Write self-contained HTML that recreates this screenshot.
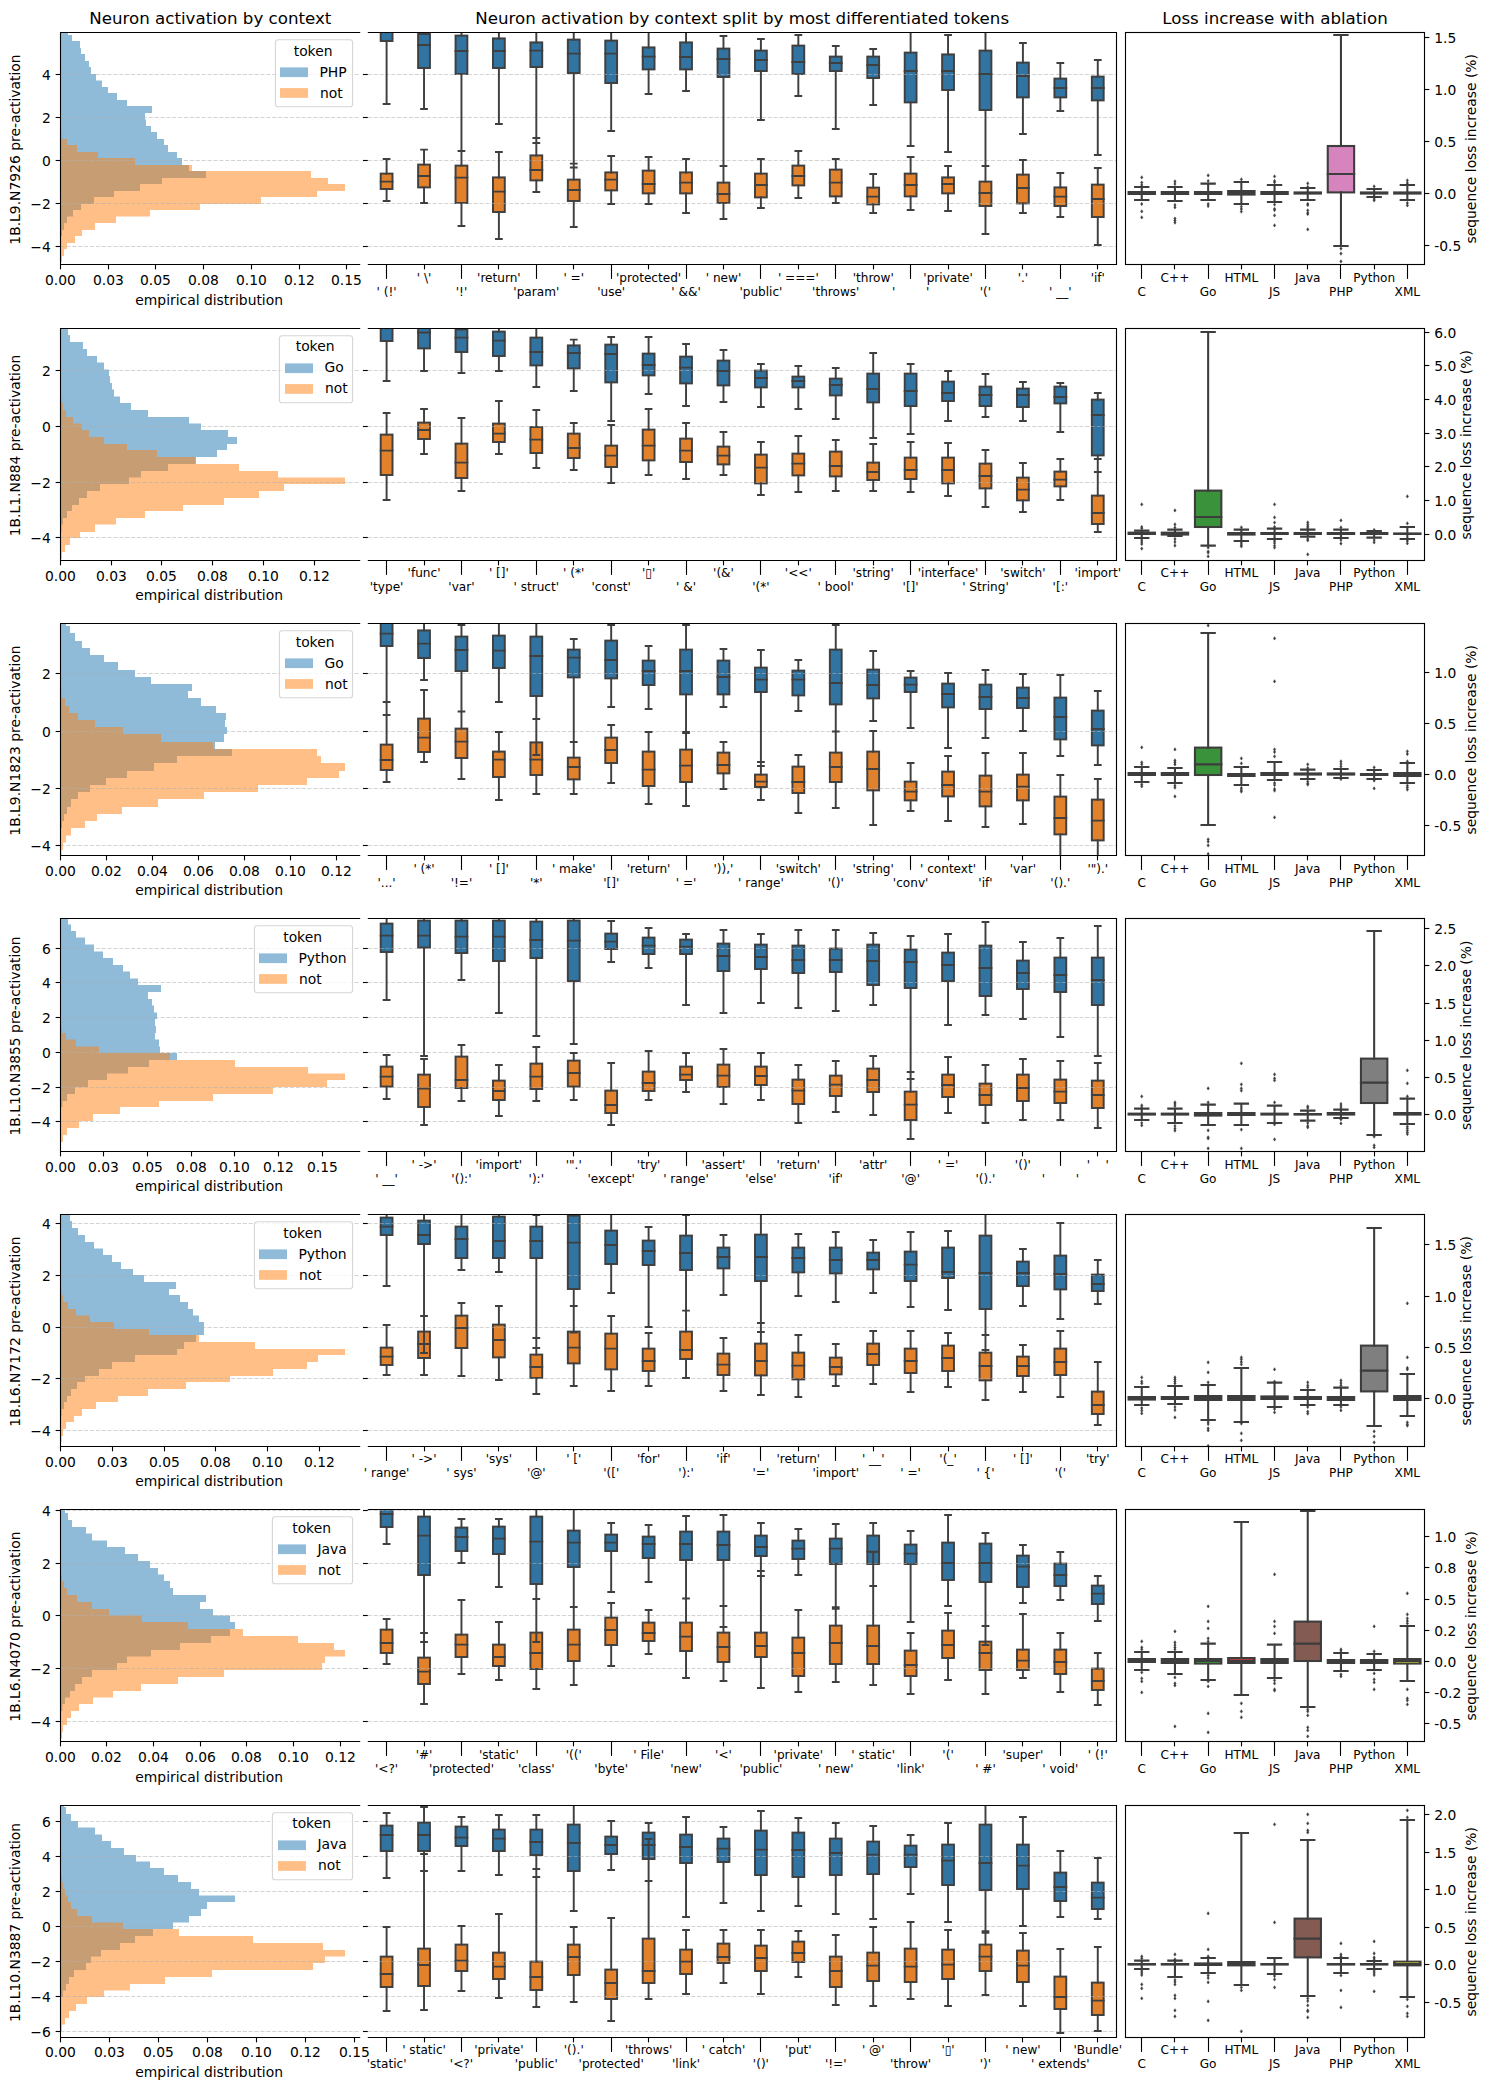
<!DOCTYPE html>
<html lang="en"><head><meta charset="utf-8"><title>Neuron activation by context</title>
<style>html,body{margin:0;padding:0;background:#fff}svg{display:block}text{white-space:pre}</style></head>
<body>
<svg width="1490" height="2090" viewBox="0 0 1490 2090" font-family="'DejaVu Sans','Liberation Sans',sans-serif" fill="#000">
<rect width="1490" height="2090" fill="#fff"/>
<text x="210.35" y="23.5" font-size="16.67" text-anchor="middle">Neuron activation by context</text>
<text x="742.15" y="23.5" font-size="16.67" text-anchor="middle">Neuron activation by context split by most differentiated tokens</text>
<text x="1275" y="23.5" font-size="16.67" text-anchor="middle">Loss increase with ablation</text>
<defs>
<clipPath id="ch0"><rect x="60.5" y="32.5" width="299.7" height="232"/></clipPath>
<clipPath id="cm0"><rect x="367.8" y="32.5" width="748.7" height="232"/></clipPath>
<clipPath id="cl0"><rect x="1125.5" y="32.5" width="299" height="232"/></clipPath>
<clipPath id="ch1"><rect x="60.5" y="328.5" width="299.7" height="232"/></clipPath>
<clipPath id="cm1"><rect x="367.8" y="328.5" width="748.7" height="232"/></clipPath>
<clipPath id="cl1"><rect x="1125.5" y="328.5" width="299" height="232"/></clipPath>
<clipPath id="ch2"><rect x="60.5" y="623.5" width="299.7" height="232"/></clipPath>
<clipPath id="cm2"><rect x="367.8" y="623.5" width="748.7" height="232"/></clipPath>
<clipPath id="cl2"><rect x="1125.5" y="623.5" width="299" height="232"/></clipPath>
<clipPath id="ch3"><rect x="60.5" y="918.5" width="299.7" height="233"/></clipPath>
<clipPath id="cm3"><rect x="367.8" y="918.5" width="748.7" height="233"/></clipPath>
<clipPath id="cl3"><rect x="1125.5" y="918.5" width="299" height="233"/></clipPath>
<clipPath id="ch4"><rect x="60.5" y="1214.5" width="299.7" height="232"/></clipPath>
<clipPath id="cm4"><rect x="367.8" y="1214.5" width="748.7" height="232"/></clipPath>
<clipPath id="cl4"><rect x="1125.5" y="1214.5" width="299" height="232"/></clipPath>
<clipPath id="ch5"><rect x="60.5" y="1509.5" width="299.7" height="232"/></clipPath>
<clipPath id="cm5"><rect x="367.8" y="1509.5" width="748.7" height="232"/></clipPath>
<clipPath id="cl5"><rect x="1125.5" y="1509.5" width="299" height="232"/></clipPath>
<clipPath id="ch6"><rect x="60.5" y="1805.5" width="299.7" height="232"/></clipPath>
<clipPath id="cm6"><rect x="367.8" y="1805.5" width="748.7" height="232"/></clipPath>
<clipPath id="cl6"><rect x="1125.5" y="1805.5" width="299" height="232"/></clipPath>
</defs>
<g id="row0">
<g clip-path="url(#ch0)">
<path d="M60.5 30.5 L68 30.5 L68 35 L72 35 L72 41 L80 41 L80 48 L81 48 L81 54 L85 54 L85 61 L89 61 L89 67 L91 67 L91 74 L96 74 L96 80.4 L102 80.4 L102 87 L108 87 L108 93 L117 93 L117 100 L127 100 L127 106 L152 106 L152 113 L145 113 L145 119.4 L146 119.4 L146 126 L151 126 L151 132 L157 132 L157 139 L164 139 L164 145 L168 145 L168 152 L177 152 L177 158 L182 158 L182 165 L189 165 L189 171 L206 171 L206 178 L162 178 L162 184 L140 184 L140 191 L114 191 L114 197 L94 197 L94 204 L81 204 L81 210 L73 210 L73 216.6 L67 216.6 L67 223 L64 223 L64 230 L62 230 L62 236 L61 236 L61 243 L60.5 243 L60.5 249 L60.5 249 L60.5 256 L60.5 256 L60.5 262 L60.5 262 L60.5 266.5 L60.5 266.5Z" fill="#1f77b4" fill-opacity="0.5"/>
<path d="M60.5 30.5 L60.5 30.5 L60.5 35 L60.5 35 L60.5 41 L60.5 41 L60.5 48 L60.5 48 L60.5 54 L60.5 54 L60.5 61 L60.5 61 L60.5 67 L60.5 67 L60.5 74 L60.5 74 L60.5 80.4 L60.5 80.4 L60.5 87 L60.5 87 L60.5 93 L60.5 93 L60.5 100 L60.5 100 L60.5 106 L60.5 106 L60.5 113 L60.5 113 L60.5 119.4 L60.5 119.4 L60.5 126 L60.5 126 L60.5 132 L61.6 132 L61.6 139 L67 139 L67 145 L77 145 L77 152 L98 152 L98 158 L135 158 L135 165 L192 165 L192 171 L311 171 L311 178 L328 178 L328 184 L345 184 L345 191 L317 191 L317 197 L261 197 L261 204 L200 204 L200 210 L150 210 L150 216.6 L116 216.6 L116 223 L95 223 L95 230 L82 230 L82 236 L75 236 L75 243 L67 243 L67 249 L64 249 L64 256 L62 256 L62 262 L61 262 L61 266.5 L60.5 266.5Z" fill="#ff7f0e" fill-opacity="0.5"/>
<line x1="60.5" y1="74.5" x2="360.2" y2="74.5" stroke="#b0b0b0" stroke-width="1.11" stroke-dasharray="4.1 1.78" opacity="0.55"/>
<line x1="60.5" y1="117.5" x2="360.2" y2="117.5" stroke="#b0b0b0" stroke-width="1.11" stroke-dasharray="4.1 1.78" opacity="0.55"/>
<line x1="60.5" y1="160.5" x2="360.2" y2="160.5" stroke="#b0b0b0" stroke-width="1.11" stroke-dasharray="4.1 1.78" opacity="0.55"/>
<line x1="60.5" y1="203.5" x2="360.2" y2="203.5" stroke="#b0b0b0" stroke-width="1.11" stroke-dasharray="4.1 1.78" opacity="0.55"/>
<line x1="60.5" y1="246.5" x2="360.2" y2="246.5" stroke="#b0b0b0" stroke-width="1.11" stroke-dasharray="4.1 1.78" opacity="0.55"/>
</g>
<line x1="60.5" y1="32.5" x2="60.5" y2="264.5" stroke="#000" stroke-width="1.11"/>
<line x1="59.95" y1="32.5" x2="360.2" y2="32.5" stroke="#000" stroke-width="1.11"/>
<line x1="59.95" y1="264.5" x2="360.2" y2="264.5" stroke="#000" stroke-width="1.11"/>
<line x1="55.64" y1="74.5" x2="60.5" y2="74.5" stroke="#000" stroke-width="1.11"/>
<text x="50.74" y="79.55" font-size="13.89" text-anchor="end">4</text>
<line x1="55.64" y1="117.5" x2="60.5" y2="117.5" stroke="#000" stroke-width="1.11"/>
<text x="50.74" y="122.55" font-size="13.89" text-anchor="end">2</text>
<line x1="55.64" y1="160.5" x2="60.5" y2="160.5" stroke="#000" stroke-width="1.11"/>
<text x="50.74" y="165.55" font-size="13.89" text-anchor="end">0</text>
<line x1="55.64" y1="203.5" x2="60.5" y2="203.5" stroke="#000" stroke-width="1.11"/>
<text x="50.74" y="208.55" font-size="13.89" text-anchor="end">−2</text>
<line x1="55.64" y1="246.5" x2="60.5" y2="246.5" stroke="#000" stroke-width="1.11"/>
<text x="50.74" y="251.55" font-size="13.89" text-anchor="end">−4</text>
<line x1="60.5" y1="264.5" x2="60.5" y2="269.36" stroke="#000" stroke-width="1.11"/>
<text x="60.5" y="284.8" font-size="13.89" text-anchor="middle">0.00</text>
<line x1="108.5" y1="264.5" x2="108.5" y2="269.36" stroke="#000" stroke-width="1.11"/>
<text x="108.5" y="284.8" font-size="13.89" text-anchor="middle">0.03</text>
<line x1="155.5" y1="264.5" x2="155.5" y2="269.36" stroke="#000" stroke-width="1.11"/>
<text x="155.5" y="284.8" font-size="13.89" text-anchor="middle">0.05</text>
<line x1="203.5" y1="264.5" x2="203.5" y2="269.36" stroke="#000" stroke-width="1.11"/>
<text x="203.5" y="284.8" font-size="13.89" text-anchor="middle">0.08</text>
<line x1="251.5" y1="264.5" x2="251.5" y2="269.36" stroke="#000" stroke-width="1.11"/>
<text x="251.5" y="284.8" font-size="13.89" text-anchor="middle">0.10</text>
<line x1="299.5" y1="264.5" x2="299.5" y2="269.36" stroke="#000" stroke-width="1.11"/>
<text x="299.5" y="284.8" font-size="13.89" text-anchor="middle">0.12</text>
<line x1="346.5" y1="264.5" x2="346.5" y2="269.36" stroke="#000" stroke-width="1.11"/>
<text x="346.5" y="284.8" font-size="13.89" text-anchor="middle">0.15</text>
<text x="209.15" y="304.7" font-size="13.89" text-anchor="middle">empirical distribution</text>
<text x="20.1" y="149.5" font-size="13.89" text-anchor="middle" transform="rotate(-90 20.1 149.5)">1B.L9.N7926 pre-activation</text>
<rect x="275.4" y="39.7" width="77.2" height="67" rx="2.8" fill="#fff" fill-opacity="0.8" stroke="#ccc" stroke-opacity="0.8" stroke-width="1.11"/>
<text x="313.1" y="55.7" font-size="13.89" text-anchor="middle">token</text>
<rect x="280" y="67.4" width="28" height="9.7" fill="#1f77b4" fill-opacity="0.5"/>
<rect x="280" y="88.1" width="28" height="9.7" fill="#ff7f0e" fill-opacity="0.5"/>
<text x="319.5" y="76.8" font-size="13.89" text-anchor="start">PHP</text>
<text x="319.9" y="98.1" font-size="13.89" text-anchor="start">not</text>
<g clip-path="url(#cm0)">
<g stroke="#3f3f3f" stroke-width="1.95" stroke-linejoin="miter"><rect x="380.7" y="12.5" width="11.8" height="28.5" fill="#3274a1"/><rect x="418.13" y="34" width="11.8" height="34" fill="#3274a1"/><rect x="455.56" y="35.6" width="11.8" height="38.4" fill="#3274a1"/><rect x="492.99" y="38.4" width="11.8" height="29.6" fill="#3274a1"/><rect x="530.42" y="42.4" width="11.8" height="24.6" fill="#3274a1"/><rect x="567.85" y="39.6" width="11.8" height="33.4" fill="#3274a1"/><rect x="605.28" y="40.6" width="11.8" height="42.4" fill="#3274a1"/><rect x="642.71" y="47.4" width="11.8" height="22" fill="#3274a1"/><rect x="680.14" y="42.4" width="11.8" height="27" fill="#3274a1"/><rect x="717.57" y="48.6" width="11.8" height="28.4" fill="#3274a1"/><rect x="755" y="50.6" width="11.8" height="20.4" fill="#3274a1"/><rect x="792.43" y="45.6" width="11.8" height="28.4" fill="#3274a1"/><rect x="829.86" y="56.6" width="11.8" height="14.4" fill="#3274a1"/><rect x="867.29" y="56.6" width="11.8" height="21.4" fill="#3274a1"/><rect x="904.72" y="52.6" width="11.8" height="49.8" fill="#3274a1"/><rect x="942.15" y="54.4" width="11.8" height="35.6" fill="#3274a1"/><rect x="979.58" y="50.6" width="11.8" height="59.4" fill="#3274a1"/><rect x="1017.01" y="62.6" width="11.8" height="34.8" fill="#3274a1"/><rect x="1054.44" y="78.6" width="11.8" height="18.8" fill="#3274a1"/><rect x="1091.87" y="76.6" width="11.8" height="23.8" fill="#3274a1"/><rect x="380.7" y="173.6" width="11.8" height="15.4" fill="#e1812c"/><rect x="418.13" y="164.6" width="11.8" height="22.8" fill="#e1812c"/><rect x="455.56" y="165.6" width="11.8" height="37.4" fill="#e1812c"/><rect x="492.99" y="177.4" width="11.8" height="34.6" fill="#e1812c"/><rect x="530.42" y="155.4" width="11.8" height="25" fill="#e1812c"/><rect x="567.85" y="179.6" width="11.8" height="21.4" fill="#e1812c"/><rect x="605.28" y="172.4" width="11.8" height="18" fill="#e1812c"/><rect x="642.71" y="170.6" width="11.8" height="22.8" fill="#e1812c"/><rect x="680.14" y="172.4" width="11.8" height="21" fill="#e1812c"/><rect x="717.57" y="182.6" width="11.8" height="20.4" fill="#e1812c"/><rect x="755" y="173.6" width="11.8" height="23.8" fill="#e1812c"/><rect x="792.43" y="165.6" width="11.8" height="19.8" fill="#e1812c"/><rect x="829.86" y="169.6" width="11.8" height="26.8" fill="#e1812c"/><rect x="867.29" y="187.6" width="11.8" height="16.8" fill="#e1812c"/><rect x="904.72" y="173.6" width="11.8" height="22.8" fill="#e1812c"/><rect x="942.15" y="177.4" width="11.8" height="16" fill="#e1812c"/><rect x="979.58" y="181.6" width="11.8" height="24.4" fill="#e1812c"/><rect x="1017.01" y="174.6" width="11.8" height="28.8" fill="#e1812c"/><rect x="1054.44" y="187.4" width="11.8" height="18.6" fill="#e1812c"/><rect x="1091.87" y="184.6" width="11.8" height="32.4" fill="#e1812c"/></g>
<line x1="367.8" y1="74.5" x2="1116.5" y2="74.5" stroke="#b0b0b0" stroke-width="1.11" stroke-dasharray="4.1 1.78" opacity="0.55"/>
<line x1="367.8" y1="117.5" x2="1116.5" y2="117.5" stroke="#b0b0b0" stroke-width="1.11" stroke-dasharray="4.1 1.78" opacity="0.55"/>
<line x1="367.8" y1="160.5" x2="1116.5" y2="160.5" stroke="#b0b0b0" stroke-width="1.11" stroke-dasharray="4.1 1.78" opacity="0.55"/>
<line x1="367.8" y1="203.5" x2="1116.5" y2="203.5" stroke="#b0b0b0" stroke-width="1.11" stroke-dasharray="4.1 1.78" opacity="0.55"/>
<line x1="367.8" y1="246.5" x2="1116.5" y2="246.5" stroke="#b0b0b0" stroke-width="1.11" stroke-dasharray="4.1 1.78" opacity="0.55"/>
<path d="M386.6 12.5V12.5M386.6 41V104M383.7 12.5H389.5M383.7 104H389.5M418.13 45H429.93M424.03 12.5V34M424.03 68V109M421.13 12.5H426.93M421.13 109H426.93M455.56 51H467.36M461.46 12.5V35.6M461.46 74V151M458.56 12.5H464.36M458.56 151H464.36M492.99 51H504.79M498.89 12.5V38.4M498.89 68V124M495.99 12.5H501.79M495.99 124H501.79M530.42 50.6H542.22M536.32 12.5V42.4M536.32 67V143M533.42 12.5H539.22M533.42 143H539.22M567.85 53.6H579.65M573.75 12.5V39.6M573.75 73V167.4M570.85 12.5H576.65M570.85 167.4H576.65M605.28 53.6H617.08M611.18 12.5V40.6M611.18 83V131M608.28 12.5H614.08M608.28 131H614.08M642.71 56.6H654.51M648.61 12.5V47.4M648.61 69.4V94M645.71 12.5H651.51M645.71 94H651.51M680.14 57H691.94M686.04 12.5V42.4M686.04 69.4V91M683.14 12.5H688.94M683.14 91H688.94M717.57 59H729.37M723.47 36V48.6M723.47 77V166M720.57 36H726.37M720.57 166H726.37M755 60H766.8M760.9 39V50.6M760.9 71V120M758 39H763.8M758 120H763.8M792.43 62H804.23M798.33 35V45.6M798.33 74V96M795.43 35H801.23M795.43 96H801.23M829.86 63H841.66M835.76 46V56.6M835.76 71V129M832.86 46H838.66M832.86 129H838.66M867.29 65H879.09M873.19 49V56.6M873.19 78V105M870.29 49H876.09M870.29 105H876.09M904.72 71H916.52M910.62 12.5V52.6M910.62 102.4V146M907.72 12.5H913.52M907.72 146H913.52M942.15 71H953.95M948.05 35V54.4M948.05 90V152M945.15 35H950.95M945.15 152H950.95M979.58 74H991.38M985.48 12.5V50.6M985.48 110V166M982.58 12.5H988.38M982.58 166H988.38M1017.01 76H1028.81M1022.91 43V62.6M1022.91 97.4V134M1020.01 43H1025.81M1020.01 134H1025.81M1054.44 88H1066.24M1060.34 63V78.6M1060.34 97.4V111M1057.44 63H1063.24M1057.44 111H1063.24M1091.87 88H1103.67M1097.77 60V76.6M1097.77 100.4V155M1094.87 60H1100.67M1094.87 155H1100.67M380.7 181.6H392.5M386.6 159V173.6M386.6 189V201M383.7 159H389.5M383.7 201H389.5M418.13 176H429.93M424.03 149.6V164.6M424.03 187.4V203M421.13 149.6H426.93M421.13 203H426.93M455.56 177.6H467.36M461.46 151V165.6M461.46 203V226M458.56 151H464.36M458.56 226H464.36M492.99 191.6H504.79M498.89 152V177.4M498.89 212V239M495.99 152H501.79M495.99 239H501.79M530.42 170H542.22M536.32 138V155.4M536.32 180.4V192M533.42 138H539.22M533.42 192H539.22M567.85 190H579.65M573.75 163.6V179.6M573.75 201V227M570.85 163.6H576.65M570.85 227H576.65M605.28 179.6H617.08M611.18 156V172.4M611.18 190.4V204M608.28 156H614.08M608.28 204H614.08M642.71 184H654.51M648.61 157V170.6M648.61 193.4V204M645.71 157H651.51M645.71 204H651.51M680.14 182.6H691.94M686.04 159V172.4M686.04 193.4V213M683.14 159H688.94M683.14 213H688.94M717.57 194H729.37M723.47 166V182.6M723.47 203V219M720.57 166H726.37M720.57 219H726.37M755 185H766.8M760.9 159V173.6M760.9 197.4V208M758 159H763.8M758 208H763.8M792.43 176H804.23M798.33 151V165.6M798.33 185.4V198M795.43 151H801.23M795.43 198H801.23M829.86 182.6H841.66M835.76 159V169.6M835.76 196.4V203M832.86 159H838.66M832.86 203H838.66M867.29 196.6H879.09M873.19 174V187.6M873.19 204.4V213M870.29 174H876.09M870.29 213H876.09M904.72 185H916.52M910.62 157V173.6M910.62 196.4V210M907.72 157H913.52M907.72 210H913.52M942.15 184H953.95M948.05 166V177.4M948.05 193.4V211M945.15 166H950.95M945.15 211H950.95M979.58 193H991.38M985.48 166V181.6M985.48 206V234M982.58 166H988.38M982.58 234H988.38M1017.01 188H1028.81M1022.91 160V174.6M1022.91 203.4V213M1020.01 160H1025.81M1020.01 213H1025.81M1054.44 196.6H1066.24M1060.34 173V187.4M1060.34 206V217M1057.44 173H1063.24M1057.44 217H1063.24M1091.87 199H1103.67M1097.77 168V184.6M1097.77 217V245M1094.87 168H1100.67M1094.87 245H1100.67" fill="none" stroke="#3f3f3f" stroke-width="1.95" stroke-linecap="square"/>
</g>
<line x1="367.8" y1="32.5" x2="1117.06" y2="32.5" stroke="#000" stroke-width="1.11"/>
<line x1="367.8" y1="264.5" x2="1117.06" y2="264.5" stroke="#000" stroke-width="1.11"/>
<line x1="1116.5" y1="32.5" x2="1116.5" y2="264.5" stroke="#000" stroke-width="1.11"/>
<line x1="362.94" y1="74.5" x2="367.8" y2="74.5" stroke="#000" stroke-width="1.11"/>
<line x1="362.94" y1="117.5" x2="367.8" y2="117.5" stroke="#000" stroke-width="1.11"/>
<line x1="362.94" y1="160.5" x2="367.8" y2="160.5" stroke="#000" stroke-width="1.11"/>
<line x1="362.94" y1="203.5" x2="367.8" y2="203.5" stroke="#000" stroke-width="1.11"/>
<line x1="362.94" y1="246.5" x2="367.8" y2="246.5" stroke="#000" stroke-width="1.11"/>
<line x1="386.5" y1="264.5" x2="386.5" y2="278.9" stroke="#000" stroke-width="1.11"/>
<text x="386.6" y="296.2" font-size="12.1" text-anchor="middle" xml:space="preserve">' (!'</text>
<line x1="424.5" y1="264.5" x2="424.5" y2="269.36" stroke="#000" stroke-width="1.11"/>
<text x="424.03" y="282" font-size="12.1" text-anchor="middle" xml:space="preserve">' \'</text>
<line x1="461.5" y1="264.5" x2="461.5" y2="278.9" stroke="#000" stroke-width="1.11"/>
<text x="461.46" y="296.2" font-size="12.1" text-anchor="middle" xml:space="preserve">'!'</text>
<line x1="498.5" y1="264.5" x2="498.5" y2="269.36" stroke="#000" stroke-width="1.11"/>
<text x="498.89" y="282" font-size="12.1" text-anchor="middle" xml:space="preserve">'return'</text>
<line x1="536.5" y1="264.5" x2="536.5" y2="278.9" stroke="#000" stroke-width="1.11"/>
<text x="536.32" y="296.2" font-size="12.1" text-anchor="middle" xml:space="preserve">'param'</text>
<line x1="573.5" y1="264.5" x2="573.5" y2="269.36" stroke="#000" stroke-width="1.11"/>
<text x="573.75" y="282" font-size="12.1" text-anchor="middle" xml:space="preserve">' ='</text>
<line x1="611.5" y1="264.5" x2="611.5" y2="278.9" stroke="#000" stroke-width="1.11"/>
<text x="611.18" y="296.2" font-size="12.1" text-anchor="middle" xml:space="preserve">'use'</text>
<line x1="648.5" y1="264.5" x2="648.5" y2="269.36" stroke="#000" stroke-width="1.11"/>
<text x="648.61" y="282" font-size="12.1" text-anchor="middle" xml:space="preserve">'protected'</text>
<line x1="686.5" y1="264.5" x2="686.5" y2="278.9" stroke="#000" stroke-width="1.11"/>
<text x="686.04" y="296.2" font-size="12.1" text-anchor="middle" xml:space="preserve">' &amp;&amp;'</text>
<line x1="723.5" y1="264.5" x2="723.5" y2="269.36" stroke="#000" stroke-width="1.11"/>
<text x="723.47" y="282" font-size="12.1" text-anchor="middle" xml:space="preserve">' new'</text>
<line x1="760.5" y1="264.5" x2="760.5" y2="278.9" stroke="#000" stroke-width="1.11"/>
<text x="760.9" y="296.2" font-size="12.1" text-anchor="middle" xml:space="preserve">'public'</text>
<line x1="798.5" y1="264.5" x2="798.5" y2="269.36" stroke="#000" stroke-width="1.11"/>
<text x="798.33" y="282" font-size="12.1" text-anchor="middle" xml:space="preserve">' ==='</text>
<line x1="835.5" y1="264.5" x2="835.5" y2="278.9" stroke="#000" stroke-width="1.11"/>
<text x="835.76" y="296.2" font-size="12.1" text-anchor="middle" xml:space="preserve">'throws'</text>
<line x1="873.5" y1="264.5" x2="873.5" y2="269.36" stroke="#000" stroke-width="1.11"/>
<text x="873.19" y="282" font-size="12.1" text-anchor="middle" xml:space="preserve">'throw'</text>
<line x1="910.5" y1="264.5" x2="910.5" y2="278.9" stroke="#000" stroke-width="1.11"/>
<text x="910.62" y="296.2" font-size="12.1" text-anchor="middle" xml:space="preserve">'        '</text>
<line x1="948.5" y1="264.5" x2="948.5" y2="269.36" stroke="#000" stroke-width="1.11"/>
<text x="948.05" y="282" font-size="12.1" text-anchor="middle" xml:space="preserve">'private'</text>
<line x1="985.5" y1="264.5" x2="985.5" y2="278.9" stroke="#000" stroke-width="1.11"/>
<text x="985.48" y="296.2" font-size="12.1" text-anchor="middle" xml:space="preserve">'('</text>
<line x1="1022.5" y1="264.5" x2="1022.5" y2="269.36" stroke="#000" stroke-width="1.11"/>
<text x="1022.91" y="282" font-size="12.1" text-anchor="middle" xml:space="preserve">'.'</text>
<line x1="1060.5" y1="264.5" x2="1060.5" y2="278.9" stroke="#000" stroke-width="1.11"/>
<text x="1060.34" y="296.2" font-size="12.1" text-anchor="middle" xml:space="preserve">' __'</text>
<line x1="1097.5" y1="264.5" x2="1097.5" y2="269.36" stroke="#000" stroke-width="1.11"/>
<text x="1097.77" y="282" font-size="12.1" text-anchor="middle" xml:space="preserve">'if'</text>
<g clip-path="url(#cl0)">
<g stroke="#3d3d3d" stroke-width="2.08"><rect x="1327.75" y="146" width="26.4" height="46.4" fill="#d684bd"/></g>
<path d="M1141.75 187V191M1141.75 195V200M1135.1 187H1148.4M1135.1 200H1148.4M1174.95 187V191M1174.95 195V201M1168.3 187H1181.6M1168.3 201H1181.6M1208.15 183.6V191M1208.15 195V200M1201.5 183.6H1214.8M1201.5 200H1214.8M1241.35 182V190M1241.35 195.6V204M1234.7 182H1248M1234.7 204H1248M1274.55 185V191M1274.55 195V202M1267.9 185H1281.2M1267.9 202H1281.2M1307.75 188V191.4M1307.75 194.6V200M1301.1 188H1314.4M1301.1 200H1314.4M1327.75 174H1354.15M1340.95 35V146M1340.95 192.4V246M1334.3 35H1347.6M1334.3 246H1347.6M1374.15 189V191.4M1374.15 194.6V197M1367.5 189H1380.8M1367.5 197H1380.8M1407.35 185V191.4M1407.35 194.6V200M1400.7 185H1414M1400.7 200H1414" fill="none" stroke="#3d3d3d" stroke-width="2.08" stroke-linecap="square"/>
<rect x="1127.51" y="191" width="28.48" height="4" fill="#3d3d3d"/><rect x="1160.71" y="191" width="28.48" height="4" fill="#3d3d3d"/><rect x="1193.91" y="191" width="28.48" height="4" fill="#3d3d3d"/><rect x="1227.11" y="190" width="28.48" height="5.6" fill="#3d3d3d"/><rect x="1260.31" y="191" width="28.48" height="4" fill="#3d3d3d"/><rect x="1293.51" y="191.4" width="28.48" height="3.2" fill="#3d3d3d"/><rect x="1359.91" y="191.4" width="28.48" height="3.2" fill="#3d3d3d"/><rect x="1393.11" y="191.4" width="28.48" height="3.2" fill="#3d3d3d"/>
<path d="M1141.75 175.7l1.15 1.7l-1.15 1.7l-1.15 -1.7zM1141.75 180.9l1.15 1.7l-1.15 1.7l-1.15 -1.7zM1141.75 183.3l1.15 1.7l-1.15 1.7l-1.15 -1.7zM1141.75 202.3l1.15 1.7l-1.15 1.7l-1.15 -1.7zM1141.75 209.7l1.15 1.7l-1.15 1.7l-1.15 -1.7zM1141.75 215.7l1.15 1.7l-1.15 1.7l-1.15 -1.7zM1174.95 179.7l1.15 1.7l-1.15 1.7l-1.15 -1.7zM1174.95 182.3l1.15 1.7l-1.15 1.7l-1.15 -1.7zM1174.95 203.3l1.15 1.7l-1.15 1.7l-1.15 -1.7zM1174.95 205.7l1.15 1.7l-1.15 1.7l-1.15 -1.7zM1174.95 216.9l1.15 1.7l-1.15 1.7l-1.15 -1.7zM1174.95 218.7l1.15 1.7l-1.15 1.7l-1.15 -1.7zM1174.95 220.9l1.15 1.7l-1.15 1.7l-1.15 -1.7zM1208.15 173.7l1.15 1.7l-1.15 1.7l-1.15 -1.7zM1208.15 179.3l1.15 1.7l-1.15 1.7l-1.15 -1.7zM1208.15 202.3l1.15 1.7l-1.15 1.7l-1.15 -1.7zM1208.15 204.3l1.15 1.7l-1.15 1.7l-1.15 -1.7zM1241.35 177.7l1.15 1.7l-1.15 1.7l-1.15 -1.7zM1241.35 204.9l1.15 1.7l-1.15 1.7l-1.15 -1.7zM1241.35 207.3l1.15 1.7l-1.15 1.7l-1.15 -1.7zM1241.35 209.9l1.15 1.7l-1.15 1.7l-1.15 -1.7zM1274.55 174.7l1.15 1.7l-1.15 1.7l-1.15 -1.7zM1274.55 179.3l1.15 1.7l-1.15 1.7l-1.15 -1.7zM1274.55 180.7l1.15 1.7l-1.15 1.7l-1.15 -1.7zM1274.55 202.9l1.15 1.7l-1.15 1.7l-1.15 -1.7zM1274.55 207.3l1.15 1.7l-1.15 1.7l-1.15 -1.7zM1274.55 208.3l1.15 1.7l-1.15 1.7l-1.15 -1.7zM1274.55 213.7l1.15 1.7l-1.15 1.7l-1.15 -1.7zM1274.55 223.7l1.15 1.7l-1.15 1.7l-1.15 -1.7zM1307.75 181.7l1.15 1.7l-1.15 1.7l-1.15 -1.7zM1307.75 185.3l1.15 1.7l-1.15 1.7l-1.15 -1.7zM1307.75 202.3l1.15 1.7l-1.15 1.7l-1.15 -1.7zM1307.75 203.3l1.15 1.7l-1.15 1.7l-1.15 -1.7zM1307.75 208.7l1.15 1.7l-1.15 1.7l-1.15 -1.7zM1307.75 211.3l1.15 1.7l-1.15 1.7l-1.15 -1.7zM1307.75 212.3l1.15 1.7l-1.15 1.7l-1.15 -1.7zM1307.75 227.7l1.15 1.7l-1.15 1.7l-1.15 -1.7zM1340.95 246.9l1.15 1.7l-1.15 1.7l-1.15 -1.7zM1340.95 251.9l1.15 1.7l-1.15 1.7l-1.15 -1.7zM1340.95 259.7l1.15 1.7l-1.15 1.7l-1.15 -1.7zM1374.15 184.7l1.15 1.7l-1.15 1.7l-1.15 -1.7zM1374.15 197.3l1.15 1.7l-1.15 1.7l-1.15 -1.7zM1374.15 198.7l1.15 1.7l-1.15 1.7l-1.15 -1.7zM1407.35 178.7l1.15 1.7l-1.15 1.7l-1.15 -1.7zM1407.35 181.3l1.15 1.7l-1.15 1.7l-1.15 -1.7zM1407.35 201.3l1.15 1.7l-1.15 1.7l-1.15 -1.7zM1407.35 203.7l1.15 1.7l-1.15 1.7l-1.15 -1.7z" fill="#3d3d3d" stroke="#3d3d3d" stroke-width="0.5"/>
</g>
<rect x="1125.5" y="32.5" width="299" height="232" fill="none" stroke="#000" stroke-width="1.11"/>
<line x1="1424.5" y1="37.5" x2="1429.36" y2="37.5" stroke="#000" stroke-width="1.11"/>
<text x="1434.26" y="43" font-size="13.89" text-anchor="start">1.5</text>
<line x1="1424.5" y1="89.5" x2="1429.36" y2="89.5" stroke="#000" stroke-width="1.11"/>
<text x="1434.26" y="95" font-size="13.89" text-anchor="start">1.0</text>
<line x1="1424.5" y1="141.5" x2="1429.36" y2="141.5" stroke="#000" stroke-width="1.11"/>
<text x="1434.26" y="147" font-size="13.89" text-anchor="start">0.5</text>
<line x1="1424.5" y1="193.5" x2="1429.36" y2="193.5" stroke="#000" stroke-width="1.11"/>
<text x="1434.26" y="199" font-size="13.89" text-anchor="start">0.0</text>
<line x1="1424.5" y1="245.5" x2="1429.36" y2="245.5" stroke="#000" stroke-width="1.11"/>
<text x="1434.26" y="251" font-size="13.89" text-anchor="start">-0.5</text>
<line x1="1141.5" y1="264.5" x2="1141.5" y2="278.9" stroke="#000" stroke-width="1.11"/>
<text x="1141.75" y="296.2" font-size="12.1" text-anchor="middle">C</text>
<line x1="1174.5" y1="264.5" x2="1174.5" y2="269.36" stroke="#000" stroke-width="1.11"/>
<text x="1174.95" y="282" font-size="12.1" text-anchor="middle">C++</text>
<line x1="1208.5" y1="264.5" x2="1208.5" y2="278.9" stroke="#000" stroke-width="1.11"/>
<text x="1208.15" y="296.2" font-size="12.1" text-anchor="middle">Go</text>
<line x1="1241.5" y1="264.5" x2="1241.5" y2="269.36" stroke="#000" stroke-width="1.11"/>
<text x="1241.35" y="282" font-size="12.1" text-anchor="middle">HTML</text>
<line x1="1274.5" y1="264.5" x2="1274.5" y2="278.9" stroke="#000" stroke-width="1.11"/>
<text x="1274.55" y="296.2" font-size="12.1" text-anchor="middle">JS</text>
<line x1="1307.5" y1="264.5" x2="1307.5" y2="269.36" stroke="#000" stroke-width="1.11"/>
<text x="1307.75" y="282" font-size="12.1" text-anchor="middle">Java</text>
<line x1="1340.5" y1="264.5" x2="1340.5" y2="278.9" stroke="#000" stroke-width="1.11"/>
<text x="1340.95" y="296.2" font-size="12.1" text-anchor="middle">PHP</text>
<line x1="1374.5" y1="264.5" x2="1374.5" y2="269.36" stroke="#000" stroke-width="1.11"/>
<text x="1374.15" y="282" font-size="12.1" text-anchor="middle">Python</text>
<line x1="1407.5" y1="264.5" x2="1407.5" y2="278.9" stroke="#000" stroke-width="1.11"/>
<text x="1407.35" y="296.2" font-size="12.1" text-anchor="middle">XML</text>
<text x="1475.7" y="148.8" font-size="13.89" text-anchor="middle" transform="rotate(-90 1475.7 148.8)">sequence loss increase (%)</text>
</g>
<g id="row1">
<g clip-path="url(#ch1)">
<path d="M60.5 326.5 L68 326.5 L68 335 L70 335 L70 342 L83 342 L83 349 L87 349 L87 356 L97 356 L97 362.4 L104 362.4 L104 369.4 L109 369.4 L109 376 L110 376 L110 383 L112 383 L112 389.6 L114 389.6 L114 396.4 L120 396.4 L120 403 L131 403 L131 410 L148 410 L148 417 L189 417 L189 423.4 L201 423.4 L201 430 L228 430 L228 437 L237 437 L237 444 L227 444 L227 450 L217 450 L217 457 L196 457 L196 464 L168 464 L168 471 L141 471 L141 477.4 L129 477.4 L129 484 L100 484 L100 491 L87 491 L87 498 L79 498 L79 505 L72 505 L72 511 L67 511 L67 518 L63 518 L63 524.6 L61.6 524.6 L61.6 532 L60.5 532 L60.5 538 L60.5 538 L60.5 545 L60.5 545 L60.5 552 L60.5 552 L60.5 559 L60.5 559 L60.5 562.5 L60.5 562.5Z" fill="#1f77b4" fill-opacity="0.5"/>
<path d="M60.5 326.5 L60.5 326.5 L60.5 335 L60.5 335 L60.5 342 L60.5 342 L60.5 349 L60.5 349 L60.5 356 L60.5 356 L60.5 362.4 L60.5 362.4 L60.5 369.4 L60.5 369.4 L60.5 376 L60.5 376 L60.5 383 L60.5 383 L60.5 389.6 L60.5 389.6 L60.5 396.4 L61.6 396.4 L61.6 403 L63 403 L63 410 L66 410 L66 417 L73 417 L73 423.4 L82 423.4 L82 430 L89 430 L89 437 L104 437 L104 444 L127 444 L127 450 L157 450 L157 457 L195 457 L195 464 L239 464 L239 471 L278 471 L278 477.4 L345 477.4 L345 484 L284 484 L284 491 L259 491 L259 498 L224 498 L224 505 L183 505 L183 511 L145 511 L145 518 L116 518 L116 524.6 L95 524.6 L95 532 L80 532 L80 538 L70 538 L70 545 L65 545 L65 552 L62 552 L62 559 L60.8 559 L60.8 562.5 L60.5 562.5Z" fill="#ff7f0e" fill-opacity="0.5"/>
<line x1="60.5" y1="370.5" x2="360.2" y2="370.5" stroke="#b0b0b0" stroke-width="1.11" stroke-dasharray="4.1 1.78" opacity="0.55"/>
<line x1="60.5" y1="426.5" x2="360.2" y2="426.5" stroke="#b0b0b0" stroke-width="1.11" stroke-dasharray="4.1 1.78" opacity="0.55"/>
<line x1="60.5" y1="482.5" x2="360.2" y2="482.5" stroke="#b0b0b0" stroke-width="1.11" stroke-dasharray="4.1 1.78" opacity="0.55"/>
<line x1="60.5" y1="537.5" x2="360.2" y2="537.5" stroke="#b0b0b0" stroke-width="1.11" stroke-dasharray="4.1 1.78" opacity="0.55"/>
</g>
<line x1="60.5" y1="328.5" x2="60.5" y2="560.5" stroke="#000" stroke-width="1.11"/>
<line x1="59.95" y1="328.5" x2="360.2" y2="328.5" stroke="#000" stroke-width="1.11"/>
<line x1="59.95" y1="560.5" x2="360.2" y2="560.5" stroke="#000" stroke-width="1.11"/>
<line x1="55.64" y1="370.5" x2="60.5" y2="370.5" stroke="#000" stroke-width="1.11"/>
<text x="50.74" y="375.55" font-size="13.89" text-anchor="end">2</text>
<line x1="55.64" y1="426.5" x2="60.5" y2="426.5" stroke="#000" stroke-width="1.11"/>
<text x="50.74" y="431.55" font-size="13.89" text-anchor="end">0</text>
<line x1="55.64" y1="482.5" x2="60.5" y2="482.5" stroke="#000" stroke-width="1.11"/>
<text x="50.74" y="487.55" font-size="13.89" text-anchor="end">−2</text>
<line x1="55.64" y1="537.5" x2="60.5" y2="537.5" stroke="#000" stroke-width="1.11"/>
<text x="50.74" y="542.55" font-size="13.89" text-anchor="end">−4</text>
<line x1="60.5" y1="560.5" x2="60.5" y2="565.36" stroke="#000" stroke-width="1.11"/>
<text x="60.5" y="580.8" font-size="13.89" text-anchor="middle">0.00</text>
<line x1="111.5" y1="560.5" x2="111.5" y2="565.36" stroke="#000" stroke-width="1.11"/>
<text x="111.5" y="580.8" font-size="13.89" text-anchor="middle">0.03</text>
<line x1="161.5" y1="560.5" x2="161.5" y2="565.36" stroke="#000" stroke-width="1.11"/>
<text x="161.5" y="580.8" font-size="13.89" text-anchor="middle">0.05</text>
<line x1="212.5" y1="560.5" x2="212.5" y2="565.36" stroke="#000" stroke-width="1.11"/>
<text x="212.5" y="580.8" font-size="13.89" text-anchor="middle">0.08</text>
<line x1="263.5" y1="560.5" x2="263.5" y2="565.36" stroke="#000" stroke-width="1.11"/>
<text x="263.5" y="580.8" font-size="13.89" text-anchor="middle">0.10</text>
<line x1="314.5" y1="560.5" x2="314.5" y2="565.36" stroke="#000" stroke-width="1.11"/>
<text x="314.5" y="580.8" font-size="13.89" text-anchor="middle">0.12</text>
<text x="209.15" y="599.7" font-size="13.89" text-anchor="middle">empirical distribution</text>
<text x="20.1" y="445.5" font-size="13.89" text-anchor="middle" transform="rotate(-90 20.1 445.5)">1B.L1.N884 pre-activation</text>
<rect x="279.4" y="335.7" width="73.2" height="67" rx="2.8" fill="#fff" fill-opacity="0.8" stroke="#ccc" stroke-opacity="0.8" stroke-width="1.11"/>
<text x="315.1" y="350.7" font-size="13.89" text-anchor="middle">token</text>
<rect x="285" y="363.4" width="28" height="9.7" fill="#1f77b4" fill-opacity="0.5"/>
<rect x="285" y="384.1" width="28" height="9.7" fill="#ff7f0e" fill-opacity="0.5"/>
<text x="324.5" y="371.8" font-size="13.89" text-anchor="start">Go</text>
<text x="324.9" y="393.1" font-size="13.89" text-anchor="start">not</text>
<g clip-path="url(#cm1)">
<g stroke="#3f3f3f" stroke-width="1.95" stroke-linejoin="miter"><rect x="380.7" y="308.5" width="11.8" height="32.5" fill="#3274a1"/><rect x="418.13" y="308.5" width="11.8" height="39.9" fill="#3274a1"/><rect x="455.56" y="329.4" width="11.8" height="22.6" fill="#3274a1"/><rect x="492.99" y="331.6" width="11.8" height="24.4" fill="#3274a1"/><rect x="530.42" y="337.6" width="11.8" height="27.8" fill="#3274a1"/><rect x="567.85" y="345.4" width="11.8" height="23" fill="#3274a1"/><rect x="605.28" y="344.6" width="11.8" height="37.8" fill="#3274a1"/><rect x="642.71" y="353.6" width="11.8" height="21.8" fill="#3274a1"/><rect x="680.14" y="356.6" width="11.8" height="26.8" fill="#3274a1"/><rect x="717.57" y="360.6" width="11.8" height="24.8" fill="#3274a1"/><rect x="755" y="370.6" width="11.8" height="16.8" fill="#3274a1"/><rect x="792.43" y="376.6" width="11.8" height="10.8" fill="#3274a1"/><rect x="829.86" y="378.6" width="11.8" height="16.8" fill="#3274a1"/><rect x="867.29" y="373.6" width="11.8" height="28.8" fill="#3274a1"/><rect x="904.72" y="373.6" width="11.8" height="32.4" fill="#3274a1"/><rect x="942.15" y="381.6" width="11.8" height="19.4" fill="#3274a1"/><rect x="979.58" y="386.6" width="11.8" height="19.4" fill="#3274a1"/><rect x="1017.01" y="388.6" width="11.8" height="18.4" fill="#3274a1"/><rect x="1054.44" y="386.6" width="11.8" height="16.8" fill="#3274a1"/><rect x="1091.87" y="399.6" width="11.8" height="55.8" fill="#3274a1"/><rect x="380.7" y="434.6" width="11.8" height="40.4" fill="#e1812c"/><rect x="418.13" y="422.6" width="11.8" height="16.4" fill="#e1812c"/><rect x="455.56" y="443.6" width="11.8" height="34.4" fill="#e1812c"/><rect x="492.99" y="423.6" width="11.8" height="18.4" fill="#e1812c"/><rect x="530.42" y="427" width="11.8" height="26" fill="#e1812c"/><rect x="567.85" y="433.6" width="11.8" height="24.4" fill="#e1812c"/><rect x="605.28" y="445.6" width="11.8" height="21.4" fill="#e1812c"/><rect x="642.71" y="429.6" width="11.8" height="30.8" fill="#e1812c"/><rect x="680.14" y="438.6" width="11.8" height="23.4" fill="#e1812c"/><rect x="717.57" y="446.6" width="11.8" height="17.8" fill="#e1812c"/><rect x="755" y="454.6" width="11.8" height="28.8" fill="#e1812c"/><rect x="792.43" y="453.6" width="11.8" height="21.8" fill="#e1812c"/><rect x="829.86" y="451.6" width="11.8" height="24.8" fill="#e1812c"/><rect x="867.29" y="462.6" width="11.8" height="17.4" fill="#e1812c"/><rect x="904.72" y="457.6" width="11.8" height="21.4" fill="#e1812c"/><rect x="942.15" y="457.6" width="11.8" height="25.8" fill="#e1812c"/><rect x="979.58" y="463.6" width="11.8" height="24.8" fill="#e1812c"/><rect x="1017.01" y="477.6" width="11.8" height="22.8" fill="#e1812c"/><rect x="1054.44" y="471.6" width="11.8" height="14.8" fill="#e1812c"/><rect x="1091.87" y="495.6" width="11.8" height="28.4" fill="#e1812c"/></g>
<line x1="367.8" y1="370.5" x2="1116.5" y2="370.5" stroke="#b0b0b0" stroke-width="1.11" stroke-dasharray="4.1 1.78" opacity="0.55"/>
<line x1="367.8" y1="426.5" x2="1116.5" y2="426.5" stroke="#b0b0b0" stroke-width="1.11" stroke-dasharray="4.1 1.78" opacity="0.55"/>
<line x1="367.8" y1="482.5" x2="1116.5" y2="482.5" stroke="#b0b0b0" stroke-width="1.11" stroke-dasharray="4.1 1.78" opacity="0.55"/>
<line x1="367.8" y1="537.5" x2="1116.5" y2="537.5" stroke="#b0b0b0" stroke-width="1.11" stroke-dasharray="4.1 1.78" opacity="0.55"/>
<path d="M386.6 308.5V308.5M386.6 341V381M383.7 308.5H389.5M383.7 381H389.5M418.13 332.4H429.93M424.03 308.5V308.5M424.03 348.4V371M421.13 308.5H426.93M421.13 371H426.93M455.56 337.6H467.36M461.46 308.5V329.4M461.46 352V373M458.56 308.5H464.36M458.56 373H464.36M492.99 340.6H504.79M498.89 308.5V331.6M498.89 356V371M495.99 308.5H501.79M495.99 371H501.79M530.42 352H542.22M536.32 308.5V337.6M536.32 365.4V387M533.42 308.5H539.22M533.42 387H539.22M567.85 353H579.65M573.75 339.6V345.4M573.75 368.4V391M570.85 339.6H576.65M570.85 391H576.65M605.28 354H617.08M611.18 337V344.6M611.18 382.4V421M608.28 337H614.08M608.28 421H614.08M642.71 365H654.51M648.61 337V353.6M648.61 375.4V394M645.71 337H651.51M645.71 394H651.51M680.14 367.6H691.94M686.04 344V356.6M686.04 383.4V406M683.14 344H688.94M683.14 406H688.94M717.57 371H729.37M723.47 350V360.6M723.47 385.4V402M720.57 350H726.37M720.57 402H726.37M755 378H766.8M760.9 364V370.6M760.9 387.4V407M758 364H763.8M758 407H763.8M792.43 381H804.23M798.33 366V376.6M798.33 387.4V409M795.43 366H801.23M795.43 409H801.23M829.86 385H841.66M835.76 368V378.6M835.76 395.4V419M832.86 368H838.66M832.86 419H838.66M867.29 389H879.09M873.19 353V373.6M873.19 402.4V438M870.29 353H876.09M870.29 438H876.09M904.72 391H916.52M910.62 364V373.6M910.62 406V434M907.72 364H913.52M907.72 434H913.52M942.15 393H953.95M948.05 371V381.6M948.05 401V421M945.15 371H950.95M945.15 421H950.95M979.58 395H991.38M985.48 374V386.6M985.48 406V417M982.58 374H988.38M982.58 417H988.38M1017.01 395H1028.81M1022.91 382V388.6M1022.91 407V421M1020.01 382H1025.81M1020.01 421H1025.81M1054.44 397H1066.24M1060.34 383V386.6M1060.34 403.4V432M1057.44 383H1063.24M1057.44 432H1063.24M1091.87 415H1103.67M1097.77 393V399.6M1097.77 455.4V472M1094.87 393H1100.67M1094.87 472H1100.67M380.7 450.6H392.5M386.6 413V434.6M386.6 475V500M383.7 413H389.5M383.7 500H389.5M418.13 430H429.93M424.03 409V422.6M424.03 439V454M421.13 409H426.93M421.13 454H426.93M455.56 462.6H467.36M461.46 418V443.6M461.46 478V491M458.56 418H464.36M458.56 491H464.36M492.99 433.6H504.79M498.89 401V423.6M498.89 442V454M495.99 401H501.79M495.99 454H501.79M530.42 439.6H542.22M536.32 410V427M536.32 453V468M533.42 410H539.22M533.42 468H539.22M567.85 448H579.65M573.75 423V433.6M573.75 458V470M570.85 423H576.65M570.85 470H576.65M605.28 455.6H617.08M611.18 425V445.6M611.18 467V483M608.28 425H614.08M608.28 483H614.08M642.71 445.6H654.51M648.61 409V429.6M648.61 460.4V475M645.71 409H651.51M645.71 475H651.51M680.14 450.6H691.94M686.04 423V438.6M686.04 462V479M683.14 423H688.94M683.14 479H688.94M717.57 455.6H729.37M723.47 432V446.6M723.47 464.4V475M720.57 432H726.37M720.57 475H726.37M755 467.6H766.8M760.9 442V454.6M760.9 483.4V495M758 442H763.8M758 495H763.8M792.43 463.6H804.23M798.33 436V453.6M798.33 475.4V492M795.43 436H801.23M795.43 492H801.23M829.86 466H841.66M835.76 440V451.6M835.76 476.4V491M832.86 440H838.66M832.86 491H838.66M867.29 472H879.09M873.19 444V462.6M873.19 480V491M870.29 444H876.09M870.29 491H876.09M904.72 470H916.52M910.62 442V457.6M910.62 479V492M907.72 442H913.52M907.72 492H913.52M942.15 470H953.95M948.05 443V457.6M948.05 483.4V496M945.15 443H950.95M945.15 496H950.95M979.58 476H991.38M985.48 450V463.6M985.48 488.4V507M982.58 450H988.38M982.58 507H988.38M1017.01 489.6H1028.81M1022.91 463V477.6M1022.91 500.4V512M1020.01 463H1025.81M1020.01 512H1025.81M1054.44 479.6H1066.24M1060.34 459V471.6M1060.34 486.4V500M1057.44 459H1063.24M1057.44 500H1063.24M1091.87 513H1103.67M1097.77 459V495.6M1097.77 524V532M1094.87 459H1100.67M1094.87 532H1100.67" fill="none" stroke="#3f3f3f" stroke-width="1.95" stroke-linecap="square"/>
</g>
<line x1="367.8" y1="328.5" x2="1117.06" y2="328.5" stroke="#000" stroke-width="1.11"/>
<line x1="367.8" y1="560.5" x2="1117.06" y2="560.5" stroke="#000" stroke-width="1.11"/>
<line x1="1116.5" y1="328.5" x2="1116.5" y2="560.5" stroke="#000" stroke-width="1.11"/>
<line x1="362.94" y1="370.5" x2="367.8" y2="370.5" stroke="#000" stroke-width="1.11"/>
<line x1="362.94" y1="426.5" x2="367.8" y2="426.5" stroke="#000" stroke-width="1.11"/>
<line x1="362.94" y1="482.5" x2="367.8" y2="482.5" stroke="#000" stroke-width="1.11"/>
<line x1="362.94" y1="537.5" x2="367.8" y2="537.5" stroke="#000" stroke-width="1.11"/>
<line x1="386.5" y1="560.5" x2="386.5" y2="574.9" stroke="#000" stroke-width="1.11"/>
<text x="386.6" y="591.2" font-size="12.1" text-anchor="middle" xml:space="preserve">'type'</text>
<line x1="424.5" y1="560.5" x2="424.5" y2="565.36" stroke="#000" stroke-width="1.11"/>
<text x="424.03" y="577" font-size="12.1" text-anchor="middle" xml:space="preserve">'func'</text>
<line x1="461.5" y1="560.5" x2="461.5" y2="574.9" stroke="#000" stroke-width="1.11"/>
<text x="461.46" y="591.2" font-size="12.1" text-anchor="middle" xml:space="preserve">'var'</text>
<line x1="498.5" y1="560.5" x2="498.5" y2="565.36" stroke="#000" stroke-width="1.11"/>
<text x="498.89" y="577" font-size="12.1" text-anchor="middle" xml:space="preserve">' []'</text>
<line x1="536.5" y1="560.5" x2="536.5" y2="574.9" stroke="#000" stroke-width="1.11"/>
<text x="536.32" y="591.2" font-size="12.1" text-anchor="middle" xml:space="preserve">' struct'</text>
<line x1="573.5" y1="560.5" x2="573.5" y2="565.36" stroke="#000" stroke-width="1.11"/>
<text x="573.75" y="577" font-size="12.1" text-anchor="middle" xml:space="preserve">' (*'</text>
<line x1="611.5" y1="560.5" x2="611.5" y2="574.9" stroke="#000" stroke-width="1.11"/>
<text x="611.18" y="591.2" font-size="12.1" text-anchor="middle" xml:space="preserve">'const'</text>
<line x1="648.5" y1="560.5" x2="648.5" y2="565.36" stroke="#000" stroke-width="1.11"/>
<text x="648.61" y="577" font-size="12.1" text-anchor="middle" xml:space="preserve">'▯'</text>
<line x1="686.5" y1="560.5" x2="686.5" y2="574.9" stroke="#000" stroke-width="1.11"/>
<text x="686.04" y="591.2" font-size="12.1" text-anchor="middle" xml:space="preserve">' &amp;'</text>
<line x1="723.5" y1="560.5" x2="723.5" y2="565.36" stroke="#000" stroke-width="1.11"/>
<text x="723.47" y="577" font-size="12.1" text-anchor="middle" xml:space="preserve">'(&amp;'</text>
<line x1="760.5" y1="560.5" x2="760.5" y2="574.9" stroke="#000" stroke-width="1.11"/>
<text x="760.9" y="591.2" font-size="12.1" text-anchor="middle" xml:space="preserve">'(*'</text>
<line x1="798.5" y1="560.5" x2="798.5" y2="565.36" stroke="#000" stroke-width="1.11"/>
<text x="798.33" y="577" font-size="12.1" text-anchor="middle" xml:space="preserve">'&lt;&lt;'</text>
<line x1="835.5" y1="560.5" x2="835.5" y2="574.9" stroke="#000" stroke-width="1.11"/>
<text x="835.76" y="591.2" font-size="12.1" text-anchor="middle" xml:space="preserve">' bool'</text>
<line x1="873.5" y1="560.5" x2="873.5" y2="565.36" stroke="#000" stroke-width="1.11"/>
<text x="873.19" y="577" font-size="12.1" text-anchor="middle" xml:space="preserve">'string'</text>
<line x1="910.5" y1="560.5" x2="910.5" y2="574.9" stroke="#000" stroke-width="1.11"/>
<text x="910.62" y="591.2" font-size="12.1" text-anchor="middle" xml:space="preserve">'[]'</text>
<line x1="948.5" y1="560.5" x2="948.5" y2="565.36" stroke="#000" stroke-width="1.11"/>
<text x="948.05" y="577" font-size="12.1" text-anchor="middle" xml:space="preserve">'interface'</text>
<line x1="985.5" y1="560.5" x2="985.5" y2="574.9" stroke="#000" stroke-width="1.11"/>
<text x="985.48" y="591.2" font-size="12.1" text-anchor="middle" xml:space="preserve">' String'</text>
<line x1="1022.5" y1="560.5" x2="1022.5" y2="565.36" stroke="#000" stroke-width="1.11"/>
<text x="1022.91" y="577" font-size="12.1" text-anchor="middle" xml:space="preserve">'switch'</text>
<line x1="1060.5" y1="560.5" x2="1060.5" y2="574.9" stroke="#000" stroke-width="1.11"/>
<text x="1060.34" y="591.2" font-size="12.1" text-anchor="middle" xml:space="preserve">'[:'</text>
<line x1="1097.5" y1="560.5" x2="1097.5" y2="565.36" stroke="#000" stroke-width="1.11"/>
<text x="1097.77" y="577" font-size="12.1" text-anchor="middle" xml:space="preserve">'import'</text>
<g clip-path="url(#cl1)">
<g stroke="#3d3d3d" stroke-width="2.08"><rect x="1194.95" y="490.6" width="26.4" height="36.4" fill="#3a923a"/></g>
<path d="M1141.75 530.6V531.6M1141.75 535V538M1135.1 530.6H1148.4M1135.1 538H1148.4M1174.95 529.6V531.6M1174.95 535.6V536M1168.3 529.6H1181.6M1168.3 536H1181.6M1194.95 517H1221.35M1208.15 332V490.6M1208.15 527V545.6M1201.5 332H1214.8M1201.5 545.6H1214.8M1241.35 529.6V532M1241.35 535.6V541M1234.7 529.6H1248M1234.7 541H1248M1274.55 528.6V532M1274.55 535V539M1267.9 528.6H1281.2M1267.9 539H1281.2M1307.75 529.6V532M1307.75 535V536.6M1301.1 529.6H1314.4M1301.1 536.6H1314.4M1340.95 529.6V532M1340.95 535V538M1334.3 529.6H1347.6M1334.3 538H1347.6M1374.15 531V532M1374.15 535V537.6M1367.5 531H1380.8M1367.5 537.6H1380.8M1407.35 527V532.4M1407.35 535V539M1400.7 527H1414M1400.7 539H1414" fill="none" stroke="#3d3d3d" stroke-width="2.08" stroke-linecap="square"/>
<rect x="1127.51" y="531.6" width="28.48" height="3.4" fill="#3d3d3d"/><rect x="1160.71" y="531.6" width="28.48" height="4" fill="#3d3d3d"/><rect x="1227.11" y="532" width="28.48" height="3.6" fill="#3d3d3d"/><rect x="1260.31" y="532" width="28.48" height="3" fill="#3d3d3d"/><rect x="1293.51" y="532" width="28.48" height="3" fill="#3d3d3d"/><rect x="1326.71" y="532" width="28.48" height="3" fill="#3d3d3d"/><rect x="1359.91" y="532" width="28.48" height="3" fill="#3d3d3d"/><rect x="1393.11" y="532.4" width="28.48" height="2.6" fill="#3d3d3d"/>
<path d="M1141.75 502.7l1.15 1.7l-1.15 1.7l-1.15 -1.7zM1141.75 525.3l1.15 1.7l-1.15 1.7l-1.15 -1.7zM1141.75 526.7l1.15 1.7l-1.15 1.7l-1.15 -1.7zM1141.75 538.3l1.15 1.7l-1.15 1.7l-1.15 -1.7zM1141.75 540.3l1.15 1.7l-1.15 1.7l-1.15 -1.7zM1141.75 542.3l1.15 1.7l-1.15 1.7l-1.15 -1.7zM1141.75 546.9l1.15 1.7l-1.15 1.7l-1.15 -1.7zM1174.95 508.7l1.15 1.7l-1.15 1.7l-1.15 -1.7zM1174.95 522.7l1.15 1.7l-1.15 1.7l-1.15 -1.7zM1174.95 525.9l1.15 1.7l-1.15 1.7l-1.15 -1.7zM1174.95 537.3l1.15 1.7l-1.15 1.7l-1.15 -1.7zM1174.95 540.3l1.15 1.7l-1.15 1.7l-1.15 -1.7zM1174.95 543.9l1.15 1.7l-1.15 1.7l-1.15 -1.7zM1208.15 545.9l1.15 1.7l-1.15 1.7l-1.15 -1.7zM1208.15 549.9l1.15 1.7l-1.15 1.7l-1.15 -1.7zM1208.15 550.9l1.15 1.7l-1.15 1.7l-1.15 -1.7zM1208.15 554.7l1.15 1.7l-1.15 1.7l-1.15 -1.7zM1241.35 525.7l1.15 1.7l-1.15 1.7l-1.15 -1.7zM1241.35 541.3l1.15 1.7l-1.15 1.7l-1.15 -1.7zM1241.35 543.3l1.15 1.7l-1.15 1.7l-1.15 -1.7zM1241.35 544.7l1.15 1.7l-1.15 1.7l-1.15 -1.7zM1274.55 502.7l1.15 1.7l-1.15 1.7l-1.15 -1.7zM1274.55 515.7l1.15 1.7l-1.15 1.7l-1.15 -1.7zM1274.55 520.9l1.15 1.7l-1.15 1.7l-1.15 -1.7zM1274.55 525.3l1.15 1.7l-1.15 1.7l-1.15 -1.7zM1274.55 539.3l1.15 1.7l-1.15 1.7l-1.15 -1.7zM1274.55 541.3l1.15 1.7l-1.15 1.7l-1.15 -1.7zM1274.55 543.9l1.15 1.7l-1.15 1.7l-1.15 -1.7zM1274.55 545.9l1.15 1.7l-1.15 1.7l-1.15 -1.7zM1307.75 520.7l1.15 1.7l-1.15 1.7l-1.15 -1.7zM1307.75 522.9l1.15 1.7l-1.15 1.7l-1.15 -1.7zM1307.75 524.7l1.15 1.7l-1.15 1.7l-1.15 -1.7zM1307.75 526.3l1.15 1.7l-1.15 1.7l-1.15 -1.7zM1307.75 537.3l1.15 1.7l-1.15 1.7l-1.15 -1.7zM1307.75 538.7l1.15 1.7l-1.15 1.7l-1.15 -1.7zM1307.75 552.7l1.15 1.7l-1.15 1.7l-1.15 -1.7zM1340.95 518.7l1.15 1.7l-1.15 1.7l-1.15 -1.7zM1340.95 525.7l1.15 1.7l-1.15 1.7l-1.15 -1.7zM1340.95 538.3l1.15 1.7l-1.15 1.7l-1.15 -1.7zM1340.95 541.9l1.15 1.7l-1.15 1.7l-1.15 -1.7zM1374.15 528.3l1.15 1.7l-1.15 1.7l-1.15 -1.7zM1374.15 538.3l1.15 1.7l-1.15 1.7l-1.15 -1.7zM1374.15 540.7l1.15 1.7l-1.15 1.7l-1.15 -1.7zM1407.35 494.7l1.15 1.7l-1.15 1.7l-1.15 -1.7zM1407.35 521.7l1.15 1.7l-1.15 1.7l-1.15 -1.7zM1407.35 539.3l1.15 1.7l-1.15 1.7l-1.15 -1.7zM1407.35 541.7l1.15 1.7l-1.15 1.7l-1.15 -1.7z" fill="#3d3d3d" stroke="#3d3d3d" stroke-width="0.5"/>
</g>
<rect x="1125.5" y="328.5" width="299" height="232" fill="none" stroke="#000" stroke-width="1.11"/>
<line x1="1424.5" y1="332.5" x2="1429.36" y2="332.5" stroke="#000" stroke-width="1.11"/>
<text x="1434.26" y="338" font-size="13.89" text-anchor="start">6.0</text>
<line x1="1424.5" y1="365.5" x2="1429.36" y2="365.5" stroke="#000" stroke-width="1.11"/>
<text x="1434.26" y="371" font-size="13.89" text-anchor="start">5.0</text>
<line x1="1424.5" y1="399.5" x2="1429.36" y2="399.5" stroke="#000" stroke-width="1.11"/>
<text x="1434.26" y="405" font-size="13.89" text-anchor="start">4.0</text>
<line x1="1424.5" y1="433.5" x2="1429.36" y2="433.5" stroke="#000" stroke-width="1.11"/>
<text x="1434.26" y="439" font-size="13.89" text-anchor="start">3.0</text>
<line x1="1424.5" y1="466.5" x2="1429.36" y2="466.5" stroke="#000" stroke-width="1.11"/>
<text x="1434.26" y="472" font-size="13.89" text-anchor="start">2.0</text>
<line x1="1424.5" y1="500.5" x2="1429.36" y2="500.5" stroke="#000" stroke-width="1.11"/>
<text x="1434.26" y="506" font-size="13.89" text-anchor="start">1.0</text>
<line x1="1424.5" y1="534.5" x2="1429.36" y2="534.5" stroke="#000" stroke-width="1.11"/>
<text x="1434.26" y="540" font-size="13.89" text-anchor="start">0.0</text>
<line x1="1141.5" y1="560.5" x2="1141.5" y2="574.9" stroke="#000" stroke-width="1.11"/>
<text x="1141.75" y="591.2" font-size="12.1" text-anchor="middle">C</text>
<line x1="1174.5" y1="560.5" x2="1174.5" y2="565.36" stroke="#000" stroke-width="1.11"/>
<text x="1174.95" y="577" font-size="12.1" text-anchor="middle">C++</text>
<line x1="1208.5" y1="560.5" x2="1208.5" y2="574.9" stroke="#000" stroke-width="1.11"/>
<text x="1208.15" y="591.2" font-size="12.1" text-anchor="middle">Go</text>
<line x1="1241.5" y1="560.5" x2="1241.5" y2="565.36" stroke="#000" stroke-width="1.11"/>
<text x="1241.35" y="577" font-size="12.1" text-anchor="middle">HTML</text>
<line x1="1274.5" y1="560.5" x2="1274.5" y2="574.9" stroke="#000" stroke-width="1.11"/>
<text x="1274.55" y="591.2" font-size="12.1" text-anchor="middle">JS</text>
<line x1="1307.5" y1="560.5" x2="1307.5" y2="565.36" stroke="#000" stroke-width="1.11"/>
<text x="1307.75" y="577" font-size="12.1" text-anchor="middle">Java</text>
<line x1="1340.5" y1="560.5" x2="1340.5" y2="574.9" stroke="#000" stroke-width="1.11"/>
<text x="1340.95" y="591.2" font-size="12.1" text-anchor="middle">PHP</text>
<line x1="1374.5" y1="560.5" x2="1374.5" y2="565.36" stroke="#000" stroke-width="1.11"/>
<text x="1374.15" y="577" font-size="12.1" text-anchor="middle">Python</text>
<line x1="1407.5" y1="560.5" x2="1407.5" y2="574.9" stroke="#000" stroke-width="1.11"/>
<text x="1407.35" y="591.2" font-size="12.1" text-anchor="middle">XML</text>
<text x="1470.6" y="444.8" font-size="13.89" text-anchor="middle" transform="rotate(-90 1470.6 444.8)">sequence loss increase (%)</text>
</g>
<g id="row2">
<g clip-path="url(#ch2)">
<path d="M60.5 621.5 L66 621.5 L66 626 L70 626 L70 633 L75 633 L75 641 L82 641 L82 648 L90 648 L90 655 L104 655 L104 662 L118 662 L118 670 L135 670 L135 677 L151 677 L151 684 L192 684 L192 691 L188 691 L188 698 L201 698 L201 706 L216 706 L216 713 L226 713 L226 720 L225 720 L225 727 L227 727 L227 734 L224 734 L224 742 L215 742 L215 749 L232 749 L232 756 L177 756 L177 763 L154 763 L154 771 L127 771 L127 778 L106 778 L106 785 L90 785 L90 792 L78 792 L78 799 L71 799 L71 807 L67 807 L67 814 L64 814 L64 821 L62 821 L62 828 L60.8 828 L60.8 835.6 L60.5 835.6 L60.5 842.6 L60.5 842.6 L60.5 850 L60.5 850 L60.5 857.5 L60.5 857.5Z" fill="#1f77b4" fill-opacity="0.5"/>
<path d="M60.5 621.5 L60.5 621.5 L60.5 626 L60.5 626 L60.5 633 L60.5 633 L60.5 641 L60.5 641 L60.5 648 L60.5 648 L60.5 655 L60.5 655 L60.5 662 L60.5 662 L60.5 670 L60.5 670 L60.5 677 L60.5 677 L60.5 684 L60.5 684 L60.5 691 L61.6 691 L61.6 698 L65 698 L65 706 L69 706 L69 713 L78 713 L78 720 L95 720 L95 727 L123 727 L123 734 L161 734 L161 742 L213 742 L213 749 L317 749 L317 756 L321 756 L321 763 L345 763 L345 771 L339 771 L339 778 L307 778 L307 785 L258 785 L258 792 L204 792 L204 799 L158 799 L158 807 L122 807 L122 814 L97 814 L97 821 L85 821 L85 828 L71 828 L71 835.6 L66 835.6 L66 842.6 L63 842.6 L63 850 L61.6 850 L61.6 857.5 L60.5 857.5Z" fill="#ff7f0e" fill-opacity="0.5"/>
<line x1="60.5" y1="673.5" x2="360.2" y2="673.5" stroke="#b0b0b0" stroke-width="1.11" stroke-dasharray="4.1 1.78" opacity="0.55"/>
<line x1="60.5" y1="731.5" x2="360.2" y2="731.5" stroke="#b0b0b0" stroke-width="1.11" stroke-dasharray="4.1 1.78" opacity="0.55"/>
<line x1="60.5" y1="788.5" x2="360.2" y2="788.5" stroke="#b0b0b0" stroke-width="1.11" stroke-dasharray="4.1 1.78" opacity="0.55"/>
<line x1="60.5" y1="845.5" x2="360.2" y2="845.5" stroke="#b0b0b0" stroke-width="1.11" stroke-dasharray="4.1 1.78" opacity="0.55"/>
</g>
<line x1="60.5" y1="623.5" x2="60.5" y2="855.5" stroke="#000" stroke-width="1.11"/>
<line x1="59.95" y1="623.5" x2="360.2" y2="623.5" stroke="#000" stroke-width="1.11"/>
<line x1="59.95" y1="855.5" x2="360.2" y2="855.5" stroke="#000" stroke-width="1.11"/>
<line x1="55.64" y1="673.5" x2="60.5" y2="673.5" stroke="#000" stroke-width="1.11"/>
<text x="50.74" y="678.55" font-size="13.89" text-anchor="end">2</text>
<line x1="55.64" y1="731.5" x2="60.5" y2="731.5" stroke="#000" stroke-width="1.11"/>
<text x="50.74" y="736.55" font-size="13.89" text-anchor="end">0</text>
<line x1="55.64" y1="788.5" x2="60.5" y2="788.5" stroke="#000" stroke-width="1.11"/>
<text x="50.74" y="793.55" font-size="13.89" text-anchor="end">−2</text>
<line x1="55.64" y1="845.5" x2="60.5" y2="845.5" stroke="#000" stroke-width="1.11"/>
<text x="50.74" y="850.55" font-size="13.89" text-anchor="end">−4</text>
<line x1="60.5" y1="855.5" x2="60.5" y2="860.36" stroke="#000" stroke-width="1.11"/>
<text x="60.5" y="875.8" font-size="13.89" text-anchor="middle">0.00</text>
<line x1="106.5" y1="855.5" x2="106.5" y2="860.36" stroke="#000" stroke-width="1.11"/>
<text x="106.5" y="875.8" font-size="13.89" text-anchor="middle">0.02</text>
<line x1="152.5" y1="855.5" x2="152.5" y2="860.36" stroke="#000" stroke-width="1.11"/>
<text x="152.5" y="875.8" font-size="13.89" text-anchor="middle">0.04</text>
<line x1="198.5" y1="855.5" x2="198.5" y2="860.36" stroke="#000" stroke-width="1.11"/>
<text x="198.5" y="875.8" font-size="13.89" text-anchor="middle">0.06</text>
<line x1="244.5" y1="855.5" x2="244.5" y2="860.36" stroke="#000" stroke-width="1.11"/>
<text x="244.5" y="875.8" font-size="13.89" text-anchor="middle">0.08</text>
<line x1="290.5" y1="855.5" x2="290.5" y2="860.36" stroke="#000" stroke-width="1.11"/>
<text x="290.5" y="875.8" font-size="13.89" text-anchor="middle">0.10</text>
<line x1="336.5" y1="855.5" x2="336.5" y2="860.36" stroke="#000" stroke-width="1.11"/>
<text x="336.5" y="875.8" font-size="13.89" text-anchor="middle">0.12</text>
<text x="209.15" y="894.7" font-size="13.89" text-anchor="middle">empirical distribution</text>
<text x="20.1" y="740.5" font-size="13.89" text-anchor="middle" transform="rotate(-90 20.1 740.5)">1B.L9.N1823 pre-activation</text>
<rect x="279.4" y="630.7" width="73.2" height="67" rx="2.8" fill="#fff" fill-opacity="0.8" stroke="#ccc" stroke-opacity="0.8" stroke-width="1.11"/>
<text x="315.1" y="646.7" font-size="13.89" text-anchor="middle">token</text>
<rect x="285" y="658.4" width="28" height="9.7" fill="#1f77b4" fill-opacity="0.5"/>
<rect x="285" y="679.1" width="28" height="9.7" fill="#ff7f0e" fill-opacity="0.5"/>
<text x="324.5" y="667.8" font-size="13.89" text-anchor="start">Go</text>
<text x="324.9" y="689.1" font-size="13.89" text-anchor="start">not</text>
<g clip-path="url(#cm2)">
<g stroke="#3f3f3f" stroke-width="1.95" stroke-linejoin="miter"><rect x="380.7" y="603.5" width="11.8" height="42.5" fill="#3274a1"/><rect x="418.13" y="630.4" width="11.8" height="27.6" fill="#3274a1"/><rect x="455.56" y="636.6" width="11.8" height="34.4" fill="#3274a1"/><rect x="492.99" y="635.6" width="11.8" height="32.4" fill="#3274a1"/><rect x="530.42" y="636.6" width="11.8" height="59.4" fill="#3274a1"/><rect x="567.85" y="649.6" width="11.8" height="27.8" fill="#3274a1"/><rect x="605.28" y="640.6" width="11.8" height="37.8" fill="#3274a1"/><rect x="642.71" y="660.6" width="11.8" height="24.4" fill="#3274a1"/><rect x="680.14" y="649.6" width="11.8" height="44.8" fill="#3274a1"/><rect x="717.57" y="660.6" width="11.8" height="33.8" fill="#3274a1"/><rect x="755" y="667.6" width="11.8" height="24.4" fill="#3274a1"/><rect x="792.43" y="670.6" width="11.8" height="24.8" fill="#3274a1"/><rect x="829.86" y="649.6" width="11.8" height="54.8" fill="#3274a1"/><rect x="867.29" y="669.6" width="11.8" height="28.8" fill="#3274a1"/><rect x="904.72" y="677.6" width="11.8" height="14.4" fill="#3274a1"/><rect x="942.15" y="683.6" width="11.8" height="23.8" fill="#3274a1"/><rect x="979.58" y="684.6" width="11.8" height="24.4" fill="#3274a1"/><rect x="1017.01" y="687.6" width="11.8" height="20.4" fill="#3274a1"/><rect x="1054.44" y="697.6" width="11.8" height="41.8" fill="#3274a1"/><rect x="1091.87" y="710.6" width="11.8" height="34.8" fill="#3274a1"/><rect x="380.7" y="744.6" width="11.8" height="25.4" fill="#e1812c"/><rect x="418.13" y="718.6" width="11.8" height="33.4" fill="#e1812c"/><rect x="455.56" y="728.6" width="11.8" height="29.4" fill="#e1812c"/><rect x="492.99" y="751.6" width="11.8" height="25.4" fill="#e1812c"/><rect x="530.42" y="742.4" width="11.8" height="32.6" fill="#e1812c"/><rect x="567.85" y="757.6" width="11.8" height="21.8" fill="#e1812c"/><rect x="605.28" y="737.6" width="11.8" height="25.4" fill="#e1812c"/><rect x="642.71" y="751.6" width="11.8" height="34.4" fill="#e1812c"/><rect x="680.14" y="749.6" width="11.8" height="32.4" fill="#e1812c"/><rect x="717.57" y="752.6" width="11.8" height="20.8" fill="#e1812c"/><rect x="755" y="774.6" width="11.8" height="12.4" fill="#e1812c"/><rect x="792.43" y="766.6" width="11.8" height="26.4" fill="#e1812c"/><rect x="829.86" y="752.6" width="11.8" height="29.4" fill="#e1812c"/><rect x="867.29" y="751.6" width="11.8" height="38.8" fill="#e1812c"/><rect x="904.72" y="781.6" width="11.8" height="18.8" fill="#e1812c"/><rect x="942.15" y="771.6" width="11.8" height="24.8" fill="#e1812c"/><rect x="979.58" y="775.6" width="11.8" height="30.8" fill="#e1812c"/><rect x="1017.01" y="774.6" width="11.8" height="25.8" fill="#e1812c"/><rect x="1054.44" y="796.6" width="11.8" height="37.8" fill="#e1812c"/><rect x="1091.87" y="799.6" width="11.8" height="40.8" fill="#e1812c"/></g>
<line x1="367.8" y1="673.5" x2="1116.5" y2="673.5" stroke="#b0b0b0" stroke-width="1.11" stroke-dasharray="4.1 1.78" opacity="0.55"/>
<line x1="367.8" y1="731.5" x2="1116.5" y2="731.5" stroke="#b0b0b0" stroke-width="1.11" stroke-dasharray="4.1 1.78" opacity="0.55"/>
<line x1="367.8" y1="788.5" x2="1116.5" y2="788.5" stroke="#b0b0b0" stroke-width="1.11" stroke-dasharray="4.1 1.78" opacity="0.55"/>
<line x1="367.8" y1="845.5" x2="1116.5" y2="845.5" stroke="#b0b0b0" stroke-width="1.11" stroke-dasharray="4.1 1.78" opacity="0.55"/>
<path d="M380.7 633.6H392.5M386.6 603.5V603.5M386.6 646V715M383.7 603.5H389.5M383.7 715H389.5M418.13 643.6H429.93M424.03 603.5V630.4M424.03 658V680M421.13 603.5H426.93M421.13 680H426.93M455.56 650H467.36M461.46 625V636.6M461.46 671V711.4M458.56 625H464.36M458.56 711.4H464.36M492.99 650.6H504.79M498.89 603.5V635.6M498.89 668V702M495.99 603.5H501.79M495.99 702H501.79M530.42 656H542.22M536.32 603.5V636.6M536.32 696V755M533.42 603.5H539.22M533.42 755H539.22M567.85 657.6H579.65M573.75 639V649.6M573.75 677.4V742M570.85 639H576.65M570.85 742H576.65M605.28 660H617.08M611.18 625V640.6M611.18 678.4V707M608.28 625H614.08M608.28 707H614.08M642.71 671H654.51M648.61 646V660.6M648.61 685V709M645.71 646H651.51M645.71 709H651.51M680.14 671H691.94M686.04 625V649.6M686.04 694.4V732M683.14 625H688.94M683.14 732H688.94M717.57 677H729.37M723.47 649V660.6M723.47 694.4V707M720.57 649H726.37M720.57 707H726.37M755 679.6H766.8M760.9 650V667.6M760.9 692V766M758 650H763.8M758 766H763.8M792.43 679.6H804.23M798.33 660V670.6M798.33 695.4V711M795.43 660H801.23M795.43 711H801.23M829.86 683H841.66M835.76 625V649.6M835.76 704.4V731.4M832.86 625H838.66M832.86 731.4H838.66M867.29 685H879.09M873.19 651V669.6M873.19 698.4V721M870.29 651H876.09M870.29 721H876.09M904.72 684.6H916.52M910.62 671V677.6M910.62 692V728M907.72 671H913.52M907.72 728H913.52M942.15 694H953.95M948.05 673V683.6M948.05 707.4V748M945.15 673H950.95M945.15 748H950.95M979.58 697H991.38M985.48 670V684.6M985.48 709V738M982.58 670H988.38M982.58 738H988.38M1017.01 698H1028.81M1022.91 674V687.6M1022.91 708V731M1020.01 674H1025.81M1020.01 731H1025.81M1054.44 717H1066.24M1060.34 675V697.6M1060.34 739.4V756M1057.44 675H1063.24M1057.44 756H1063.24M1091.87 729H1103.67M1097.77 691V710.6M1097.77 745.4V765M1094.87 691H1100.67M1094.87 765H1100.67M380.7 760H392.5M386.6 702V744.6M386.6 770V782M383.7 702H389.5M383.7 782H389.5M418.13 737.6H429.93M424.03 690V718.6M424.03 752V762M421.13 690H426.93M421.13 762H426.93M455.56 741.6H467.36M461.46 711.4V728.6M461.46 758V779M458.56 711.4H464.36M458.56 779H464.36M492.99 759.6H504.79M498.89 732V751.6M498.89 777V800M495.99 732H501.79M495.99 800H501.79M530.42 759.6H542.22M536.32 719V742.4M536.32 775V794M533.42 719H539.22M533.42 794H539.22M567.85 767H579.65M573.75 742V757.6M573.75 779.4V794M570.85 742H576.65M570.85 794H576.65M605.28 750H617.08M611.18 725V737.6M611.18 763V783M608.28 725H614.08M608.28 783H614.08M642.71 769.6H654.51M648.61 732V751.6M648.61 786V804M645.71 732H651.51M645.71 804H651.51M680.14 765.6H691.94M686.04 733V749.6M686.04 782V806M683.14 733H688.94M683.14 806H688.94M717.57 765H729.37M723.47 742V752.6M723.47 773.4V789M720.57 742H726.37M720.57 789H726.37M755 781.6H766.8M760.9 762V774.6M760.9 787V800M758 762H763.8M758 800H763.8M792.43 782H804.23M798.33 755V766.6M798.33 793V813M795.43 755H801.23M795.43 813H801.23M829.86 767H841.66M835.76 731.4V752.6M835.76 782V808M832.86 731.4H838.66M832.86 808H838.66M867.29 769H879.09M873.19 731V751.6M873.19 790.4V825M870.29 731H876.09M870.29 825H876.09M904.72 791.6H916.52M910.62 763V781.6M910.62 800.4V811M907.72 763H913.52M907.72 811H913.52M942.15 785H953.95M948.05 756V771.6M948.05 796.4V821M945.15 756H950.95M945.15 821H950.95M979.58 791.6H991.38M985.48 753V775.6M985.48 806.4V827M982.58 753H988.38M982.58 827H988.38M1017.01 786.6H1028.81M1022.91 753V774.6M1022.91 800.4V824M1020.01 753H1025.81M1020.01 824H1025.81M1054.44 818H1066.24M1060.34 775V796.6M1060.34 834.4V880M1057.44 775H1063.24M1057.44 880H1063.24M1091.87 820.6H1103.67M1097.77 779V799.6M1097.77 840.4V880M1094.87 779H1100.67M1094.87 880H1100.67" fill="none" stroke="#3f3f3f" stroke-width="1.95" stroke-linecap="square"/>
</g>
<line x1="367.8" y1="623.5" x2="1117.06" y2="623.5" stroke="#000" stroke-width="1.11"/>
<line x1="367.8" y1="855.5" x2="1117.06" y2="855.5" stroke="#000" stroke-width="1.11"/>
<line x1="1116.5" y1="623.5" x2="1116.5" y2="855.5" stroke="#000" stroke-width="1.11"/>
<line x1="362.94" y1="673.5" x2="367.8" y2="673.5" stroke="#000" stroke-width="1.11"/>
<line x1="362.94" y1="731.5" x2="367.8" y2="731.5" stroke="#000" stroke-width="1.11"/>
<line x1="362.94" y1="788.5" x2="367.8" y2="788.5" stroke="#000" stroke-width="1.11"/>
<line x1="362.94" y1="845.5" x2="367.8" y2="845.5" stroke="#000" stroke-width="1.11"/>
<line x1="386.5" y1="855.5" x2="386.5" y2="869.9" stroke="#000" stroke-width="1.11"/>
<text x="386.6" y="887.2" font-size="12.1" text-anchor="middle" xml:space="preserve">'...'</text>
<line x1="424.5" y1="855.5" x2="424.5" y2="860.36" stroke="#000" stroke-width="1.11"/>
<text x="424.03" y="873" font-size="12.1" text-anchor="middle" xml:space="preserve">' (*'</text>
<line x1="461.5" y1="855.5" x2="461.5" y2="869.9" stroke="#000" stroke-width="1.11"/>
<text x="461.46" y="887.2" font-size="12.1" text-anchor="middle" xml:space="preserve">'!='</text>
<line x1="498.5" y1="855.5" x2="498.5" y2="860.36" stroke="#000" stroke-width="1.11"/>
<text x="498.89" y="873" font-size="12.1" text-anchor="middle" xml:space="preserve">' []'</text>
<line x1="536.5" y1="855.5" x2="536.5" y2="869.9" stroke="#000" stroke-width="1.11"/>
<text x="536.32" y="887.2" font-size="12.1" text-anchor="middle" xml:space="preserve">'*'</text>
<line x1="573.5" y1="855.5" x2="573.5" y2="860.36" stroke="#000" stroke-width="1.11"/>
<text x="573.75" y="873" font-size="12.1" text-anchor="middle" xml:space="preserve">' make'</text>
<line x1="611.5" y1="855.5" x2="611.5" y2="869.9" stroke="#000" stroke-width="1.11"/>
<text x="611.18" y="887.2" font-size="12.1" text-anchor="middle" xml:space="preserve">'[]'</text>
<line x1="648.5" y1="855.5" x2="648.5" y2="860.36" stroke="#000" stroke-width="1.11"/>
<text x="648.61" y="873" font-size="12.1" text-anchor="middle" xml:space="preserve">'return'</text>
<line x1="686.5" y1="855.5" x2="686.5" y2="869.9" stroke="#000" stroke-width="1.11"/>
<text x="686.04" y="887.2" font-size="12.1" text-anchor="middle" xml:space="preserve">' ='</text>
<line x1="723.5" y1="855.5" x2="723.5" y2="860.36" stroke="#000" stroke-width="1.11"/>
<text x="723.47" y="873" font-size="12.1" text-anchor="middle" xml:space="preserve">')),'</text>
<line x1="760.5" y1="855.5" x2="760.5" y2="869.9" stroke="#000" stroke-width="1.11"/>
<text x="760.9" y="887.2" font-size="12.1" text-anchor="middle" xml:space="preserve">' range'</text>
<line x1="798.5" y1="855.5" x2="798.5" y2="860.36" stroke="#000" stroke-width="1.11"/>
<text x="798.33" y="873" font-size="12.1" text-anchor="middle" xml:space="preserve">'switch'</text>
<line x1="835.5" y1="855.5" x2="835.5" y2="869.9" stroke="#000" stroke-width="1.11"/>
<text x="835.76" y="887.2" font-size="12.1" text-anchor="middle" xml:space="preserve">'()'</text>
<line x1="873.5" y1="855.5" x2="873.5" y2="860.36" stroke="#000" stroke-width="1.11"/>
<text x="873.19" y="873" font-size="12.1" text-anchor="middle" xml:space="preserve">'string'</text>
<line x1="910.5" y1="855.5" x2="910.5" y2="869.9" stroke="#000" stroke-width="1.11"/>
<text x="910.62" y="887.2" font-size="12.1" text-anchor="middle" xml:space="preserve">'conv'</text>
<line x1="948.5" y1="855.5" x2="948.5" y2="860.36" stroke="#000" stroke-width="1.11"/>
<text x="948.05" y="873" font-size="12.1" text-anchor="middle" xml:space="preserve">' context'</text>
<line x1="985.5" y1="855.5" x2="985.5" y2="869.9" stroke="#000" stroke-width="1.11"/>
<text x="985.48" y="887.2" font-size="12.1" text-anchor="middle" xml:space="preserve">'if'</text>
<line x1="1022.5" y1="855.5" x2="1022.5" y2="860.36" stroke="#000" stroke-width="1.11"/>
<text x="1022.91" y="873" font-size="12.1" text-anchor="middle" xml:space="preserve">'var'</text>
<line x1="1060.5" y1="855.5" x2="1060.5" y2="869.9" stroke="#000" stroke-width="1.11"/>
<text x="1060.34" y="887.2" font-size="12.1" text-anchor="middle" xml:space="preserve">'().'</text>
<line x1="1097.5" y1="855.5" x2="1097.5" y2="860.36" stroke="#000" stroke-width="1.11"/>
<text x="1097.77" y="873" font-size="12.1" text-anchor="middle" xml:space="preserve">'").'</text>
<g clip-path="url(#cl2)">
<g stroke="#3d3d3d" stroke-width="2.08"><rect x="1194.95" y="747.6" width="26.4" height="27.4" fill="#3a923a"/></g>
<path d="M1141.75 767V772M1141.75 776V782M1135.1 767H1148.4M1135.1 782H1148.4M1174.95 768V772M1174.95 776V783M1168.3 768H1181.6M1168.3 783H1181.6M1194.95 764.4H1221.35M1208.15 633V747.6M1208.15 775V825M1201.5 633H1214.8M1201.5 825H1214.8M1241.35 767V773M1241.35 777V785M1234.7 767H1248M1234.7 785H1248M1274.55 762V772M1274.55 776V780M1267.9 762H1281.2M1267.9 780H1281.2M1307.75 769.6V772.4M1307.75 775.6V779M1301.1 769.6H1314.4M1301.1 779H1314.4M1340.95 769V772.4M1340.95 775.6V778M1334.3 769H1347.6M1334.3 778H1347.6M1374.15 770V773M1374.15 776V779M1367.5 770H1380.8M1367.5 779H1380.8M1407.35 763V772M1407.35 777V783M1400.7 763H1414M1400.7 783H1414" fill="none" stroke="#3d3d3d" stroke-width="2.08" stroke-linecap="square"/>
<rect x="1127.51" y="772" width="28.48" height="4" fill="#3d3d3d"/><rect x="1160.71" y="772" width="28.48" height="4" fill="#3d3d3d"/><rect x="1227.11" y="773" width="28.48" height="4" fill="#3d3d3d"/><rect x="1260.31" y="772" width="28.48" height="4" fill="#3d3d3d"/><rect x="1293.51" y="772.4" width="28.48" height="3.2" fill="#3d3d3d"/><rect x="1326.71" y="772.4" width="28.48" height="3.2" fill="#3d3d3d"/><rect x="1359.91" y="773" width="28.48" height="3" fill="#3d3d3d"/><rect x="1393.11" y="772" width="28.48" height="5" fill="#3d3d3d"/>
<path d="M1141.75 745.7l1.15 1.7l-1.15 1.7l-1.15 -1.7zM1141.75 760.7l1.15 1.7l-1.15 1.7l-1.15 -1.7zM1141.75 762.7l1.15 1.7l-1.15 1.7l-1.15 -1.7zM1141.75 782.7l1.15 1.7l-1.15 1.7l-1.15 -1.7zM1141.75 784.7l1.15 1.7l-1.15 1.7l-1.15 -1.7zM1174.95 747.7l1.15 1.7l-1.15 1.7l-1.15 -1.7zM1174.95 758.7l1.15 1.7l-1.15 1.7l-1.15 -1.7zM1174.95 760.7l1.15 1.7l-1.15 1.7l-1.15 -1.7zM1174.95 762.7l1.15 1.7l-1.15 1.7l-1.15 -1.7zM1174.95 783.9l1.15 1.7l-1.15 1.7l-1.15 -1.7zM1174.95 785.9l1.15 1.7l-1.15 1.7l-1.15 -1.7zM1174.95 794.7l1.15 1.7l-1.15 1.7l-1.15 -1.7zM1208.15 623.7l1.15 1.7l-1.15 1.7l-1.15 -1.7zM1208.15 837.7l1.15 1.7l-1.15 1.7l-1.15 -1.7zM1208.15 839.9l1.15 1.7l-1.15 1.7l-1.15 -1.7zM1208.15 843.7l1.15 1.7l-1.15 1.7l-1.15 -1.7zM1208.15 852.3l1.15 1.7l-1.15 1.7l-1.15 -1.7zM1241.35 756.7l1.15 1.7l-1.15 1.7l-1.15 -1.7zM1241.35 761.7l1.15 1.7l-1.15 1.7l-1.15 -1.7zM1241.35 786.3l1.15 1.7l-1.15 1.7l-1.15 -1.7zM1241.35 788.3l1.15 1.7l-1.15 1.7l-1.15 -1.7zM1241.35 789.9l1.15 1.7l-1.15 1.7l-1.15 -1.7zM1274.55 636.7l1.15 1.7l-1.15 1.7l-1.15 -1.7zM1274.55 679.7l1.15 1.7l-1.15 1.7l-1.15 -1.7zM1274.55 747.7l1.15 1.7l-1.15 1.7l-1.15 -1.7zM1274.55 750.3l1.15 1.7l-1.15 1.7l-1.15 -1.7zM1274.55 754.7l1.15 1.7l-1.15 1.7l-1.15 -1.7zM1274.55 781.3l1.15 1.7l-1.15 1.7l-1.15 -1.7zM1274.55 783.3l1.15 1.7l-1.15 1.7l-1.15 -1.7zM1274.55 787.3l1.15 1.7l-1.15 1.7l-1.15 -1.7zM1274.55 788.9l1.15 1.7l-1.15 1.7l-1.15 -1.7zM1274.55 815.7l1.15 1.7l-1.15 1.7l-1.15 -1.7zM1307.75 762.7l1.15 1.7l-1.15 1.7l-1.15 -1.7zM1307.75 766.3l1.15 1.7l-1.15 1.7l-1.15 -1.7zM1307.75 779.9l1.15 1.7l-1.15 1.7l-1.15 -1.7zM1307.75 781.9l1.15 1.7l-1.15 1.7l-1.15 -1.7zM1307.75 782.9l1.15 1.7l-1.15 1.7l-1.15 -1.7zM1340.95 759.7l1.15 1.7l-1.15 1.7l-1.15 -1.7zM1340.95 762.3l1.15 1.7l-1.15 1.7l-1.15 -1.7zM1340.95 764.9l1.15 1.7l-1.15 1.7l-1.15 -1.7zM1340.95 777.3l1.15 1.7l-1.15 1.7l-1.15 -1.7zM1374.15 765.7l1.15 1.7l-1.15 1.7l-1.15 -1.7zM1374.15 778.9l1.15 1.7l-1.15 1.7l-1.15 -1.7zM1374.15 786.7l1.15 1.7l-1.15 1.7l-1.15 -1.7zM1407.35 749.7l1.15 1.7l-1.15 1.7l-1.15 -1.7zM1407.35 752.3l1.15 1.7l-1.15 1.7l-1.15 -1.7zM1407.35 759.7l1.15 1.7l-1.15 1.7l-1.15 -1.7zM1407.35 783.9l1.15 1.7l-1.15 1.7l-1.15 -1.7zM1407.35 785.9l1.15 1.7l-1.15 1.7l-1.15 -1.7zM1407.35 787.9l1.15 1.7l-1.15 1.7l-1.15 -1.7z" fill="#3d3d3d" stroke="#3d3d3d" stroke-width="0.5"/>
</g>
<rect x="1125.5" y="623.5" width="299" height="232" fill="none" stroke="#000" stroke-width="1.11"/>
<line x1="1424.5" y1="672.5" x2="1429.36" y2="672.5" stroke="#000" stroke-width="1.11"/>
<text x="1434.26" y="678" font-size="13.89" text-anchor="start">1.0</text>
<line x1="1424.5" y1="723.5" x2="1429.36" y2="723.5" stroke="#000" stroke-width="1.11"/>
<text x="1434.26" y="729" font-size="13.89" text-anchor="start">0.5</text>
<line x1="1424.5" y1="774.5" x2="1429.36" y2="774.5" stroke="#000" stroke-width="1.11"/>
<text x="1434.26" y="780" font-size="13.89" text-anchor="start">0.0</text>
<line x1="1424.5" y1="825.5" x2="1429.36" y2="825.5" stroke="#000" stroke-width="1.11"/>
<text x="1434.26" y="831" font-size="13.89" text-anchor="start">-0.5</text>
<line x1="1141.5" y1="855.5" x2="1141.5" y2="869.9" stroke="#000" stroke-width="1.11"/>
<text x="1141.75" y="887.2" font-size="12.1" text-anchor="middle">C</text>
<line x1="1174.5" y1="855.5" x2="1174.5" y2="860.36" stroke="#000" stroke-width="1.11"/>
<text x="1174.95" y="873" font-size="12.1" text-anchor="middle">C++</text>
<line x1="1208.5" y1="855.5" x2="1208.5" y2="869.9" stroke="#000" stroke-width="1.11"/>
<text x="1208.15" y="887.2" font-size="12.1" text-anchor="middle">Go</text>
<line x1="1241.5" y1="855.5" x2="1241.5" y2="860.36" stroke="#000" stroke-width="1.11"/>
<text x="1241.35" y="873" font-size="12.1" text-anchor="middle">HTML</text>
<line x1="1274.5" y1="855.5" x2="1274.5" y2="869.9" stroke="#000" stroke-width="1.11"/>
<text x="1274.55" y="887.2" font-size="12.1" text-anchor="middle">JS</text>
<line x1="1307.5" y1="855.5" x2="1307.5" y2="860.36" stroke="#000" stroke-width="1.11"/>
<text x="1307.75" y="873" font-size="12.1" text-anchor="middle">Java</text>
<line x1="1340.5" y1="855.5" x2="1340.5" y2="869.9" stroke="#000" stroke-width="1.11"/>
<text x="1340.95" y="887.2" font-size="12.1" text-anchor="middle">PHP</text>
<line x1="1374.5" y1="855.5" x2="1374.5" y2="860.36" stroke="#000" stroke-width="1.11"/>
<text x="1374.15" y="873" font-size="12.1" text-anchor="middle">Python</text>
<line x1="1407.5" y1="855.5" x2="1407.5" y2="869.9" stroke="#000" stroke-width="1.11"/>
<text x="1407.35" y="887.2" font-size="12.1" text-anchor="middle">XML</text>
<text x="1475.7" y="739.8" font-size="13.89" text-anchor="middle" transform="rotate(-90 1475.7 739.8)">sequence loss increase (%)</text>
</g>
<g id="row3">
<g clip-path="url(#ch3)">
<path d="M60.5 916.5 L68 916.5 L68 924.4 L71 924.4 L71 931 L76 931 L76 937.4 L85 937.4 L85 944.4 L94 944.4 L94 951.4 L103 951.4 L103 958 L113 958 L113 965 L123 965 L123 971.6 L130 971.6 L130 978.4 L138 978.4 L138 985 L161 985 L161 992 L148 992 L148 999 L152 999 L152 1005.4 L154 1005.4 L154 1012.4 L157 1012.4 L157 1019 L155 1019 L155 1026 L156 1026 L156 1033 L155 1033 L155 1039.4 L159 1039.4 L159 1046.4 L160 1046.4 L160 1053 L177 1053 L177 1060 L149 1060 L149 1067 L128 1067 L128 1073.4 L107 1073.4 L107 1080 L88 1080 L88 1087 L75 1087 L75 1094 L67 1094 L67 1101 L62.4 1101 L62.4 1107 L61 1107 L61 1114 L60.5 1114 L60.5 1121 L60.5 1121 L60.5 1128 L60.5 1128 L60.5 1135 L60.5 1135 L60.5 1142 L60.5 1142 L60.5 1148 L60.5 1148 L60.5 1153.5 L60.5 1153.5Z" fill="#1f77b4" fill-opacity="0.5"/>
<path d="M60.5 916.5 L60.5 916.5 L60.5 924.4 L60.5 924.4 L60.5 931 L60.5 931 L60.5 937.4 L60.5 937.4 L60.5 944.4 L60.5 944.4 L60.5 951.4 L60.5 951.4 L60.5 958 L60.5 958 L60.5 965 L60.5 965 L60.5 971.6 L60.5 971.6 L60.5 978.4 L60.5 978.4 L60.5 985 L60.5 985 L60.5 992 L60.5 992 L60.5 999 L60.5 999 L60.5 1005.4 L60.5 1005.4 L60.5 1012.4 L60.5 1012.4 L60.5 1019 L60.5 1019 L60.5 1026 L62 1026 L62 1033 L66 1033 L66 1039.4 L76 1039.4 L76 1046.4 L99 1046.4 L99 1053 L170 1053 L170 1060 L235 1060 L235 1067 L308 1067 L308 1073.4 L345 1073.4 L345 1080 L327 1080 L327 1087 L273 1087 L273 1094 L213 1094 L213 1101 L159 1101 L159 1107 L120 1107 L120 1114 L93 1114 L93 1121 L79 1121 L79 1128 L67 1128 L67 1135 L63 1135 L63 1142 L61 1142 L61 1148 L60.5 1148 L60.5 1153.5 L60.5 1153.5Z" fill="#ff7f0e" fill-opacity="0.5"/>
<line x1="60.5" y1="948.5" x2="360.2" y2="948.5" stroke="#b0b0b0" stroke-width="1.11" stroke-dasharray="4.1 1.78" opacity="0.55"/>
<line x1="60.5" y1="982.5" x2="360.2" y2="982.5" stroke="#b0b0b0" stroke-width="1.11" stroke-dasharray="4.1 1.78" opacity="0.55"/>
<line x1="60.5" y1="1017.5" x2="360.2" y2="1017.5" stroke="#b0b0b0" stroke-width="1.11" stroke-dasharray="4.1 1.78" opacity="0.55"/>
<line x1="60.5" y1="1052.5" x2="360.2" y2="1052.5" stroke="#b0b0b0" stroke-width="1.11" stroke-dasharray="4.1 1.78" opacity="0.55"/>
<line x1="60.5" y1="1087.5" x2="360.2" y2="1087.5" stroke="#b0b0b0" stroke-width="1.11" stroke-dasharray="4.1 1.78" opacity="0.55"/>
<line x1="60.5" y1="1121.5" x2="360.2" y2="1121.5" stroke="#b0b0b0" stroke-width="1.11" stroke-dasharray="4.1 1.78" opacity="0.55"/>
</g>
<line x1="60.5" y1="918.5" x2="60.5" y2="1151.5" stroke="#000" stroke-width="1.11"/>
<line x1="59.95" y1="918.5" x2="360.2" y2="918.5" stroke="#000" stroke-width="1.11"/>
<line x1="59.95" y1="1151.5" x2="360.2" y2="1151.5" stroke="#000" stroke-width="1.11"/>
<line x1="55.64" y1="948.5" x2="60.5" y2="948.5" stroke="#000" stroke-width="1.11"/>
<text x="50.74" y="953.55" font-size="13.89" text-anchor="end">6</text>
<line x1="55.64" y1="982.5" x2="60.5" y2="982.5" stroke="#000" stroke-width="1.11"/>
<text x="50.74" y="987.55" font-size="13.89" text-anchor="end">4</text>
<line x1="55.64" y1="1017.5" x2="60.5" y2="1017.5" stroke="#000" stroke-width="1.11"/>
<text x="50.74" y="1022.55" font-size="13.89" text-anchor="end">2</text>
<line x1="55.64" y1="1052.5" x2="60.5" y2="1052.5" stroke="#000" stroke-width="1.11"/>
<text x="50.74" y="1057.55" font-size="13.89" text-anchor="end">0</text>
<line x1="55.64" y1="1087.5" x2="60.5" y2="1087.5" stroke="#000" stroke-width="1.11"/>
<text x="50.74" y="1092.55" font-size="13.89" text-anchor="end">−2</text>
<line x1="55.64" y1="1121.5" x2="60.5" y2="1121.5" stroke="#000" stroke-width="1.11"/>
<text x="50.74" y="1126.55" font-size="13.89" text-anchor="end">−4</text>
<line x1="60.5" y1="1151.5" x2="60.5" y2="1156.36" stroke="#000" stroke-width="1.11"/>
<text x="60.5" y="1171.8" font-size="13.89" text-anchor="middle">0.00</text>
<line x1="103.5" y1="1151.5" x2="103.5" y2="1156.36" stroke="#000" stroke-width="1.11"/>
<text x="103.5" y="1171.8" font-size="13.89" text-anchor="middle">0.03</text>
<line x1="147.5" y1="1151.5" x2="147.5" y2="1156.36" stroke="#000" stroke-width="1.11"/>
<text x="147.5" y="1171.8" font-size="13.89" text-anchor="middle">0.05</text>
<line x1="191.5" y1="1151.5" x2="191.5" y2="1156.36" stroke="#000" stroke-width="1.11"/>
<text x="191.5" y="1171.8" font-size="13.89" text-anchor="middle">0.08</text>
<line x1="234.5" y1="1151.5" x2="234.5" y2="1156.36" stroke="#000" stroke-width="1.11"/>
<text x="234.5" y="1171.8" font-size="13.89" text-anchor="middle">0.10</text>
<line x1="278.5" y1="1151.5" x2="278.5" y2="1156.36" stroke="#000" stroke-width="1.11"/>
<text x="278.5" y="1171.8" font-size="13.89" text-anchor="middle">0.12</text>
<line x1="322.5" y1="1151.5" x2="322.5" y2="1156.36" stroke="#000" stroke-width="1.11"/>
<text x="322.5" y="1171.8" font-size="13.89" text-anchor="middle">0.15</text>
<text x="209.15" y="1190.7" font-size="13.89" text-anchor="middle">empirical distribution</text>
<text x="20.1" y="1036" font-size="13.89" text-anchor="middle" transform="rotate(-90 20.1 1036)">1B.L10.N3855 pre-activation</text>
<rect x="254.4" y="925.7" width="98.2" height="67" rx="2.8" fill="#fff" fill-opacity="0.8" stroke="#ccc" stroke-opacity="0.8" stroke-width="1.11"/>
<text x="302.6" y="941.7" font-size="13.89" text-anchor="middle">token</text>
<rect x="259" y="953.4" width="28" height="9.7" fill="#1f77b4" fill-opacity="0.5"/>
<rect x="259" y="974.1" width="28" height="9.7" fill="#ff7f0e" fill-opacity="0.5"/>
<text x="298.5" y="962.8" font-size="13.89" text-anchor="start">Python</text>
<text x="298.9" y="984.1" font-size="13.89" text-anchor="start">not</text>
<g clip-path="url(#cm3)">
<g stroke="#3f3f3f" stroke-width="1.95" stroke-linejoin="miter"><rect x="380.7" y="923.6" width="11.8" height="28.4" fill="#3274a1"/><rect x="418.13" y="920.6" width="11.8" height="27" fill="#3274a1"/><rect x="455.56" y="920.6" width="11.8" height="32.4" fill="#3274a1"/><rect x="492.99" y="920.6" width="11.8" height="40.4" fill="#3274a1"/><rect x="530.42" y="921.6" width="11.8" height="36.4" fill="#3274a1"/><rect x="567.85" y="920.6" width="11.8" height="60.4" fill="#3274a1"/><rect x="605.28" y="933.6" width="11.8" height="15.4" fill="#3274a1"/><rect x="642.71" y="937.6" width="11.8" height="16.4" fill="#3274a1"/><rect x="680.14" y="939.6" width="11.8" height="14.4" fill="#3274a1"/><rect x="717.57" y="943.6" width="11.8" height="27.4" fill="#3274a1"/><rect x="755" y="944.6" width="11.8" height="24.4" fill="#3274a1"/><rect x="792.43" y="945.6" width="11.8" height="27.4" fill="#3274a1"/><rect x="829.86" y="948.6" width="11.8" height="23.4" fill="#3274a1"/><rect x="867.29" y="944.6" width="11.8" height="40.4" fill="#3274a1"/><rect x="904.72" y="949.6" width="11.8" height="38.4" fill="#3274a1"/><rect x="942.15" y="952.6" width="11.8" height="28.4" fill="#3274a1"/><rect x="979.58" y="945.6" width="11.8" height="50.4" fill="#3274a1"/><rect x="1017.01" y="960.6" width="11.8" height="28.4" fill="#3274a1"/><rect x="1054.44" y="957.6" width="11.8" height="34.4" fill="#3274a1"/><rect x="1091.87" y="957.6" width="11.8" height="47.4" fill="#3274a1"/><rect x="380.7" y="1066.6" width="11.8" height="20" fill="#e1812c"/><rect x="418.13" y="1074.6" width="11.8" height="32.4" fill="#e1812c"/><rect x="455.56" y="1056.6" width="11.8" height="31.4" fill="#e1812c"/><rect x="492.99" y="1080.6" width="11.8" height="19.4" fill="#e1812c"/><rect x="530.42" y="1063.6" width="11.8" height="25.4" fill="#e1812c"/><rect x="567.85" y="1060.6" width="11.8" height="26" fill="#e1812c"/><rect x="605.28" y="1090.6" width="11.8" height="22.4" fill="#e1812c"/><rect x="642.71" y="1071.6" width="11.8" height="19.4" fill="#e1812c"/><rect x="680.14" y="1066.6" width="11.8" height="13.4" fill="#e1812c"/><rect x="717.57" y="1064.6" width="11.8" height="22.4" fill="#e1812c"/><rect x="755" y="1066.6" width="11.8" height="18.4" fill="#e1812c"/><rect x="792.43" y="1079.6" width="11.8" height="24.4" fill="#e1812c"/><rect x="829.86" y="1075.6" width="11.8" height="20.4" fill="#e1812c"/><rect x="867.29" y="1068.6" width="11.8" height="23.4" fill="#e1812c"/><rect x="904.72" y="1091.6" width="11.8" height="28.4" fill="#e1812c"/><rect x="942.15" y="1074.6" width="11.8" height="22.4" fill="#e1812c"/><rect x="979.58" y="1083.6" width="11.8" height="21.4" fill="#e1812c"/><rect x="1017.01" y="1074.6" width="11.8" height="26.4" fill="#e1812c"/><rect x="1054.44" y="1079.6" width="11.8" height="23.4" fill="#e1812c"/><rect x="1091.87" y="1080.6" width="11.8" height="27.4" fill="#e1812c"/></g>
<line x1="367.8" y1="948.5" x2="1116.5" y2="948.5" stroke="#b0b0b0" stroke-width="1.11" stroke-dasharray="4.1 1.78" opacity="0.55"/>
<line x1="367.8" y1="982.5" x2="1116.5" y2="982.5" stroke="#b0b0b0" stroke-width="1.11" stroke-dasharray="4.1 1.78" opacity="0.55"/>
<line x1="367.8" y1="1017.5" x2="1116.5" y2="1017.5" stroke="#b0b0b0" stroke-width="1.11" stroke-dasharray="4.1 1.78" opacity="0.55"/>
<line x1="367.8" y1="1052.5" x2="1116.5" y2="1052.5" stroke="#b0b0b0" stroke-width="1.11" stroke-dasharray="4.1 1.78" opacity="0.55"/>
<line x1="367.8" y1="1087.5" x2="1116.5" y2="1087.5" stroke="#b0b0b0" stroke-width="1.11" stroke-dasharray="4.1 1.78" opacity="0.55"/>
<line x1="367.8" y1="1121.5" x2="1116.5" y2="1121.5" stroke="#b0b0b0" stroke-width="1.11" stroke-dasharray="4.1 1.78" opacity="0.55"/>
<path d="M380.7 935.6H392.5M386.6 898.5V923.6M386.6 952V1000M383.7 898.5H389.5M383.7 1000H389.5M418.13 935.6H429.93M424.03 898.5V920.6M424.03 947.6V1056M421.13 898.5H426.93M421.13 1056H426.93M455.56 936.6H467.36M461.46 898.5V920.6M461.46 953V980M458.56 898.5H464.36M458.56 980H464.36M492.99 936.6H504.79M498.89 898.5V920.6M498.89 961V1013M495.99 898.5H501.79M495.99 1013H501.79M530.42 940H542.22M536.32 898.5V921.6M536.32 958V1036M533.42 898.5H539.22M533.42 1036H539.22M567.85 940.6H579.65M573.75 898.5V920.6M573.75 981V1044M570.85 898.5H576.65M570.85 1044H576.65M605.28 941.6H617.08M611.18 921V933.6M611.18 949V962M608.28 921H614.08M608.28 962H614.08M642.71 945.6H654.51M648.61 928V937.6M648.61 954V968M645.71 928H651.51M645.71 968H651.51M680.14 946.6H691.94M686.04 934V939.6M686.04 954V1005M683.14 934H688.94M683.14 1005H688.94M717.57 956H729.37M723.47 930V943.6M723.47 971V1013M720.57 930H726.37M720.57 1013H726.37M755 957H766.8M760.9 934V944.6M760.9 969V1003M758 934H763.8M758 1003H763.8M792.43 960H804.23M798.33 930V945.6M798.33 973V1008M795.43 930H801.23M795.43 1008H801.23M829.86 960H841.66M835.76 930V948.6M835.76 972V1011M832.86 930H838.66M832.86 1011H838.66M867.29 961H879.09M873.19 933V944.6M873.19 985V1005M870.29 933H876.09M870.29 1005H876.09M904.72 962H916.52M910.62 936V949.6M910.62 988V1079M907.72 936H913.52M907.72 1079H913.52M942.15 965H953.95M948.05 934V952.6M948.05 981V1025M945.15 934H950.95M945.15 1025H950.95M979.58 968H991.38M985.48 922V945.6M985.48 996V1015M982.58 922H988.38M982.58 1015H988.38M1017.01 973H1028.81M1022.91 942V960.6M1022.91 989V1019M1020.01 942H1025.81M1020.01 1019H1025.81M1054.44 975H1066.24M1060.34 938V957.6M1060.34 992V1037M1057.44 938H1063.24M1057.44 1037H1063.24M1091.87 980H1103.67M1097.77 926V957.6M1097.77 1005V1056M1094.87 926H1100.67M1094.87 1056H1100.67M380.7 1076.6H392.5M386.6 1055V1066.6M386.6 1086.6V1099M383.7 1055H389.5M383.7 1099H389.5M418.13 1088.6H429.93M424.03 1059V1074.6M424.03 1107V1125M421.13 1059H426.93M421.13 1125H426.93M455.56 1080H467.36M461.46 1045V1056.6M461.46 1088V1101M458.56 1045H464.36M458.56 1101H464.36M492.99 1091H504.79M498.89 1065V1080.6M498.89 1100V1116M495.99 1065H501.79M495.99 1116H501.79M530.42 1076.6H542.22M536.32 1047V1063.6M536.32 1089V1101M533.42 1047H539.22M533.42 1101H539.22M567.85 1073H579.65M573.75 1053V1060.6M573.75 1086.6V1100M570.85 1053H576.65M570.85 1100H576.65M605.28 1105H617.08M611.18 1063V1090.6M611.18 1113V1125M608.28 1063H614.08M608.28 1125H614.08M642.71 1083H654.51M648.61 1051V1071.6M648.61 1091V1100M645.71 1051H651.51M645.71 1100H651.51M680.14 1074.6H691.94M686.04 1053V1066.6M686.04 1080V1092M683.14 1053H688.94M683.14 1092H688.94M717.57 1075.6H729.37M723.47 1049V1064.6M723.47 1087V1104M720.57 1049H726.37M720.57 1104H726.37M755 1076H766.8M760.9 1053V1066.6M760.9 1085V1100M758 1053H763.8M758 1100H763.8M792.43 1090.6H804.23M798.33 1065V1079.6M798.33 1104V1123M795.43 1065H801.23M795.43 1123H801.23M829.86 1084.6H841.66M835.76 1061V1075.6M835.76 1096V1112M832.86 1061H838.66M832.86 1112H838.66M867.29 1080H879.09M873.19 1056V1068.6M873.19 1092V1115M870.29 1056H876.09M870.29 1115H876.09M904.72 1104.6H916.52M910.62 1072V1091.6M910.62 1120V1139M907.72 1072H913.52M907.72 1139H913.52M942.15 1085H953.95M948.05 1057V1074.6M948.05 1097V1113M945.15 1057H950.95M945.15 1113H950.95M979.58 1095H991.38M985.48 1065V1083.6M985.48 1105V1123M982.58 1065H988.38M982.58 1123H988.38M1017.01 1088H1028.81M1022.91 1059V1074.6M1022.91 1101V1120M1020.01 1059H1025.81M1020.01 1120H1025.81M1054.44 1091.6H1066.24M1060.34 1061V1079.6M1060.34 1103V1120M1057.44 1061H1063.24M1057.44 1120H1063.24M1091.87 1095H1103.67M1097.77 1063V1080.6M1097.77 1108V1128M1094.87 1063H1100.67M1094.87 1128H1100.67" fill="none" stroke="#3f3f3f" stroke-width="1.95" stroke-linecap="square"/>
</g>
<line x1="367.8" y1="918.5" x2="1117.06" y2="918.5" stroke="#000" stroke-width="1.11"/>
<line x1="367.8" y1="1151.5" x2="1117.06" y2="1151.5" stroke="#000" stroke-width="1.11"/>
<line x1="1116.5" y1="918.5" x2="1116.5" y2="1151.5" stroke="#000" stroke-width="1.11"/>
<line x1="362.94" y1="948.5" x2="367.8" y2="948.5" stroke="#000" stroke-width="1.11"/>
<line x1="362.94" y1="982.5" x2="367.8" y2="982.5" stroke="#000" stroke-width="1.11"/>
<line x1="362.94" y1="1017.5" x2="367.8" y2="1017.5" stroke="#000" stroke-width="1.11"/>
<line x1="362.94" y1="1052.5" x2="367.8" y2="1052.5" stroke="#000" stroke-width="1.11"/>
<line x1="362.94" y1="1087.5" x2="367.8" y2="1087.5" stroke="#000" stroke-width="1.11"/>
<line x1="362.94" y1="1121.5" x2="367.8" y2="1121.5" stroke="#000" stroke-width="1.11"/>
<line x1="386.5" y1="1151.5" x2="386.5" y2="1165.9" stroke="#000" stroke-width="1.11"/>
<text x="386.6" y="1183.2" font-size="12.1" text-anchor="middle" xml:space="preserve">' __'</text>
<line x1="424.5" y1="1151.5" x2="424.5" y2="1156.36" stroke="#000" stroke-width="1.11"/>
<text x="424.03" y="1169" font-size="12.1" text-anchor="middle" xml:space="preserve">' -&gt;'</text>
<line x1="461.5" y1="1151.5" x2="461.5" y2="1165.9" stroke="#000" stroke-width="1.11"/>
<text x="461.46" y="1183.2" font-size="12.1" text-anchor="middle" xml:space="preserve">'():'</text>
<line x1="498.5" y1="1151.5" x2="498.5" y2="1156.36" stroke="#000" stroke-width="1.11"/>
<text x="498.89" y="1169" font-size="12.1" text-anchor="middle" xml:space="preserve">'import'</text>
<line x1="536.5" y1="1151.5" x2="536.5" y2="1165.9" stroke="#000" stroke-width="1.11"/>
<text x="536.32" y="1183.2" font-size="12.1" text-anchor="middle" xml:space="preserve">'):'</text>
<line x1="573.5" y1="1151.5" x2="573.5" y2="1156.36" stroke="#000" stroke-width="1.11"/>
<text x="573.75" y="1169" font-size="12.1" text-anchor="middle" xml:space="preserve">'".'</text>
<line x1="611.5" y1="1151.5" x2="611.5" y2="1165.9" stroke="#000" stroke-width="1.11"/>
<text x="611.18" y="1183.2" font-size="12.1" text-anchor="middle" xml:space="preserve">'except'</text>
<line x1="648.5" y1="1151.5" x2="648.5" y2="1156.36" stroke="#000" stroke-width="1.11"/>
<text x="648.61" y="1169" font-size="12.1" text-anchor="middle" xml:space="preserve">'try'</text>
<line x1="686.5" y1="1151.5" x2="686.5" y2="1165.9" stroke="#000" stroke-width="1.11"/>
<text x="686.04" y="1183.2" font-size="12.1" text-anchor="middle" xml:space="preserve">' range'</text>
<line x1="723.5" y1="1151.5" x2="723.5" y2="1156.36" stroke="#000" stroke-width="1.11"/>
<text x="723.47" y="1169" font-size="12.1" text-anchor="middle" xml:space="preserve">'assert'</text>
<line x1="760.5" y1="1151.5" x2="760.5" y2="1165.9" stroke="#000" stroke-width="1.11"/>
<text x="760.9" y="1183.2" font-size="12.1" text-anchor="middle" xml:space="preserve">'else'</text>
<line x1="798.5" y1="1151.5" x2="798.5" y2="1156.36" stroke="#000" stroke-width="1.11"/>
<text x="798.33" y="1169" font-size="12.1" text-anchor="middle" xml:space="preserve">'return'</text>
<line x1="835.5" y1="1151.5" x2="835.5" y2="1165.9" stroke="#000" stroke-width="1.11"/>
<text x="835.76" y="1183.2" font-size="12.1" text-anchor="middle" xml:space="preserve">'if'</text>
<line x1="873.5" y1="1151.5" x2="873.5" y2="1156.36" stroke="#000" stroke-width="1.11"/>
<text x="873.19" y="1169" font-size="12.1" text-anchor="middle" xml:space="preserve">'attr'</text>
<line x1="910.5" y1="1151.5" x2="910.5" y2="1165.9" stroke="#000" stroke-width="1.11"/>
<text x="910.62" y="1183.2" font-size="12.1" text-anchor="middle" xml:space="preserve">'@'</text>
<line x1="948.5" y1="1151.5" x2="948.5" y2="1156.36" stroke="#000" stroke-width="1.11"/>
<text x="948.05" y="1169" font-size="12.1" text-anchor="middle" xml:space="preserve">' ='</text>
<line x1="985.5" y1="1151.5" x2="985.5" y2="1165.9" stroke="#000" stroke-width="1.11"/>
<text x="985.48" y="1183.2" font-size="12.1" text-anchor="middle" xml:space="preserve">'().'</text>
<line x1="1022.5" y1="1151.5" x2="1022.5" y2="1156.36" stroke="#000" stroke-width="1.11"/>
<text x="1022.91" y="1169" font-size="12.1" text-anchor="middle" xml:space="preserve">'()'</text>
<line x1="1060.5" y1="1151.5" x2="1060.5" y2="1165.9" stroke="#000" stroke-width="1.11"/>
<text x="1060.34" y="1183.2" font-size="12.1" text-anchor="middle" xml:space="preserve">'        '</text>
<line x1="1097.5" y1="1151.5" x2="1097.5" y2="1156.36" stroke="#000" stroke-width="1.11"/>
<text x="1097.77" y="1169" font-size="12.1" text-anchor="middle" xml:space="preserve">'    '</text>
<g clip-path="url(#cl3)">
<g stroke="#3d3d3d" stroke-width="2.08"><rect x="1360.95" y="1058.6" width="26.4" height="44.4" fill="#7f7f7f"/></g>
<path d="M1141.75 1108.6V1112.6M1141.75 1115.6V1120M1135.1 1108.6H1148.4M1135.1 1120H1148.4M1174.95 1108.6V1112.6M1174.95 1115.6V1123M1168.3 1108.6H1181.6M1168.3 1123H1181.6M1208.15 1104.6V1112M1208.15 1116.6V1125M1201.5 1104.6H1214.8M1201.5 1125H1214.8M1241.35 1103.6V1112M1241.35 1116V1125M1234.7 1103.6H1248M1234.7 1125H1248M1274.55 1105.6V1112.6M1274.55 1115.6V1123M1267.9 1105.6H1281.2M1267.9 1123H1281.2M1307.75 1110.6V1113M1307.75 1115.6V1120.6M1301.1 1110.6H1314.4M1301.1 1120.6H1314.4M1340.95 1109.6V1112M1340.95 1115.6V1118M1334.3 1109.6H1347.6M1334.3 1118H1347.6M1360.95 1082.6H1387.35M1374.15 931V1058.6M1374.15 1103V1135M1367.5 931H1380.8M1367.5 1135H1380.8M1407.35 1098.6V1112M1407.35 1115.6V1124M1400.7 1098.6H1414M1400.7 1124H1414" fill="none" stroke="#3d3d3d" stroke-width="2.08" stroke-linecap="square"/>
<rect x="1127.51" y="1112.6" width="28.48" height="3" fill="#3d3d3d"/><rect x="1160.71" y="1112.6" width="28.48" height="3" fill="#3d3d3d"/><rect x="1193.91" y="1112" width="28.48" height="4.6" fill="#3d3d3d"/><rect x="1227.11" y="1112" width="28.48" height="4" fill="#3d3d3d"/><rect x="1260.31" y="1112.6" width="28.48" height="3" fill="#3d3d3d"/><rect x="1293.51" y="1113" width="28.48" height="2.6" fill="#3d3d3d"/><rect x="1326.71" y="1112" width="28.48" height="3.6" fill="#3d3d3d"/><rect x="1393.11" y="1112" width="28.48" height="3.6" fill="#3d3d3d"/>
<path d="M1141.75 1094.7l1.15 1.7l-1.15 1.7l-1.15 -1.7zM1141.75 1103.7l1.15 1.7l-1.15 1.7l-1.15 -1.7zM1141.75 1105.3l1.15 1.7l-1.15 1.7l-1.15 -1.7zM1141.75 1121.3l1.15 1.7l-1.15 1.7l-1.15 -1.7zM1141.75 1123.7l1.15 1.7l-1.15 1.7l-1.15 -1.7zM1174.95 1100.7l1.15 1.7l-1.15 1.7l-1.15 -1.7zM1174.95 1102.3l1.15 1.7l-1.15 1.7l-1.15 -1.7zM1174.95 1104.3l1.15 1.7l-1.15 1.7l-1.15 -1.7zM1174.95 1124.3l1.15 1.7l-1.15 1.7l-1.15 -1.7zM1174.95 1126.9l1.15 1.7l-1.15 1.7l-1.15 -1.7zM1174.95 1128.9l1.15 1.7l-1.15 1.7l-1.15 -1.7zM1208.15 1086.7l1.15 1.7l-1.15 1.7l-1.15 -1.7zM1208.15 1100.7l1.15 1.7l-1.15 1.7l-1.15 -1.7zM1208.15 1128.7l1.15 1.7l-1.15 1.7l-1.15 -1.7zM1208.15 1135.7l1.15 1.7l-1.15 1.7l-1.15 -1.7zM1208.15 1136.7l1.15 1.7l-1.15 1.7l-1.15 -1.7zM1208.15 1146.7l1.15 1.7l-1.15 1.7l-1.15 -1.7zM1241.35 1061.7l1.15 1.7l-1.15 1.7l-1.15 -1.7zM1241.35 1082.7l1.15 1.7l-1.15 1.7l-1.15 -1.7zM1241.35 1086.7l1.15 1.7l-1.15 1.7l-1.15 -1.7zM1241.35 1088.9l1.15 1.7l-1.15 1.7l-1.15 -1.7zM1241.35 1127.9l1.15 1.7l-1.15 1.7l-1.15 -1.7zM1241.35 1146.7l1.15 1.7l-1.15 1.7l-1.15 -1.7zM1274.55 1072.7l1.15 1.7l-1.15 1.7l-1.15 -1.7zM1274.55 1076.7l1.15 1.7l-1.15 1.7l-1.15 -1.7zM1274.55 1078.7l1.15 1.7l-1.15 1.7l-1.15 -1.7zM1274.55 1100.7l1.15 1.7l-1.15 1.7l-1.15 -1.7zM1274.55 1122.7l1.15 1.7l-1.15 1.7l-1.15 -1.7zM1274.55 1137.7l1.15 1.7l-1.15 1.7l-1.15 -1.7zM1307.75 1104.7l1.15 1.7l-1.15 1.7l-1.15 -1.7zM1307.75 1106.3l1.15 1.7l-1.15 1.7l-1.15 -1.7zM1307.75 1121.3l1.15 1.7l-1.15 1.7l-1.15 -1.7zM1307.75 1124.3l1.15 1.7l-1.15 1.7l-1.15 -1.7zM1307.75 1125.7l1.15 1.7l-1.15 1.7l-1.15 -1.7zM1340.95 1102.3l1.15 1.7l-1.15 1.7l-1.15 -1.7zM1340.95 1104.3l1.15 1.7l-1.15 1.7l-1.15 -1.7zM1340.95 1106.3l1.15 1.7l-1.15 1.7l-1.15 -1.7zM1340.95 1117.7l1.15 1.7l-1.15 1.7l-1.15 -1.7zM1340.95 1121.7l1.15 1.7l-1.15 1.7l-1.15 -1.7zM1374.15 1134.9l1.15 1.7l-1.15 1.7l-1.15 -1.7zM1374.15 1143.7l1.15 1.7l-1.15 1.7l-1.15 -1.7zM1374.15 1145.7l1.15 1.7l-1.15 1.7l-1.15 -1.7zM1407.35 1068.7l1.15 1.7l-1.15 1.7l-1.15 -1.7zM1407.35 1081.7l1.15 1.7l-1.15 1.7l-1.15 -1.7zM1407.35 1094.7l1.15 1.7l-1.15 1.7l-1.15 -1.7zM1407.35 1124.9l1.15 1.7l-1.15 1.7l-1.15 -1.7zM1407.35 1126.9l1.15 1.7l-1.15 1.7l-1.15 -1.7zM1407.35 1128.9l1.15 1.7l-1.15 1.7l-1.15 -1.7zM1407.35 1130.9l1.15 1.7l-1.15 1.7l-1.15 -1.7zM1407.35 1132.3l1.15 1.7l-1.15 1.7l-1.15 -1.7z" fill="#3d3d3d" stroke="#3d3d3d" stroke-width="0.5"/>
</g>
<rect x="1125.5" y="918.5" width="299" height="233" fill="none" stroke="#000" stroke-width="1.11"/>
<line x1="1424.5" y1="928.5" x2="1429.36" y2="928.5" stroke="#000" stroke-width="1.11"/>
<text x="1434.26" y="934" font-size="13.89" text-anchor="start">2.5</text>
<line x1="1424.5" y1="965.5" x2="1429.36" y2="965.5" stroke="#000" stroke-width="1.11"/>
<text x="1434.26" y="971" font-size="13.89" text-anchor="start">2.0</text>
<line x1="1424.5" y1="1003.5" x2="1429.36" y2="1003.5" stroke="#000" stroke-width="1.11"/>
<text x="1434.26" y="1009" font-size="13.89" text-anchor="start">1.5</text>
<line x1="1424.5" y1="1040.5" x2="1429.36" y2="1040.5" stroke="#000" stroke-width="1.11"/>
<text x="1434.26" y="1046" font-size="13.89" text-anchor="start">1.0</text>
<line x1="1424.5" y1="1077.5" x2="1429.36" y2="1077.5" stroke="#000" stroke-width="1.11"/>
<text x="1434.26" y="1083" font-size="13.89" text-anchor="start">0.5</text>
<line x1="1424.5" y1="1114.5" x2="1429.36" y2="1114.5" stroke="#000" stroke-width="1.11"/>
<text x="1434.26" y="1120" font-size="13.89" text-anchor="start">0.0</text>
<line x1="1141.5" y1="1151.5" x2="1141.5" y2="1165.9" stroke="#000" stroke-width="1.11"/>
<text x="1141.75" y="1183.2" font-size="12.1" text-anchor="middle">C</text>
<line x1="1174.5" y1="1151.5" x2="1174.5" y2="1156.36" stroke="#000" stroke-width="1.11"/>
<text x="1174.95" y="1169" font-size="12.1" text-anchor="middle">C++</text>
<line x1="1208.5" y1="1151.5" x2="1208.5" y2="1165.9" stroke="#000" stroke-width="1.11"/>
<text x="1208.15" y="1183.2" font-size="12.1" text-anchor="middle">Go</text>
<line x1="1241.5" y1="1151.5" x2="1241.5" y2="1156.36" stroke="#000" stroke-width="1.11"/>
<text x="1241.35" y="1169" font-size="12.1" text-anchor="middle">HTML</text>
<line x1="1274.5" y1="1151.5" x2="1274.5" y2="1165.9" stroke="#000" stroke-width="1.11"/>
<text x="1274.55" y="1183.2" font-size="12.1" text-anchor="middle">JS</text>
<line x1="1307.5" y1="1151.5" x2="1307.5" y2="1156.36" stroke="#000" stroke-width="1.11"/>
<text x="1307.75" y="1169" font-size="12.1" text-anchor="middle">Java</text>
<line x1="1340.5" y1="1151.5" x2="1340.5" y2="1165.9" stroke="#000" stroke-width="1.11"/>
<text x="1340.95" y="1183.2" font-size="12.1" text-anchor="middle">PHP</text>
<line x1="1374.5" y1="1151.5" x2="1374.5" y2="1156.36" stroke="#000" stroke-width="1.11"/>
<text x="1374.15" y="1169" font-size="12.1" text-anchor="middle">Python</text>
<line x1="1407.5" y1="1151.5" x2="1407.5" y2="1165.9" stroke="#000" stroke-width="1.11"/>
<text x="1407.35" y="1183.2" font-size="12.1" text-anchor="middle">XML</text>
<text x="1470.6" y="1035.3" font-size="13.89" text-anchor="middle" transform="rotate(-90 1470.6 1035.3)">sequence loss increase (%)</text>
</g>
<g id="row4">
<g clip-path="url(#ch4)">
<path d="M60.5 1212.5 L70 1212.5 L70 1221 L72 1221 L72 1228 L78 1228 L78 1235 L85 1235 L85 1242 L94 1242 L94 1248.4 L103 1248.4 L103 1255 L112 1255 L112 1262 L121 1262 L121 1269 L133 1269 L133 1275 L144 1275 L144 1282 L176 1282 L176 1289 L169 1289 L169 1295 L180 1295 L180 1302 L188 1302 L188 1309 L193 1309 L193 1315.4 L199 1315.4 L199 1322 L204 1322 L204 1329 L204 1329 L204 1335 L196 1335 L196 1342 L184 1342 L184 1349 L177 1349 L177 1355 L135 1355 L135 1362 L112 1362 L112 1369 L99 1369 L99 1376 L85 1376 L85 1382 L77 1382 L77 1389 L71 1389 L71 1396 L67 1396 L67 1402 L64 1402 L64 1409 L61.6 1409 L61.6 1416 L60.5 1416 L60.5 1422 L60.5 1422 L60.5 1429 L60.5 1429 L60.5 1436 L60.5 1436 L60.5 1442 L60.5 1442 L60.5 1448.5 L60.5 1448.5Z" fill="#1f77b4" fill-opacity="0.5"/>
<path d="M60.5 1212.5 L60.5 1212.5 L60.5 1221 L60.5 1221 L60.5 1228 L60.5 1228 L60.5 1235 L60.5 1235 L60.5 1242 L60.5 1242 L60.5 1248.4 L60.5 1248.4 L60.5 1255 L60.5 1255 L60.5 1262 L60.5 1262 L60.5 1269 L60.5 1269 L60.5 1275 L60.5 1275 L60.5 1282 L60.5 1282 L60.5 1289 L61.6 1289 L61.6 1295 L63 1295 L63 1302 L68 1302 L68 1309 L76 1309 L76 1315.4 L90 1315.4 L90 1322 L114 1322 L114 1329 L149 1329 L149 1335 L199 1335 L199 1342 L255 1342 L255 1349 L345 1349 L345 1355 L318 1355 L318 1362 L307 1362 L307 1369 L273 1369 L273 1376 L230 1376 L230 1382 L186 1382 L186 1389 L148 1389 L148 1396 L118 1396 L118 1402 L96 1402 L96 1409 L82 1409 L82 1416 L74 1416 L74 1422 L66 1422 L66 1429 L63 1429 L63 1436 L61.6 1436 L61.6 1442 L60.6 1442 L60.6 1448.5 L60.5 1448.5Z" fill="#ff7f0e" fill-opacity="0.5"/>
<line x1="60.5" y1="1223.5" x2="360.2" y2="1223.5" stroke="#b0b0b0" stroke-width="1.11" stroke-dasharray="4.1 1.78" opacity="0.55"/>
<line x1="60.5" y1="1275.5" x2="360.2" y2="1275.5" stroke="#b0b0b0" stroke-width="1.11" stroke-dasharray="4.1 1.78" opacity="0.55"/>
<line x1="60.5" y1="1327.5" x2="360.2" y2="1327.5" stroke="#b0b0b0" stroke-width="1.11" stroke-dasharray="4.1 1.78" opacity="0.55"/>
<line x1="60.5" y1="1378.5" x2="360.2" y2="1378.5" stroke="#b0b0b0" stroke-width="1.11" stroke-dasharray="4.1 1.78" opacity="0.55"/>
<line x1="60.5" y1="1430.5" x2="360.2" y2="1430.5" stroke="#b0b0b0" stroke-width="1.11" stroke-dasharray="4.1 1.78" opacity="0.55"/>
</g>
<line x1="60.5" y1="1214.5" x2="60.5" y2="1446.5" stroke="#000" stroke-width="1.11"/>
<line x1="59.95" y1="1214.5" x2="360.2" y2="1214.5" stroke="#000" stroke-width="1.11"/>
<line x1="59.95" y1="1446.5" x2="360.2" y2="1446.5" stroke="#000" stroke-width="1.11"/>
<line x1="55.64" y1="1223.5" x2="60.5" y2="1223.5" stroke="#000" stroke-width="1.11"/>
<text x="50.74" y="1228.55" font-size="13.89" text-anchor="end">4</text>
<line x1="55.64" y1="1275.5" x2="60.5" y2="1275.5" stroke="#000" stroke-width="1.11"/>
<text x="50.74" y="1280.55" font-size="13.89" text-anchor="end">2</text>
<line x1="55.64" y1="1327.5" x2="60.5" y2="1327.5" stroke="#000" stroke-width="1.11"/>
<text x="50.74" y="1332.55" font-size="13.89" text-anchor="end">0</text>
<line x1="55.64" y1="1378.5" x2="60.5" y2="1378.5" stroke="#000" stroke-width="1.11"/>
<text x="50.74" y="1383.55" font-size="13.89" text-anchor="end">−2</text>
<line x1="55.64" y1="1430.5" x2="60.5" y2="1430.5" stroke="#000" stroke-width="1.11"/>
<text x="50.74" y="1435.55" font-size="13.89" text-anchor="end">−4</text>
<line x1="60.5" y1="1446.5" x2="60.5" y2="1451.36" stroke="#000" stroke-width="1.11"/>
<text x="60.5" y="1466.8" font-size="13.89" text-anchor="middle">0.00</text>
<line x1="112.5" y1="1446.5" x2="112.5" y2="1451.36" stroke="#000" stroke-width="1.11"/>
<text x="112.5" y="1466.8" font-size="13.89" text-anchor="middle">0.03</text>
<line x1="164.5" y1="1446.5" x2="164.5" y2="1451.36" stroke="#000" stroke-width="1.11"/>
<text x="164.5" y="1466.8" font-size="13.89" text-anchor="middle">0.05</text>
<line x1="215.5" y1="1446.5" x2="215.5" y2="1451.36" stroke="#000" stroke-width="1.11"/>
<text x="215.5" y="1466.8" font-size="13.89" text-anchor="middle">0.08</text>
<line x1="267.5" y1="1446.5" x2="267.5" y2="1451.36" stroke="#000" stroke-width="1.11"/>
<text x="267.5" y="1466.8" font-size="13.89" text-anchor="middle">0.10</text>
<line x1="319.5" y1="1446.5" x2="319.5" y2="1451.36" stroke="#000" stroke-width="1.11"/>
<text x="319.5" y="1466.8" font-size="13.89" text-anchor="middle">0.12</text>
<text x="209.15" y="1485.7" font-size="13.89" text-anchor="middle">empirical distribution</text>
<text x="20.1" y="1331.5" font-size="13.89" text-anchor="middle" transform="rotate(-90 20.1 1331.5)">1B.L6.N7172 pre-activation</text>
<rect x="254.4" y="1221.7" width="98.2" height="67" rx="2.8" fill="#fff" fill-opacity="0.8" stroke="#ccc" stroke-opacity="0.8" stroke-width="1.11"/>
<text x="302.6" y="1237.7" font-size="13.89" text-anchor="middle">token</text>
<rect x="259" y="1249.4" width="28" height="9.7" fill="#1f77b4" fill-opacity="0.5"/>
<rect x="259" y="1270.1" width="28" height="9.7" fill="#ff7f0e" fill-opacity="0.5"/>
<text x="298.5" y="1258.8" font-size="13.89" text-anchor="start">Python</text>
<text x="298.9" y="1280.1" font-size="13.89" text-anchor="start">not</text>
<g clip-path="url(#cm4)">
<g stroke="#3f3f3f" stroke-width="1.95" stroke-linejoin="miter"><rect x="380.7" y="1217.6" width="11.8" height="17.4" fill="#3274a1"/><rect x="418.13" y="1220.6" width="11.8" height="23.4" fill="#3274a1"/><rect x="455.56" y="1226.6" width="11.8" height="31.4" fill="#3274a1"/><rect x="492.99" y="1216.6" width="11.8" height="41.4" fill="#3274a1"/><rect x="530.42" y="1226.6" width="11.8" height="31.4" fill="#3274a1"/><rect x="567.85" y="1215.6" width="11.8" height="73.4" fill="#3274a1"/><rect x="605.28" y="1230.6" width="11.8" height="33.4" fill="#3274a1"/><rect x="642.71" y="1240.6" width="11.8" height="24.4" fill="#3274a1"/><rect x="680.14" y="1235.6" width="11.8" height="34.4" fill="#3274a1"/><rect x="717.57" y="1247.6" width="11.8" height="20.8" fill="#3274a1"/><rect x="755" y="1234.6" width="11.8" height="46.4" fill="#3274a1"/><rect x="792.43" y="1247.6" width="11.8" height="24.8" fill="#3274a1"/><rect x="829.86" y="1247.6" width="11.8" height="25.8" fill="#3274a1"/><rect x="867.29" y="1252.6" width="11.8" height="16.8" fill="#3274a1"/><rect x="904.72" y="1251.6" width="11.8" height="29.4" fill="#3274a1"/><rect x="942.15" y="1247.6" width="11.8" height="30.4" fill="#3274a1"/><rect x="979.58" y="1235.6" width="11.8" height="73.4" fill="#3274a1"/><rect x="1017.01" y="1261.6" width="11.8" height="24.4" fill="#3274a1"/><rect x="1054.44" y="1255.6" width="11.8" height="33.8" fill="#3274a1"/><rect x="1091.87" y="1274.6" width="11.8" height="16.4" fill="#3274a1"/><rect x="380.7" y="1347.6" width="11.8" height="17.4" fill="#e1812c"/><rect x="418.13" y="1331.6" width="11.8" height="26.4" fill="#e1812c"/><rect x="455.56" y="1315.6" width="11.8" height="32.4" fill="#e1812c"/><rect x="492.99" y="1324.6" width="11.8" height="32.8" fill="#e1812c"/><rect x="530.42" y="1354.6" width="11.8" height="23.4" fill="#e1812c"/><rect x="567.85" y="1331.6" width="11.8" height="31.8" fill="#e1812c"/><rect x="605.28" y="1333.6" width="11.8" height="35.8" fill="#e1812c"/><rect x="642.71" y="1348.6" width="11.8" height="22.4" fill="#e1812c"/><rect x="680.14" y="1331.6" width="11.8" height="27.4" fill="#e1812c"/><rect x="717.57" y="1353.6" width="11.8" height="21.4" fill="#e1812c"/><rect x="755" y="1343.6" width="11.8" height="31.8" fill="#e1812c"/><rect x="792.43" y="1352.6" width="11.8" height="26.8" fill="#e1812c"/><rect x="829.86" y="1357.6" width="11.8" height="16.8" fill="#e1812c"/><rect x="867.29" y="1343.6" width="11.8" height="21.4" fill="#e1812c"/><rect x="904.72" y="1348.6" width="11.8" height="24.4" fill="#e1812c"/><rect x="942.15" y="1345.6" width="11.8" height="25.4" fill="#e1812c"/><rect x="979.58" y="1352.6" width="11.8" height="27.8" fill="#e1812c"/><rect x="1017.01" y="1356.6" width="11.8" height="19.4" fill="#e1812c"/><rect x="1054.44" y="1348.6" width="11.8" height="26.4" fill="#e1812c"/><rect x="1091.87" y="1391.6" width="11.8" height="22.4" fill="#e1812c"/></g>
<line x1="367.8" y1="1223.5" x2="1116.5" y2="1223.5" stroke="#b0b0b0" stroke-width="1.11" stroke-dasharray="4.1 1.78" opacity="0.55"/>
<line x1="367.8" y1="1275.5" x2="1116.5" y2="1275.5" stroke="#b0b0b0" stroke-width="1.11" stroke-dasharray="4.1 1.78" opacity="0.55"/>
<line x1="367.8" y1="1327.5" x2="1116.5" y2="1327.5" stroke="#b0b0b0" stroke-width="1.11" stroke-dasharray="4.1 1.78" opacity="0.55"/>
<line x1="367.8" y1="1378.5" x2="1116.5" y2="1378.5" stroke="#b0b0b0" stroke-width="1.11" stroke-dasharray="4.1 1.78" opacity="0.55"/>
<line x1="367.8" y1="1430.5" x2="1116.5" y2="1430.5" stroke="#b0b0b0" stroke-width="1.11" stroke-dasharray="4.1 1.78" opacity="0.55"/>
<path d="M380.7 1226.6H392.5M386.6 1194.5V1217.6M386.6 1235V1286M383.7 1194.5H389.5M383.7 1286H389.5M418.13 1235H429.93M424.03 1194.5V1220.6M424.03 1244V1353M421.13 1194.5H426.93M421.13 1353H426.93M455.56 1239H467.36M461.46 1194.5V1226.6M461.46 1258V1270M458.56 1194.5H464.36M458.56 1270H464.36M492.99 1241H504.79M498.89 1194.5V1216.6M498.89 1258V1272M495.99 1194.5H501.79M495.99 1272H501.79M530.42 1241H542.22M536.32 1215V1226.6M536.32 1258V1348M533.42 1215H539.22M533.42 1348H539.22M567.85 1242.6H579.65M573.75 1194.5V1215.6M573.75 1289V1332.4M570.85 1194.5H576.65M570.85 1332.4H576.65M605.28 1245H617.08M611.18 1194.5V1230.6M611.18 1264V1293M608.28 1194.5H614.08M608.28 1293H614.08M642.71 1251H654.51M648.61 1227V1240.6M648.61 1265V1327M645.71 1227H651.51M645.71 1327H651.51M680.14 1253H691.94M686.04 1215V1235.6M686.04 1270V1310.6M683.14 1215H688.94M683.14 1310.6H688.94M717.57 1257H729.37M723.47 1235V1247.6M723.47 1268.4V1295M720.57 1235H726.37M720.57 1295H726.37M755 1257H766.8M760.9 1194.5V1234.6M760.9 1281V1332M758 1194.5H763.8M758 1332H763.8M792.43 1258H804.23M798.33 1234V1247.6M798.33 1272.4V1296M795.43 1234H801.23M795.43 1296H801.23M829.86 1260H841.66M835.76 1232V1247.6M835.76 1273.4V1302M832.86 1232H838.66M832.86 1302H838.66M867.29 1260H879.09M873.19 1240V1252.6M873.19 1269.4V1293M870.29 1240H876.09M870.29 1293H876.09M904.72 1264.6H916.52M910.62 1232V1251.6M910.62 1281V1307M907.72 1232H913.52M907.72 1307H913.52M942.15 1272H953.95M948.05 1231V1247.6M948.05 1278V1310M945.15 1231H950.95M945.15 1310H950.95M979.58 1273H991.38M985.48 1194.5V1235.6M985.48 1309V1350M982.58 1194.5H988.38M982.58 1350H988.38M1017.01 1273H1028.81M1022.91 1249V1261.6M1022.91 1286V1306M1020.01 1249H1025.81M1020.01 1306H1025.81M1054.44 1274H1066.24M1060.34 1223V1255.6M1060.34 1289.4V1319M1057.44 1223H1063.24M1057.44 1319H1063.24M1091.87 1284H1103.67M1097.77 1260V1274.6M1097.77 1291V1304M1094.87 1260H1100.67M1094.87 1304H1100.67M380.7 1356.6H392.5M386.6 1325V1347.6M386.6 1365V1375M383.7 1325H389.5M383.7 1375H389.5M418.13 1344H429.93M424.03 1316V1331.6M424.03 1358V1375M421.13 1316H426.93M421.13 1375H426.93M455.56 1328H467.36M461.46 1303V1315.6M461.46 1348V1376M458.56 1303H464.36M458.56 1376H464.36M492.99 1340H504.79M498.89 1306V1324.6M498.89 1357.4V1380M495.99 1306H501.79M495.99 1380H501.79M530.42 1367H542.22M536.32 1338V1354.6M536.32 1378V1394M533.42 1338H539.22M533.42 1394H539.22M567.85 1347.6H579.65M573.75 1306V1331.6M573.75 1363.4V1386M570.85 1306H576.65M570.85 1386H576.65M605.28 1348.6H617.08M611.18 1316V1333.6M611.18 1369.4V1391M608.28 1316H614.08M608.28 1391H614.08M642.71 1361H654.51M648.61 1333V1348.6M648.61 1371V1386M645.71 1333H651.51M645.71 1386H651.51M680.14 1350H691.94M686.04 1310.6V1331.6M686.04 1359V1378M683.14 1310.6H688.94M683.14 1378H688.94M717.57 1364.6H729.37M723.47 1338V1353.6M723.47 1375V1391M720.57 1338H726.37M720.57 1391H726.37M755 1361H766.8M760.9 1323V1343.6M760.9 1375.4V1395M758 1323H763.8M758 1395H763.8M792.43 1365.6H804.23M798.33 1335V1352.6M798.33 1379.4V1397M795.43 1335H801.23M795.43 1397H801.23M829.86 1367H841.66M835.76 1344V1357.6M835.76 1374.4V1386M832.86 1344H838.66M832.86 1386H838.66M867.29 1354H879.09M873.19 1331V1343.6M873.19 1365V1384M870.29 1331H876.09M870.29 1384H876.09M904.72 1361H916.52M910.62 1331V1348.6M910.62 1373V1392M907.72 1331H913.52M907.72 1392H913.52M942.15 1358H953.95M948.05 1333V1345.6M948.05 1371V1387M945.15 1333H950.95M945.15 1387H950.95M979.58 1366H991.38M985.48 1335V1352.6M985.48 1380.4V1400M982.58 1335H988.38M982.58 1400H988.38M1017.01 1366H1028.81M1022.91 1345V1356.6M1022.91 1376V1392M1020.01 1345H1025.81M1020.01 1392H1025.81M1054.44 1362H1066.24M1060.34 1331V1348.6M1060.34 1375V1397M1057.44 1331H1063.24M1057.44 1397H1063.24M1091.87 1405H1103.67M1097.77 1362V1391.6M1097.77 1414V1425M1094.87 1362H1100.67M1094.87 1425H1100.67" fill="none" stroke="#3f3f3f" stroke-width="1.95" stroke-linecap="square"/>
</g>
<line x1="367.8" y1="1214.5" x2="1117.06" y2="1214.5" stroke="#000" stroke-width="1.11"/>
<line x1="367.8" y1="1446.5" x2="1117.06" y2="1446.5" stroke="#000" stroke-width="1.11"/>
<line x1="1116.5" y1="1214.5" x2="1116.5" y2="1446.5" stroke="#000" stroke-width="1.11"/>
<line x1="362.94" y1="1223.5" x2="367.8" y2="1223.5" stroke="#000" stroke-width="1.11"/>
<line x1="362.94" y1="1275.5" x2="367.8" y2="1275.5" stroke="#000" stroke-width="1.11"/>
<line x1="362.94" y1="1327.5" x2="367.8" y2="1327.5" stroke="#000" stroke-width="1.11"/>
<line x1="362.94" y1="1378.5" x2="367.8" y2="1378.5" stroke="#000" stroke-width="1.11"/>
<line x1="362.94" y1="1430.5" x2="367.8" y2="1430.5" stroke="#000" stroke-width="1.11"/>
<line x1="386.5" y1="1446.5" x2="386.5" y2="1460.9" stroke="#000" stroke-width="1.11"/>
<text x="386.6" y="1477.2" font-size="12.1" text-anchor="middle" xml:space="preserve">' range'</text>
<line x1="424.5" y1="1446.5" x2="424.5" y2="1451.36" stroke="#000" stroke-width="1.11"/>
<text x="424.03" y="1463" font-size="12.1" text-anchor="middle" xml:space="preserve">' -&gt;'</text>
<line x1="461.5" y1="1446.5" x2="461.5" y2="1460.9" stroke="#000" stroke-width="1.11"/>
<text x="461.46" y="1477.2" font-size="12.1" text-anchor="middle" xml:space="preserve">' sys'</text>
<line x1="498.5" y1="1446.5" x2="498.5" y2="1451.36" stroke="#000" stroke-width="1.11"/>
<text x="498.89" y="1463" font-size="12.1" text-anchor="middle" xml:space="preserve">'sys'</text>
<line x1="536.5" y1="1446.5" x2="536.5" y2="1460.9" stroke="#000" stroke-width="1.11"/>
<text x="536.32" y="1477.2" font-size="12.1" text-anchor="middle" xml:space="preserve">'@'</text>
<line x1="573.5" y1="1446.5" x2="573.5" y2="1451.36" stroke="#000" stroke-width="1.11"/>
<text x="573.75" y="1463" font-size="12.1" text-anchor="middle" xml:space="preserve">' ['</text>
<line x1="611.5" y1="1446.5" x2="611.5" y2="1460.9" stroke="#000" stroke-width="1.11"/>
<text x="611.18" y="1477.2" font-size="12.1" text-anchor="middle" xml:space="preserve">'(['</text>
<line x1="648.5" y1="1446.5" x2="648.5" y2="1451.36" stroke="#000" stroke-width="1.11"/>
<text x="648.61" y="1463" font-size="12.1" text-anchor="middle" xml:space="preserve">'for'</text>
<line x1="686.5" y1="1446.5" x2="686.5" y2="1460.9" stroke="#000" stroke-width="1.11"/>
<text x="686.04" y="1477.2" font-size="12.1" text-anchor="middle" xml:space="preserve">'):'</text>
<line x1="723.5" y1="1446.5" x2="723.5" y2="1451.36" stroke="#000" stroke-width="1.11"/>
<text x="723.47" y="1463" font-size="12.1" text-anchor="middle" xml:space="preserve">'if'</text>
<line x1="760.5" y1="1446.5" x2="760.5" y2="1460.9" stroke="#000" stroke-width="1.11"/>
<text x="760.9" y="1477.2" font-size="12.1" text-anchor="middle" xml:space="preserve">'='</text>
<line x1="798.5" y1="1446.5" x2="798.5" y2="1451.36" stroke="#000" stroke-width="1.11"/>
<text x="798.33" y="1463" font-size="12.1" text-anchor="middle" xml:space="preserve">'return'</text>
<line x1="835.5" y1="1446.5" x2="835.5" y2="1460.9" stroke="#000" stroke-width="1.11"/>
<text x="835.76" y="1477.2" font-size="12.1" text-anchor="middle" xml:space="preserve">'import'</text>
<line x1="873.5" y1="1446.5" x2="873.5" y2="1451.36" stroke="#000" stroke-width="1.11"/>
<text x="873.19" y="1463" font-size="12.1" text-anchor="middle" xml:space="preserve">' __'</text>
<line x1="910.5" y1="1446.5" x2="910.5" y2="1460.9" stroke="#000" stroke-width="1.11"/>
<text x="910.62" y="1477.2" font-size="12.1" text-anchor="middle" xml:space="preserve">' ='</text>
<line x1="948.5" y1="1446.5" x2="948.5" y2="1451.36" stroke="#000" stroke-width="1.11"/>
<text x="948.05" y="1463" font-size="12.1" text-anchor="middle" xml:space="preserve">'(_'</text>
<line x1="985.5" y1="1446.5" x2="985.5" y2="1460.9" stroke="#000" stroke-width="1.11"/>
<text x="985.48" y="1477.2" font-size="12.1" text-anchor="middle" xml:space="preserve">' {'</text>
<line x1="1022.5" y1="1446.5" x2="1022.5" y2="1451.36" stroke="#000" stroke-width="1.11"/>
<text x="1022.91" y="1463" font-size="12.1" text-anchor="middle" xml:space="preserve">' []'</text>
<line x1="1060.5" y1="1446.5" x2="1060.5" y2="1460.9" stroke="#000" stroke-width="1.11"/>
<text x="1060.34" y="1477.2" font-size="12.1" text-anchor="middle" xml:space="preserve">'('</text>
<line x1="1097.5" y1="1446.5" x2="1097.5" y2="1451.36" stroke="#000" stroke-width="1.11"/>
<text x="1097.77" y="1463" font-size="12.1" text-anchor="middle" xml:space="preserve">'try'</text>
<g clip-path="url(#cl4)">
<g stroke="#3d3d3d" stroke-width="2.08"><rect x="1360.95" y="1345.6" width="26.4" height="45.8" fill="#7f7f7f"/></g>
<path d="M1141.75 1387V1396M1141.75 1400.6V1405M1135.1 1387H1148.4M1135.1 1405H1148.4M1174.95 1386V1396M1174.95 1400V1404M1168.3 1386H1181.6M1168.3 1404H1181.6M1208.15 1385V1395M1208.15 1401V1420M1201.5 1385H1214.8M1201.5 1420H1214.8M1241.35 1368V1395M1241.35 1401V1422M1234.7 1368H1248M1234.7 1422H1248M1274.55 1382.6V1395.4M1274.55 1400V1407M1267.9 1382.6H1281.2M1267.9 1407H1281.2M1307.75 1390V1396M1307.75 1400V1405M1301.1 1390H1314.4M1301.1 1405H1314.4M1340.95 1387.6V1396M1340.95 1401V1405M1334.3 1387.6H1347.6M1334.3 1405H1347.6M1360.95 1370.6H1387.35M1374.15 1228V1345.6M1374.15 1391.4V1426M1367.5 1228H1380.8M1367.5 1426H1380.8M1407.35 1374V1395M1407.35 1401V1416M1400.7 1374H1414M1400.7 1416H1414" fill="none" stroke="#3d3d3d" stroke-width="2.08" stroke-linecap="square"/>
<rect x="1127.51" y="1396" width="28.48" height="4.6" fill="#3d3d3d"/><rect x="1160.71" y="1396" width="28.48" height="4" fill="#3d3d3d"/><rect x="1193.91" y="1395" width="28.48" height="6" fill="#3d3d3d"/><rect x="1227.11" y="1395" width="28.48" height="6" fill="#3d3d3d"/><rect x="1260.31" y="1395.4" width="28.48" height="4.6" fill="#3d3d3d"/><rect x="1293.51" y="1396" width="28.48" height="4" fill="#3d3d3d"/><rect x="1326.71" y="1396" width="28.48" height="5" fill="#3d3d3d"/><rect x="1393.11" y="1395" width="28.48" height="6" fill="#3d3d3d"/>
<path d="M1141.75 1375.7l1.15 1.7l-1.15 1.7l-1.15 -1.7zM1141.75 1379.7l1.15 1.7l-1.15 1.7l-1.15 -1.7zM1141.75 1381.7l1.15 1.7l-1.15 1.7l-1.15 -1.7zM1141.75 1406.3l1.15 1.7l-1.15 1.7l-1.15 -1.7zM1141.75 1408.9l1.15 1.7l-1.15 1.7l-1.15 -1.7zM1141.75 1411.7l1.15 1.7l-1.15 1.7l-1.15 -1.7zM1174.95 1375.7l1.15 1.7l-1.15 1.7l-1.15 -1.7zM1174.95 1377.7l1.15 1.7l-1.15 1.7l-1.15 -1.7zM1174.95 1379.7l1.15 1.7l-1.15 1.7l-1.15 -1.7zM1174.95 1381.7l1.15 1.7l-1.15 1.7l-1.15 -1.7zM1174.95 1405.3l1.15 1.7l-1.15 1.7l-1.15 -1.7zM1174.95 1408.3l1.15 1.7l-1.15 1.7l-1.15 -1.7zM1174.95 1415.7l1.15 1.7l-1.15 1.7l-1.15 -1.7zM1208.15 1360.7l1.15 1.7l-1.15 1.7l-1.15 -1.7zM1208.15 1370.7l1.15 1.7l-1.15 1.7l-1.15 -1.7zM1208.15 1380.7l1.15 1.7l-1.15 1.7l-1.15 -1.7zM1208.15 1420.3l1.15 1.7l-1.15 1.7l-1.15 -1.7zM1208.15 1422.3l1.15 1.7l-1.15 1.7l-1.15 -1.7zM1208.15 1426.7l1.15 1.7l-1.15 1.7l-1.15 -1.7zM1208.15 1428.7l1.15 1.7l-1.15 1.7l-1.15 -1.7zM1208.15 1444.3l1.15 1.7l-1.15 1.7l-1.15 -1.7zM1241.35 1355.7l1.15 1.7l-1.15 1.7l-1.15 -1.7zM1241.35 1357.7l1.15 1.7l-1.15 1.7l-1.15 -1.7zM1241.35 1360.3l1.15 1.7l-1.15 1.7l-1.15 -1.7zM1241.35 1362.7l1.15 1.7l-1.15 1.7l-1.15 -1.7zM1241.35 1421.9l1.15 1.7l-1.15 1.7l-1.15 -1.7zM1241.35 1431.7l1.15 1.7l-1.15 1.7l-1.15 -1.7zM1241.35 1438.7l1.15 1.7l-1.15 1.7l-1.15 -1.7zM1274.55 1367.7l1.15 1.7l-1.15 1.7l-1.15 -1.7zM1274.55 1379.9l1.15 1.7l-1.15 1.7l-1.15 -1.7zM1274.55 1407.3l1.15 1.7l-1.15 1.7l-1.15 -1.7zM1274.55 1410.7l1.15 1.7l-1.15 1.7l-1.15 -1.7zM1307.75 1380.7l1.15 1.7l-1.15 1.7l-1.15 -1.7zM1307.75 1383.7l1.15 1.7l-1.15 1.7l-1.15 -1.7zM1307.75 1385.7l1.15 1.7l-1.15 1.7l-1.15 -1.7zM1307.75 1405.3l1.15 1.7l-1.15 1.7l-1.15 -1.7zM1307.75 1409.9l1.15 1.7l-1.15 1.7l-1.15 -1.7zM1307.75 1411.9l1.15 1.7l-1.15 1.7l-1.15 -1.7zM1340.95 1378.7l1.15 1.7l-1.15 1.7l-1.15 -1.7zM1340.95 1381.3l1.15 1.7l-1.15 1.7l-1.15 -1.7zM1340.95 1383.7l1.15 1.7l-1.15 1.7l-1.15 -1.7zM1340.95 1405.3l1.15 1.7l-1.15 1.7l-1.15 -1.7zM1340.95 1408.7l1.15 1.7l-1.15 1.7l-1.15 -1.7zM1374.15 1429.7l1.15 1.7l-1.15 1.7l-1.15 -1.7zM1374.15 1434.7l1.15 1.7l-1.15 1.7l-1.15 -1.7zM1374.15 1440.7l1.15 1.7l-1.15 1.7l-1.15 -1.7zM1407.35 1301.7l1.15 1.7l-1.15 1.7l-1.15 -1.7zM1407.35 1355.7l1.15 1.7l-1.15 1.7l-1.15 -1.7zM1407.35 1366.3l1.15 1.7l-1.15 1.7l-1.15 -1.7zM1407.35 1367.7l1.15 1.7l-1.15 1.7l-1.15 -1.7zM1407.35 1420.7l1.15 1.7l-1.15 1.7l-1.15 -1.7zM1407.35 1422.7l1.15 1.7l-1.15 1.7l-1.15 -1.7zM1407.35 1423.9l1.15 1.7l-1.15 1.7l-1.15 -1.7z" fill="#3d3d3d" stroke="#3d3d3d" stroke-width="0.5"/>
</g>
<rect x="1125.5" y="1214.5" width="299" height="232" fill="none" stroke="#000" stroke-width="1.11"/>
<line x1="1424.5" y1="1244.5" x2="1429.36" y2="1244.5" stroke="#000" stroke-width="1.11"/>
<text x="1434.26" y="1250" font-size="13.89" text-anchor="start">1.5</text>
<line x1="1424.5" y1="1296.5" x2="1429.36" y2="1296.5" stroke="#000" stroke-width="1.11"/>
<text x="1434.26" y="1302" font-size="13.89" text-anchor="start">1.0</text>
<line x1="1424.5" y1="1347.5" x2="1429.36" y2="1347.5" stroke="#000" stroke-width="1.11"/>
<text x="1434.26" y="1353" font-size="13.89" text-anchor="start">0.5</text>
<line x1="1424.5" y1="1398.5" x2="1429.36" y2="1398.5" stroke="#000" stroke-width="1.11"/>
<text x="1434.26" y="1404" font-size="13.89" text-anchor="start">0.0</text>
<line x1="1141.5" y1="1446.5" x2="1141.5" y2="1460.9" stroke="#000" stroke-width="1.11"/>
<text x="1141.75" y="1477.2" font-size="12.1" text-anchor="middle">C</text>
<line x1="1174.5" y1="1446.5" x2="1174.5" y2="1451.36" stroke="#000" stroke-width="1.11"/>
<text x="1174.95" y="1463" font-size="12.1" text-anchor="middle">C++</text>
<line x1="1208.5" y1="1446.5" x2="1208.5" y2="1460.9" stroke="#000" stroke-width="1.11"/>
<text x="1208.15" y="1477.2" font-size="12.1" text-anchor="middle">Go</text>
<line x1="1241.5" y1="1446.5" x2="1241.5" y2="1451.36" stroke="#000" stroke-width="1.11"/>
<text x="1241.35" y="1463" font-size="12.1" text-anchor="middle">HTML</text>
<line x1="1274.5" y1="1446.5" x2="1274.5" y2="1460.9" stroke="#000" stroke-width="1.11"/>
<text x="1274.55" y="1477.2" font-size="12.1" text-anchor="middle">JS</text>
<line x1="1307.5" y1="1446.5" x2="1307.5" y2="1451.36" stroke="#000" stroke-width="1.11"/>
<text x="1307.75" y="1463" font-size="12.1" text-anchor="middle">Java</text>
<line x1="1340.5" y1="1446.5" x2="1340.5" y2="1460.9" stroke="#000" stroke-width="1.11"/>
<text x="1340.95" y="1477.2" font-size="12.1" text-anchor="middle">PHP</text>
<line x1="1374.5" y1="1446.5" x2="1374.5" y2="1451.36" stroke="#000" stroke-width="1.11"/>
<text x="1374.15" y="1463" font-size="12.1" text-anchor="middle">Python</text>
<line x1="1407.5" y1="1446.5" x2="1407.5" y2="1460.9" stroke="#000" stroke-width="1.11"/>
<text x="1407.35" y="1477.2" font-size="12.1" text-anchor="middle">XML</text>
<text x="1470.6" y="1330.8" font-size="13.89" text-anchor="middle" transform="rotate(-90 1470.6 1330.8)">sequence loss increase (%)</text>
</g>
<g id="row5">
<g clip-path="url(#ch5)">
<path d="M60.5 1507.5 L65 1507.5 L65 1513 L68 1513 L68 1520 L72 1520 L72 1527 L86 1527 L86 1533.4 L92 1533.4 L92 1540.4 L107 1540.4 L107 1547 L125 1547 L125 1554 L138 1554 L138 1561 L150 1561 L150 1568 L158 1568 L158 1574.4 L164 1574.4 L164 1581 L170 1581 L170 1588 L173 1588 L173 1595 L206 1595 L206 1602 L200 1602 L200 1609 L213 1609 L213 1615.6 L230 1615.6 L230 1622 L235 1622 L235 1629 L230 1629 L230 1636 L211 1636 L211 1643 L180 1643 L180 1650 L151 1650 L151 1656.4 L127 1656.4 L127 1663 L117 1663 L117 1670 L92 1670 L92 1677 L82 1677 L82 1684 L75 1684 L75 1691 L70 1691 L70 1697.6 L65 1697.6 L65 1704 L62.4 1704 L62.4 1711 L61 1711 L61 1718 L60.5 1718 L60.5 1725 L60.5 1725 L60.5 1732 L60.5 1732 L60.5 1738.6 L60.5 1738.6 L60.5 1743.5 L60.5 1743.5Z" fill="#1f77b4" fill-opacity="0.5"/>
<path d="M60.5 1507.5 L60.5 1507.5 L60.5 1513 L60.5 1513 L60.5 1520 L60.5 1520 L60.5 1527 L60.5 1527 L60.5 1533.4 L60.5 1533.4 L60.5 1540.4 L60.5 1540.4 L60.5 1547 L60.5 1547 L60.5 1554 L60.5 1554 L60.5 1561 L60.5 1561 L60.5 1568 L60.5 1568 L60.5 1574.4 L62 1574.4 L62 1581 L64 1581 L64 1588 L67 1588 L67 1595 L77 1595 L77 1602 L92 1602 L92 1609 L109 1609 L109 1615.6 L142 1615.6 L142 1622 L188 1622 L188 1629 L243 1629 L243 1636 L298 1636 L298 1643 L334 1643 L334 1650 L345 1650 L345 1656.4 L325 1656.4 L325 1663 L322 1663 L322 1670 L224 1670 L224 1677 L178 1677 L178 1684 L141 1684 L141 1691 L113 1691 L113 1697.6 L93 1697.6 L93 1704 L79 1704 L79 1711 L71 1711 L71 1718 L67 1718 L67 1725 L63 1725 L63 1732 L62 1732 L62 1738.6 L60.8 1738.6 L60.8 1743.5 L60.5 1743.5Z" fill="#ff7f0e" fill-opacity="0.5"/>
<line x1="60.5" y1="1510.5" x2="360.2" y2="1510.5" stroke="#b0b0b0" stroke-width="1.11" stroke-dasharray="4.1 1.78" opacity="0.55"/>
<line x1="60.5" y1="1563.5" x2="360.2" y2="1563.5" stroke="#b0b0b0" stroke-width="1.11" stroke-dasharray="4.1 1.78" opacity="0.55"/>
<line x1="60.5" y1="1615.5" x2="360.2" y2="1615.5" stroke="#b0b0b0" stroke-width="1.11" stroke-dasharray="4.1 1.78" opacity="0.55"/>
<line x1="60.5" y1="1668.5" x2="360.2" y2="1668.5" stroke="#b0b0b0" stroke-width="1.11" stroke-dasharray="4.1 1.78" opacity="0.55"/>
<line x1="60.5" y1="1721.5" x2="360.2" y2="1721.5" stroke="#b0b0b0" stroke-width="1.11" stroke-dasharray="4.1 1.78" opacity="0.55"/>
</g>
<line x1="60.5" y1="1509.5" x2="60.5" y2="1741.5" stroke="#000" stroke-width="1.11"/>
<line x1="59.95" y1="1509.5" x2="360.2" y2="1509.5" stroke="#000" stroke-width="1.11"/>
<line x1="59.95" y1="1741.5" x2="360.2" y2="1741.5" stroke="#000" stroke-width="1.11"/>
<line x1="55.64" y1="1510.5" x2="60.5" y2="1510.5" stroke="#000" stroke-width="1.11"/>
<text x="50.74" y="1515.55" font-size="13.89" text-anchor="end">4</text>
<line x1="55.64" y1="1563.5" x2="60.5" y2="1563.5" stroke="#000" stroke-width="1.11"/>
<text x="50.74" y="1568.55" font-size="13.89" text-anchor="end">2</text>
<line x1="55.64" y1="1615.5" x2="60.5" y2="1615.5" stroke="#000" stroke-width="1.11"/>
<text x="50.74" y="1620.55" font-size="13.89" text-anchor="end">0</text>
<line x1="55.64" y1="1668.5" x2="60.5" y2="1668.5" stroke="#000" stroke-width="1.11"/>
<text x="50.74" y="1673.55" font-size="13.89" text-anchor="end">−2</text>
<line x1="55.64" y1="1721.5" x2="60.5" y2="1721.5" stroke="#000" stroke-width="1.11"/>
<text x="50.74" y="1726.55" font-size="13.89" text-anchor="end">−4</text>
<line x1="60.5" y1="1741.5" x2="60.5" y2="1746.36" stroke="#000" stroke-width="1.11"/>
<text x="60.5" y="1761.8" font-size="13.89" text-anchor="middle">0.00</text>
<line x1="106.5" y1="1741.5" x2="106.5" y2="1746.36" stroke="#000" stroke-width="1.11"/>
<text x="106.5" y="1761.8" font-size="13.89" text-anchor="middle">0.02</text>
<line x1="153.5" y1="1741.5" x2="153.5" y2="1746.36" stroke="#000" stroke-width="1.11"/>
<text x="153.5" y="1761.8" font-size="13.89" text-anchor="middle">0.04</text>
<line x1="200.5" y1="1741.5" x2="200.5" y2="1746.36" stroke="#000" stroke-width="1.11"/>
<text x="200.5" y="1761.8" font-size="13.89" text-anchor="middle">0.06</text>
<line x1="246.5" y1="1741.5" x2="246.5" y2="1746.36" stroke="#000" stroke-width="1.11"/>
<text x="246.5" y="1761.8" font-size="13.89" text-anchor="middle">0.08</text>
<line x1="293.5" y1="1741.5" x2="293.5" y2="1746.36" stroke="#000" stroke-width="1.11"/>
<text x="293.5" y="1761.8" font-size="13.89" text-anchor="middle">0.10</text>
<line x1="340.5" y1="1741.5" x2="340.5" y2="1746.36" stroke="#000" stroke-width="1.11"/>
<text x="340.5" y="1761.8" font-size="13.89" text-anchor="middle">0.12</text>
<text x="209.15" y="1781.7" font-size="13.89" text-anchor="middle">empirical distribution</text>
<text x="20.1" y="1626.5" font-size="13.89" text-anchor="middle" transform="rotate(-90 20.1 1626.5)">1B.L6.N4070 pre-activation</text>
<rect x="272.4" y="1516.7" width="80.2" height="67" rx="2.8" fill="#fff" fill-opacity="0.8" stroke="#ccc" stroke-opacity="0.8" stroke-width="1.11"/>
<text x="311.6" y="1532.7" font-size="13.89" text-anchor="middle">token</text>
<rect x="278" y="1544.4" width="28" height="9.7" fill="#1f77b4" fill-opacity="0.5"/>
<rect x="278" y="1565.1" width="28" height="9.7" fill="#ff7f0e" fill-opacity="0.5"/>
<text x="317.5" y="1553.8" font-size="13.89" text-anchor="start">Java</text>
<text x="317.9" y="1575.1" font-size="13.89" text-anchor="start">not</text>
<g clip-path="url(#cm5)">
<g stroke="#3f3f3f" stroke-width="1.95" stroke-linejoin="miter"><rect x="380.7" y="1489.5" width="11.8" height="37.5" fill="#3274a1"/><rect x="418.13" y="1516.6" width="11.8" height="58.4" fill="#3274a1"/><rect x="455.56" y="1527.6" width="11.8" height="23.4" fill="#3274a1"/><rect x="492.99" y="1526.6" width="11.8" height="27.4" fill="#3274a1"/><rect x="530.42" y="1516.6" width="11.8" height="67.4" fill="#3274a1"/><rect x="567.85" y="1530.6" width="11.8" height="36.4" fill="#3274a1"/><rect x="605.28" y="1534.6" width="11.8" height="16.4" fill="#3274a1"/><rect x="642.71" y="1536.6" width="11.8" height="21.4" fill="#3274a1"/><rect x="680.14" y="1531.6" width="11.8" height="28.4" fill="#3274a1"/><rect x="717.57" y="1531.6" width="11.8" height="28.4" fill="#3274a1"/><rect x="755" y="1535.6" width="11.8" height="20.4" fill="#3274a1"/><rect x="792.43" y="1540.6" width="11.8" height="18.4" fill="#3274a1"/><rect x="829.86" y="1538.6" width="11.8" height="25.4" fill="#3274a1"/><rect x="867.29" y="1535.6" width="11.8" height="28.4" fill="#3274a1"/><rect x="904.72" y="1544.6" width="11.8" height="19.4" fill="#3274a1"/><rect x="942.15" y="1542.6" width="11.8" height="37.4" fill="#3274a1"/><rect x="979.58" y="1543.6" width="11.8" height="38.4" fill="#3274a1"/><rect x="1017.01" y="1555.6" width="11.8" height="31.4" fill="#3274a1"/><rect x="1054.44" y="1563.6" width="11.8" height="22.4" fill="#3274a1"/><rect x="1091.87" y="1585.6" width="11.8" height="18.4" fill="#3274a1"/><rect x="380.7" y="1629.6" width="11.8" height="23.4" fill="#e1812c"/><rect x="418.13" y="1657.6" width="11.8" height="26.4" fill="#e1812c"/><rect x="455.56" y="1634.6" width="11.8" height="22.4" fill="#e1812c"/><rect x="492.99" y="1644.6" width="11.8" height="21.4" fill="#e1812c"/><rect x="530.42" y="1632.6" width="11.8" height="36.4" fill="#e1812c"/><rect x="567.85" y="1629.6" width="11.8" height="31.4" fill="#e1812c"/><rect x="605.28" y="1617.6" width="11.8" height="27.4" fill="#e1812c"/><rect x="642.71" y="1622.6" width="11.8" height="18.4" fill="#e1812c"/><rect x="680.14" y="1622.6" width="11.8" height="28.4" fill="#e1812c"/><rect x="717.57" y="1632.6" width="11.8" height="29.4" fill="#e1812c"/><rect x="755" y="1632.6" width="11.8" height="24.4" fill="#e1812c"/><rect x="792.43" y="1637.6" width="11.8" height="38.4" fill="#e1812c"/><rect x="829.86" y="1625.6" width="11.8" height="38.4" fill="#e1812c"/><rect x="867.29" y="1625.6" width="11.8" height="38.4" fill="#e1812c"/><rect x="904.72" y="1650.6" width="11.8" height="25.4" fill="#e1812c"/><rect x="942.15" y="1630.6" width="11.8" height="27.4" fill="#e1812c"/><rect x="979.58" y="1641.6" width="11.8" height="28.4" fill="#e1812c"/><rect x="1017.01" y="1649.6" width="11.8" height="20.4" fill="#e1812c"/><rect x="1054.44" y="1649.6" width="11.8" height="24.4" fill="#e1812c"/><rect x="1091.87" y="1668.6" width="11.8" height="21.4" fill="#e1812c"/></g>
<line x1="367.8" y1="1510.5" x2="1116.5" y2="1510.5" stroke="#b0b0b0" stroke-width="1.11" stroke-dasharray="4.1 1.78" opacity="0.55"/>
<line x1="367.8" y1="1563.5" x2="1116.5" y2="1563.5" stroke="#b0b0b0" stroke-width="1.11" stroke-dasharray="4.1 1.78" opacity="0.55"/>
<line x1="367.8" y1="1615.5" x2="1116.5" y2="1615.5" stroke="#b0b0b0" stroke-width="1.11" stroke-dasharray="4.1 1.78" opacity="0.55"/>
<line x1="367.8" y1="1668.5" x2="1116.5" y2="1668.5" stroke="#b0b0b0" stroke-width="1.11" stroke-dasharray="4.1 1.78" opacity="0.55"/>
<line x1="367.8" y1="1721.5" x2="1116.5" y2="1721.5" stroke="#b0b0b0" stroke-width="1.11" stroke-dasharray="4.1 1.78" opacity="0.55"/>
<path d="M380.7 1514H392.5M386.6 1489.5V1489.5M386.6 1527V1544M383.7 1489.5H389.5M383.7 1544H389.5M418.13 1535.6H429.93M424.03 1489.5V1516.6M424.03 1575V1642M421.13 1489.5H426.93M421.13 1642H426.93M455.56 1537H467.36M461.46 1519V1527.6M461.46 1551V1563M458.56 1519H464.36M458.56 1563H464.36M492.99 1538.6H504.79M498.89 1519V1526.6M498.89 1554V1587M495.99 1519H501.79M495.99 1587H501.79M530.42 1541.6H542.22M536.32 1489.5V1516.6M536.32 1584V1642M533.42 1489.5H539.22M533.42 1642H539.22M567.85 1542.6H579.65M573.75 1489.5V1530.6M573.75 1567V1607M570.85 1489.5H576.65M570.85 1607H576.65M605.28 1542.6H617.08M611.18 1523V1534.6M611.18 1551V1592M608.28 1523H614.08M608.28 1592H614.08M642.71 1544H654.51M648.61 1525V1536.6M648.61 1558V1582M645.71 1525H651.51M645.71 1582H651.51M680.14 1544H691.94M686.04 1516V1531.6M686.04 1560V1598.4M683.14 1516H688.94M683.14 1598.4H688.94M717.57 1545H729.37M723.47 1515V1531.6M723.47 1560V1627M720.57 1515H726.37M720.57 1627H726.37M755 1547H766.8M760.9 1523V1535.6M760.9 1556V1576M758 1523H763.8M758 1576H763.8M792.43 1548.6H804.23M798.33 1529V1540.6M798.33 1559V1575M795.43 1529H801.23M795.43 1575H801.23M829.86 1548.6H841.66M835.76 1524V1538.6M835.76 1564V1607.2M832.86 1524H838.66M832.86 1607.2H838.66M867.29 1551.6H879.09M873.19 1523V1535.6M873.19 1564V1586M870.29 1523H876.09M870.29 1586H876.09M904.72 1553.6H916.52M910.62 1531V1544.6M910.62 1564V1622M907.72 1531H913.52M907.72 1622H913.52M942.15 1563H953.95M948.05 1515V1542.6M948.05 1580V1606M945.15 1515H950.95M945.15 1606H950.95M979.58 1563H991.38M985.48 1533V1543.6M985.48 1582V1645M982.58 1533H988.38M982.58 1645H988.38M1017.01 1566.6H1028.81M1022.91 1545V1555.6M1022.91 1587V1603M1020.01 1545H1025.81M1020.01 1603H1025.81M1054.44 1575H1066.24M1060.34 1552V1563.6M1060.34 1586V1600M1057.44 1552H1063.24M1057.44 1600H1063.24M1091.87 1593.6H1103.67M1097.77 1576V1585.6M1097.77 1604V1621M1094.87 1576H1100.67M1094.87 1621H1100.67M380.7 1643H392.5M386.6 1619V1629.6M386.6 1653V1664M383.7 1619H389.5M383.7 1664H389.5M418.13 1671.6H429.93M424.03 1633V1657.6M424.03 1684V1704M421.13 1633H426.93M421.13 1704H426.93M455.56 1644.6H467.36M461.46 1600V1634.6M461.46 1657V1674M458.56 1600H464.36M458.56 1674H464.36M492.99 1657H504.79M498.89 1622V1644.6M498.89 1666V1680M495.99 1622H501.79M495.99 1680H501.79M530.42 1653H542.22M536.32 1599V1632.6M536.32 1669V1689M533.42 1599H539.22M533.42 1689H539.22M567.85 1644.6H579.65M573.75 1607V1629.6M573.75 1661V1685M570.85 1607H576.65M570.85 1685H576.65M605.28 1630H617.08M611.18 1603V1617.6M611.18 1645V1666M608.28 1603H614.08M608.28 1666H614.08M642.71 1633H654.51M648.61 1610V1622.6M648.61 1641V1654M645.71 1610H651.51M645.71 1654H651.51M680.14 1636.6H691.94M686.04 1598.4V1622.6M686.04 1651V1678M683.14 1598.4H688.94M683.14 1678H688.94M717.57 1647H729.37M723.47 1606V1632.6M723.47 1662V1681M720.57 1606H726.37M720.57 1681H726.37M755 1646H766.8M760.9 1571V1632.6M760.9 1657V1688M758 1571H763.8M758 1688H763.8M792.43 1653H804.23M798.33 1610V1637.6M798.33 1676V1692M795.43 1610H801.23M795.43 1692H801.23M829.86 1643H841.66M835.76 1608.8V1625.6M835.76 1664V1682M832.86 1608.8H838.66M832.86 1682H838.66M867.29 1646H879.09M873.19 1552V1625.6M873.19 1664V1685M870.29 1552H876.09M870.29 1685H876.09M904.72 1665H916.52M910.62 1633V1650.6M910.62 1676V1694M907.72 1633H913.52M907.72 1694H913.52M942.15 1645H953.95M948.05 1613V1630.6M948.05 1658V1680M945.15 1613H950.95M945.15 1680H950.95M979.58 1653H991.38M985.48 1626V1641.6M985.48 1670V1694M982.58 1626H988.38M982.58 1694H988.38M1017.01 1660.6H1028.81M1022.91 1614V1649.6M1022.91 1670V1678M1020.01 1614H1025.81M1020.01 1678H1025.81M1054.44 1662H1066.24M1060.34 1633V1649.6M1060.34 1674V1692M1057.44 1633H1063.24M1057.44 1692H1063.24M1091.87 1681H1103.67M1097.77 1653V1668.6M1097.77 1690V1705M1094.87 1653H1100.67M1094.87 1705H1100.67" fill="none" stroke="#3f3f3f" stroke-width="1.95" stroke-linecap="square"/>
</g>
<line x1="367.8" y1="1509.5" x2="1117.06" y2="1509.5" stroke="#000" stroke-width="1.11"/>
<line x1="367.8" y1="1741.5" x2="1117.06" y2="1741.5" stroke="#000" stroke-width="1.11"/>
<line x1="1116.5" y1="1509.5" x2="1116.5" y2="1741.5" stroke="#000" stroke-width="1.11"/>
<line x1="362.94" y1="1510.5" x2="367.8" y2="1510.5" stroke="#000" stroke-width="1.11"/>
<line x1="362.94" y1="1563.5" x2="367.8" y2="1563.5" stroke="#000" stroke-width="1.11"/>
<line x1="362.94" y1="1615.5" x2="367.8" y2="1615.5" stroke="#000" stroke-width="1.11"/>
<line x1="362.94" y1="1668.5" x2="367.8" y2="1668.5" stroke="#000" stroke-width="1.11"/>
<line x1="362.94" y1="1721.5" x2="367.8" y2="1721.5" stroke="#000" stroke-width="1.11"/>
<line x1="386.5" y1="1741.5" x2="386.5" y2="1755.9" stroke="#000" stroke-width="1.11"/>
<text x="386.6" y="1773.2" font-size="12.1" text-anchor="middle" xml:space="preserve">'&lt;?'</text>
<line x1="424.5" y1="1741.5" x2="424.5" y2="1746.36" stroke="#000" stroke-width="1.11"/>
<text x="424.03" y="1759" font-size="12.1" text-anchor="middle" xml:space="preserve">'#'</text>
<line x1="461.5" y1="1741.5" x2="461.5" y2="1755.9" stroke="#000" stroke-width="1.11"/>
<text x="461.46" y="1773.2" font-size="12.1" text-anchor="middle" xml:space="preserve">'protected'</text>
<line x1="498.5" y1="1741.5" x2="498.5" y2="1746.36" stroke="#000" stroke-width="1.11"/>
<text x="498.89" y="1759" font-size="12.1" text-anchor="middle" xml:space="preserve">'static'</text>
<line x1="536.5" y1="1741.5" x2="536.5" y2="1755.9" stroke="#000" stroke-width="1.11"/>
<text x="536.32" y="1773.2" font-size="12.1" text-anchor="middle" xml:space="preserve">'class'</text>
<line x1="573.5" y1="1741.5" x2="573.5" y2="1746.36" stroke="#000" stroke-width="1.11"/>
<text x="573.75" y="1759" font-size="12.1" text-anchor="middle" xml:space="preserve">'(('</text>
<line x1="611.5" y1="1741.5" x2="611.5" y2="1755.9" stroke="#000" stroke-width="1.11"/>
<text x="611.18" y="1773.2" font-size="12.1" text-anchor="middle" xml:space="preserve">'byte'</text>
<line x1="648.5" y1="1741.5" x2="648.5" y2="1746.36" stroke="#000" stroke-width="1.11"/>
<text x="648.61" y="1759" font-size="12.1" text-anchor="middle" xml:space="preserve">' File'</text>
<line x1="686.5" y1="1741.5" x2="686.5" y2="1755.9" stroke="#000" stroke-width="1.11"/>
<text x="686.04" y="1773.2" font-size="12.1" text-anchor="middle" xml:space="preserve">'new'</text>
<line x1="723.5" y1="1741.5" x2="723.5" y2="1746.36" stroke="#000" stroke-width="1.11"/>
<text x="723.47" y="1759" font-size="12.1" text-anchor="middle" xml:space="preserve">'&lt;'</text>
<line x1="760.5" y1="1741.5" x2="760.5" y2="1755.9" stroke="#000" stroke-width="1.11"/>
<text x="760.9" y="1773.2" font-size="12.1" text-anchor="middle" xml:space="preserve">'public'</text>
<line x1="798.5" y1="1741.5" x2="798.5" y2="1746.36" stroke="#000" stroke-width="1.11"/>
<text x="798.33" y="1759" font-size="12.1" text-anchor="middle" xml:space="preserve">'private'</text>
<line x1="835.5" y1="1741.5" x2="835.5" y2="1755.9" stroke="#000" stroke-width="1.11"/>
<text x="835.76" y="1773.2" font-size="12.1" text-anchor="middle" xml:space="preserve">' new'</text>
<line x1="873.5" y1="1741.5" x2="873.5" y2="1746.36" stroke="#000" stroke-width="1.11"/>
<text x="873.19" y="1759" font-size="12.1" text-anchor="middle" xml:space="preserve">' static'</text>
<line x1="910.5" y1="1741.5" x2="910.5" y2="1755.9" stroke="#000" stroke-width="1.11"/>
<text x="910.62" y="1773.2" font-size="12.1" text-anchor="middle" xml:space="preserve">'link'</text>
<line x1="948.5" y1="1741.5" x2="948.5" y2="1746.36" stroke="#000" stroke-width="1.11"/>
<text x="948.05" y="1759" font-size="12.1" text-anchor="middle" xml:space="preserve">'('</text>
<line x1="985.5" y1="1741.5" x2="985.5" y2="1755.9" stroke="#000" stroke-width="1.11"/>
<text x="985.48" y="1773.2" font-size="12.1" text-anchor="middle" xml:space="preserve">' #'</text>
<line x1="1022.5" y1="1741.5" x2="1022.5" y2="1746.36" stroke="#000" stroke-width="1.11"/>
<text x="1022.91" y="1759" font-size="12.1" text-anchor="middle" xml:space="preserve">'super'</text>
<line x1="1060.5" y1="1741.5" x2="1060.5" y2="1755.9" stroke="#000" stroke-width="1.11"/>
<text x="1060.34" y="1773.2" font-size="12.1" text-anchor="middle" xml:space="preserve">' void'</text>
<line x1="1097.5" y1="1741.5" x2="1097.5" y2="1746.36" stroke="#000" stroke-width="1.11"/>
<text x="1097.77" y="1759" font-size="12.1" text-anchor="middle" xml:space="preserve">' (!'</text>
<g clip-path="url(#cl5)">
<g stroke="#3d3d3d" stroke-width="2.08"><rect x="1294.55" y="1621.6" width="26.4" height="39.4" fill="#845b53"/></g>
<path d="M1141.75 1652V1658M1141.75 1663V1670M1135.1 1652H1148.4M1135.1 1670H1148.4M1174.95 1652V1658M1174.95 1664V1674M1168.3 1652H1181.6M1168.3 1674H1181.6M1208.15 1643.6V1658M1208.15 1664.6V1680M1201.5 1643.6H1214.8M1201.5 1680H1214.8M1241.35 1522V1657M1241.35 1664V1695M1234.7 1522H1248M1234.7 1695H1248M1274.55 1644.6V1658M1274.55 1664V1678M1267.9 1644.6H1281.2M1267.9 1678H1281.2M1294.55 1643.6H1320.95M1307.75 1511V1621.6M1307.75 1661V1707M1301.1 1511H1314.4M1301.1 1707H1314.4M1340.95 1653V1659M1340.95 1664V1671M1334.3 1653H1347.6M1334.3 1671H1347.6M1374.15 1654V1659M1374.15 1664V1670M1367.5 1654H1380.8M1367.5 1670H1380.8M1407.35 1626V1658M1407.35 1664.6V1681M1400.7 1626H1414M1400.7 1681H1414" fill="none" stroke="#3d3d3d" stroke-width="2.08" stroke-linecap="square"/>
<rect x="1127.51" y="1658" width="28.48" height="5" fill="#3d3d3d"/><rect x="1160.71" y="1658" width="28.48" height="6" fill="#3d3d3d"/><rect x="1193.91" y="1658" width="28.48" height="6.6" fill="#3d3d3d"/><rect x="1196.59" y="1661.95" width="23.12" height="0.9" fill="#3a923a"/><rect x="1227.11" y="1657" width="28.48" height="7" fill="#3d3d3d"/><rect x="1229.79" y="1658.95" width="23.12" height="0.9" fill="#c03d3e"/><rect x="1260.31" y="1658" width="28.48" height="6" fill="#3d3d3d"/><rect x="1326.71" y="1659" width="28.48" height="5" fill="#3d3d3d"/><rect x="1359.91" y="1659" width="28.48" height="5" fill="#3d3d3d"/><rect x="1393.11" y="1658" width="28.48" height="6.6" fill="#3d3d3d"/><rect x="1395.79" y="1662.15" width="23.12" height="0.9" fill="#a9aa35"/>
<path d="M1141.75 1639.7l1.15 1.7l-1.15 1.7l-1.15 -1.7zM1141.75 1645.7l1.15 1.7l-1.15 1.7l-1.15 -1.7zM1141.75 1647.7l1.15 1.7l-1.15 1.7l-1.15 -1.7zM1141.75 1670.7l1.15 1.7l-1.15 1.7l-1.15 -1.7zM1141.75 1676.7l1.15 1.7l-1.15 1.7l-1.15 -1.7zM1141.75 1679.7l1.15 1.7l-1.15 1.7l-1.15 -1.7zM1141.75 1690.7l1.15 1.7l-1.15 1.7l-1.15 -1.7zM1174.95 1629.7l1.15 1.7l-1.15 1.7l-1.15 -1.7zM1174.95 1640.7l1.15 1.7l-1.15 1.7l-1.15 -1.7zM1174.95 1643.3l1.15 1.7l-1.15 1.7l-1.15 -1.7zM1174.95 1645.7l1.15 1.7l-1.15 1.7l-1.15 -1.7zM1174.95 1647.7l1.15 1.7l-1.15 1.7l-1.15 -1.7zM1174.95 1675.7l1.15 1.7l-1.15 1.7l-1.15 -1.7zM1174.95 1681.7l1.15 1.7l-1.15 1.7l-1.15 -1.7zM1174.95 1683.7l1.15 1.7l-1.15 1.7l-1.15 -1.7zM1174.95 1724.7l1.15 1.7l-1.15 1.7l-1.15 -1.7zM1208.15 1604.7l1.15 1.7l-1.15 1.7l-1.15 -1.7zM1208.15 1619.7l1.15 1.7l-1.15 1.7l-1.15 -1.7zM1208.15 1626.7l1.15 1.7l-1.15 1.7l-1.15 -1.7zM1208.15 1636.7l1.15 1.7l-1.15 1.7l-1.15 -1.7zM1208.15 1639.7l1.15 1.7l-1.15 1.7l-1.15 -1.7zM1208.15 1679.7l1.15 1.7l-1.15 1.7l-1.15 -1.7zM1208.15 1684.7l1.15 1.7l-1.15 1.7l-1.15 -1.7zM1208.15 1711.7l1.15 1.7l-1.15 1.7l-1.15 -1.7zM1208.15 1730.7l1.15 1.7l-1.15 1.7l-1.15 -1.7zM1241.35 1701.7l1.15 1.7l-1.15 1.7l-1.15 -1.7zM1241.35 1709.7l1.15 1.7l-1.15 1.7l-1.15 -1.7zM1241.35 1715.7l1.15 1.7l-1.15 1.7l-1.15 -1.7zM1274.55 1572.7l1.15 1.7l-1.15 1.7l-1.15 -1.7zM1274.55 1619.7l1.15 1.7l-1.15 1.7l-1.15 -1.7zM1274.55 1624.7l1.15 1.7l-1.15 1.7l-1.15 -1.7zM1274.55 1631.7l1.15 1.7l-1.15 1.7l-1.15 -1.7zM1274.55 1678.7l1.15 1.7l-1.15 1.7l-1.15 -1.7zM1274.55 1681.7l1.15 1.7l-1.15 1.7l-1.15 -1.7zM1274.55 1687.7l1.15 1.7l-1.15 1.7l-1.15 -1.7zM1274.55 1688.9l1.15 1.7l-1.15 1.7l-1.15 -1.7zM1307.75 1707.7l1.15 1.7l-1.15 1.7l-1.15 -1.7zM1307.75 1709.7l1.15 1.7l-1.15 1.7l-1.15 -1.7zM1307.75 1713.7l1.15 1.7l-1.15 1.7l-1.15 -1.7zM1307.75 1725.7l1.15 1.7l-1.15 1.7l-1.15 -1.7zM1307.75 1728.7l1.15 1.7l-1.15 1.7l-1.15 -1.7zM1307.75 1734.7l1.15 1.7l-1.15 1.7l-1.15 -1.7zM1340.95 1647.7l1.15 1.7l-1.15 1.7l-1.15 -1.7zM1340.95 1649.3l1.15 1.7l-1.15 1.7l-1.15 -1.7zM1340.95 1672.7l1.15 1.7l-1.15 1.7l-1.15 -1.7zM1340.95 1674.7l1.15 1.7l-1.15 1.7l-1.15 -1.7zM1374.15 1624.7l1.15 1.7l-1.15 1.7l-1.15 -1.7zM1374.15 1649.7l1.15 1.7l-1.15 1.7l-1.15 -1.7zM1374.15 1671.7l1.15 1.7l-1.15 1.7l-1.15 -1.7zM1374.15 1677.7l1.15 1.7l-1.15 1.7l-1.15 -1.7zM1374.15 1680.7l1.15 1.7l-1.15 1.7l-1.15 -1.7zM1374.15 1687.7l1.15 1.7l-1.15 1.7l-1.15 -1.7zM1407.35 1591.7l1.15 1.7l-1.15 1.7l-1.15 -1.7zM1407.35 1612.7l1.15 1.7l-1.15 1.7l-1.15 -1.7zM1407.35 1616.7l1.15 1.7l-1.15 1.7l-1.15 -1.7zM1407.35 1619.3l1.15 1.7l-1.15 1.7l-1.15 -1.7zM1407.35 1621.7l1.15 1.7l-1.15 1.7l-1.15 -1.7zM1407.35 1687.7l1.15 1.7l-1.15 1.7l-1.15 -1.7zM1407.35 1696.7l1.15 1.7l-1.15 1.7l-1.15 -1.7zM1407.35 1698.7l1.15 1.7l-1.15 1.7l-1.15 -1.7zM1407.35 1702.7l1.15 1.7l-1.15 1.7l-1.15 -1.7z" fill="#3d3d3d" stroke="#3d3d3d" stroke-width="0.5"/>
</g>
<rect x="1125.5" y="1509.5" width="299" height="232" fill="none" stroke="#000" stroke-width="1.11"/>
<line x1="1424.5" y1="1536.5" x2="1429.36" y2="1536.5" stroke="#000" stroke-width="1.11"/>
<text x="1434.26" y="1542" font-size="13.89" text-anchor="start">1.0</text>
<line x1="1424.5" y1="1567.5" x2="1429.36" y2="1567.5" stroke="#000" stroke-width="1.11"/>
<text x="1434.26" y="1573" font-size="13.89" text-anchor="start">0.8</text>
<line x1="1424.5" y1="1599.5" x2="1429.36" y2="1599.5" stroke="#000" stroke-width="1.11"/>
<text x="1434.26" y="1605" font-size="13.89" text-anchor="start">0.5</text>
<line x1="1424.5" y1="1630.5" x2="1429.36" y2="1630.5" stroke="#000" stroke-width="1.11"/>
<text x="1434.26" y="1636" font-size="13.89" text-anchor="start">0.2</text>
<line x1="1424.5" y1="1661.5" x2="1429.36" y2="1661.5" stroke="#000" stroke-width="1.11"/>
<text x="1434.26" y="1667" font-size="13.89" text-anchor="start">0.0</text>
<line x1="1424.5" y1="1692.5" x2="1429.36" y2="1692.5" stroke="#000" stroke-width="1.11"/>
<text x="1434.26" y="1698" font-size="13.89" text-anchor="start">-0.2</text>
<line x1="1424.5" y1="1723.5" x2="1429.36" y2="1723.5" stroke="#000" stroke-width="1.11"/>
<text x="1434.26" y="1729" font-size="13.89" text-anchor="start">-0.5</text>
<line x1="1141.5" y1="1741.5" x2="1141.5" y2="1755.9" stroke="#000" stroke-width="1.11"/>
<text x="1141.75" y="1773.2" font-size="12.1" text-anchor="middle">C</text>
<line x1="1174.5" y1="1741.5" x2="1174.5" y2="1746.36" stroke="#000" stroke-width="1.11"/>
<text x="1174.95" y="1759" font-size="12.1" text-anchor="middle">C++</text>
<line x1="1208.5" y1="1741.5" x2="1208.5" y2="1755.9" stroke="#000" stroke-width="1.11"/>
<text x="1208.15" y="1773.2" font-size="12.1" text-anchor="middle">Go</text>
<line x1="1241.5" y1="1741.5" x2="1241.5" y2="1746.36" stroke="#000" stroke-width="1.11"/>
<text x="1241.35" y="1759" font-size="12.1" text-anchor="middle">HTML</text>
<line x1="1274.5" y1="1741.5" x2="1274.5" y2="1755.9" stroke="#000" stroke-width="1.11"/>
<text x="1274.55" y="1773.2" font-size="12.1" text-anchor="middle">JS</text>
<line x1="1307.5" y1="1741.5" x2="1307.5" y2="1746.36" stroke="#000" stroke-width="1.11"/>
<text x="1307.75" y="1759" font-size="12.1" text-anchor="middle">Java</text>
<line x1="1340.5" y1="1741.5" x2="1340.5" y2="1755.9" stroke="#000" stroke-width="1.11"/>
<text x="1340.95" y="1773.2" font-size="12.1" text-anchor="middle">PHP</text>
<line x1="1374.5" y1="1741.5" x2="1374.5" y2="1746.36" stroke="#000" stroke-width="1.11"/>
<text x="1374.15" y="1759" font-size="12.1" text-anchor="middle">Python</text>
<line x1="1407.5" y1="1741.5" x2="1407.5" y2="1755.9" stroke="#000" stroke-width="1.11"/>
<text x="1407.35" y="1773.2" font-size="12.1" text-anchor="middle">XML</text>
<text x="1475.7" y="1625.8" font-size="13.89" text-anchor="middle" transform="rotate(-90 1475.7 1625.8)">sequence loss increase (%)</text>
</g>
<g id="row6">
<g clip-path="url(#ch6)">
<path d="M60.5 1803.5 L64 1803.5 L64 1807 L66 1807 L66 1814 L71 1814 L71 1821 L78 1821 L78 1827.4 L95 1827.4 L95 1834.4 L102 1834.4 L102 1841 L111 1841 L111 1848 L124 1848 L124 1855 L136 1855 L136 1861.4 L150 1861.4 L150 1868 L164 1868 L164 1875 L178 1875 L178 1882 L191 1882 L191 1889 L199 1889 L199 1895.4 L235 1895.4 L235 1902 L207 1902 L207 1909 L201 1909 L201 1916 L189 1916 L189 1922.6 L173 1922.6 L173 1929 L153 1929 L153 1936 L135 1936 L135 1943 L120 1943 L120 1950 L101 1950 L101 1956.6 L91 1956.6 L91 1963 L86 1963 L86 1970 L74 1970 L74 1977 L69 1977 L69 1984 L66 1984 L66 1990.6 L63 1990.6 L63 1997 L61 1997 L61 2004 L60.5 2004 L60.5 2011 L60.5 2011 L60.5 2018 L60.5 2018 L60.5 2024.4 L60.5 2024.4 L60.5 2031 L60.5 2031 L60.5 2039.5 L60.5 2039.5Z" fill="#1f77b4" fill-opacity="0.5"/>
<path d="M60.5 1803.5 L60.5 1803.5 L60.5 1807 L60.5 1807 L60.5 1814 L60.5 1814 L60.5 1821 L60.5 1821 L60.5 1827.4 L60.5 1827.4 L60.5 1834.4 L60.5 1834.4 L60.5 1841 L60.5 1841 L60.5 1848 L60.5 1848 L60.5 1855 L60.5 1855 L60.5 1861.4 L61 1861.4 L61 1868 L61 1868 L61 1875 L62 1875 L62 1882 L63 1882 L63 1889 L65 1889 L65 1895.4 L68 1895.4 L68 1902 L71 1902 L71 1909 L77 1909 L77 1916 L92 1916 L92 1922.6 L123 1922.6 L123 1929 L179 1929 L179 1936 L253 1936 L253 1943 L323 1943 L323 1950 L345 1950 L345 1956.6 L325 1956.6 L325 1963 L313 1963 L313 1970 L212 1970 L212 1977 L165 1977 L165 1984 L130 1984 L130 1990.6 L104 1990.6 L104 1997 L87 1997 L87 2004 L76 2004 L76 2011 L69 2011 L69 2018 L65 2018 L65 2024.4 L62 2024.4 L62 2031 L60.8 2031 L60.8 2039.5 L60.5 2039.5Z" fill="#ff7f0e" fill-opacity="0.5"/>
<line x1="60.5" y1="1821.5" x2="360.2" y2="1821.5" stroke="#b0b0b0" stroke-width="1.11" stroke-dasharray="4.1 1.78" opacity="0.55"/>
<line x1="60.5" y1="1856.5" x2="360.2" y2="1856.5" stroke="#b0b0b0" stroke-width="1.11" stroke-dasharray="4.1 1.78" opacity="0.55"/>
<line x1="60.5" y1="1891.5" x2="360.2" y2="1891.5" stroke="#b0b0b0" stroke-width="1.11" stroke-dasharray="4.1 1.78" opacity="0.55"/>
<line x1="60.5" y1="1926.5" x2="360.2" y2="1926.5" stroke="#b0b0b0" stroke-width="1.11" stroke-dasharray="4.1 1.78" opacity="0.55"/>
<line x1="60.5" y1="1961.5" x2="360.2" y2="1961.5" stroke="#b0b0b0" stroke-width="1.11" stroke-dasharray="4.1 1.78" opacity="0.55"/>
<line x1="60.5" y1="1996.5" x2="360.2" y2="1996.5" stroke="#b0b0b0" stroke-width="1.11" stroke-dasharray="4.1 1.78" opacity="0.55"/>
<line x1="60.5" y1="2031.5" x2="360.2" y2="2031.5" stroke="#b0b0b0" stroke-width="1.11" stroke-dasharray="4.1 1.78" opacity="0.55"/>
</g>
<line x1="60.5" y1="1805.5" x2="60.5" y2="2037.5" stroke="#000" stroke-width="1.11"/>
<line x1="59.95" y1="1805.5" x2="360.2" y2="1805.5" stroke="#000" stroke-width="1.11"/>
<line x1="59.95" y1="2037.5" x2="360.2" y2="2037.5" stroke="#000" stroke-width="1.11"/>
<line x1="55.64" y1="1821.5" x2="60.5" y2="1821.5" stroke="#000" stroke-width="1.11"/>
<text x="50.74" y="1826.55" font-size="13.89" text-anchor="end">6</text>
<line x1="55.64" y1="1856.5" x2="60.5" y2="1856.5" stroke="#000" stroke-width="1.11"/>
<text x="50.74" y="1861.55" font-size="13.89" text-anchor="end">4</text>
<line x1="55.64" y1="1891.5" x2="60.5" y2="1891.5" stroke="#000" stroke-width="1.11"/>
<text x="50.74" y="1896.55" font-size="13.89" text-anchor="end">2</text>
<line x1="55.64" y1="1926.5" x2="60.5" y2="1926.5" stroke="#000" stroke-width="1.11"/>
<text x="50.74" y="1931.55" font-size="13.89" text-anchor="end">0</text>
<line x1="55.64" y1="1961.5" x2="60.5" y2="1961.5" stroke="#000" stroke-width="1.11"/>
<text x="50.74" y="1966.55" font-size="13.89" text-anchor="end">−2</text>
<line x1="55.64" y1="1996.5" x2="60.5" y2="1996.5" stroke="#000" stroke-width="1.11"/>
<text x="50.74" y="2001.55" font-size="13.89" text-anchor="end">−4</text>
<line x1="55.64" y1="2031.5" x2="60.5" y2="2031.5" stroke="#000" stroke-width="1.11"/>
<text x="50.74" y="2036.55" font-size="13.89" text-anchor="end">−6</text>
<line x1="60.5" y1="2037.5" x2="60.5" y2="2042.36" stroke="#000" stroke-width="1.11"/>
<text x="60.5" y="2056.8" font-size="13.89" text-anchor="middle">0.00</text>
<line x1="109.5" y1="2037.5" x2="109.5" y2="2042.36" stroke="#000" stroke-width="1.11"/>
<text x="109.5" y="2056.8" font-size="13.89" text-anchor="middle">0.03</text>
<line x1="158.5" y1="2037.5" x2="158.5" y2="2042.36" stroke="#000" stroke-width="1.11"/>
<text x="158.5" y="2056.8" font-size="13.89" text-anchor="middle">0.05</text>
<line x1="207.5" y1="2037.5" x2="207.5" y2="2042.36" stroke="#000" stroke-width="1.11"/>
<text x="207.5" y="2056.8" font-size="13.89" text-anchor="middle">0.08</text>
<line x1="256.5" y1="2037.5" x2="256.5" y2="2042.36" stroke="#000" stroke-width="1.11"/>
<text x="256.5" y="2056.8" font-size="13.89" text-anchor="middle">0.10</text>
<line x1="305.5" y1="2037.5" x2="305.5" y2="2042.36" stroke="#000" stroke-width="1.11"/>
<text x="305.5" y="2056.8" font-size="13.89" text-anchor="middle">0.12</text>
<line x1="354.5" y1="2037.5" x2="354.5" y2="2042.36" stroke="#000" stroke-width="1.11"/>
<text x="354.5" y="2056.8" font-size="13.89" text-anchor="middle">0.15</text>
<text x="209.15" y="2076.7" font-size="13.89" text-anchor="middle">empirical distribution</text>
<text x="20.1" y="1922.5" font-size="13.89" text-anchor="middle" transform="rotate(-90 20.1 1922.5)">1B.L10.N3887 pre-activation</text>
<rect x="272.4" y="1812.7" width="80.2" height="67" rx="2.8" fill="#fff" fill-opacity="0.8" stroke="#ccc" stroke-opacity="0.8" stroke-width="1.11"/>
<text x="311.6" y="1828" font-size="13.89" text-anchor="middle">token</text>
<rect x="278" y="1840.4" width="28" height="9.7" fill="#1f77b4" fill-opacity="0.5"/>
<rect x="278" y="1861.1" width="28" height="9.7" fill="#ff7f0e" fill-opacity="0.5"/>
<text x="317.5" y="1849.1" font-size="13.89" text-anchor="start">Java</text>
<text x="317.9" y="1870.4" font-size="13.89" text-anchor="start">not</text>
<g clip-path="url(#cm6)">
<g stroke="#3f3f3f" stroke-width="1.95" stroke-linejoin="miter"><rect x="380.7" y="1825.6" width="11.8" height="25.4" fill="#3274a1"/><rect x="418.13" y="1822.6" width="11.8" height="28.4" fill="#3274a1"/><rect x="455.56" y="1826.6" width="11.8" height="19.4" fill="#3274a1"/><rect x="492.99" y="1829.6" width="11.8" height="21.4" fill="#3274a1"/><rect x="530.42" y="1829.6" width="11.8" height="25.4" fill="#3274a1"/><rect x="567.85" y="1824.6" width="11.8" height="46.4" fill="#3274a1"/><rect x="605.28" y="1836.6" width="11.8" height="17.4" fill="#3274a1"/><rect x="642.71" y="1832.6" width="11.8" height="26.4" fill="#3274a1"/><rect x="680.14" y="1834.6" width="11.8" height="28.4" fill="#3274a1"/><rect x="717.57" y="1838.6" width="11.8" height="23.4" fill="#3274a1"/><rect x="755" y="1830.6" width="11.8" height="44.4" fill="#3274a1"/><rect x="792.43" y="1832.6" width="11.8" height="44.4" fill="#3274a1"/><rect x="829.86" y="1838.6" width="11.8" height="36.4" fill="#3274a1"/><rect x="867.29" y="1841.6" width="11.8" height="32.4" fill="#3274a1"/><rect x="904.72" y="1845.6" width="11.8" height="21.4" fill="#3274a1"/><rect x="942.15" y="1844.6" width="11.8" height="40.4" fill="#3274a1"/><rect x="979.58" y="1824.6" width="11.8" height="65.4" fill="#3274a1"/><rect x="1017.01" y="1844.6" width="11.8" height="44.4" fill="#3274a1"/><rect x="1054.44" y="1872.6" width="11.8" height="28.4" fill="#3274a1"/><rect x="1091.87" y="1882.6" width="11.8" height="26.4" fill="#3274a1"/><rect x="380.7" y="1956.6" width="11.8" height="30.4" fill="#e1812c"/><rect x="418.13" y="1948.6" width="11.8" height="37.4" fill="#e1812c"/><rect x="455.56" y="1944.6" width="11.8" height="26.4" fill="#e1812c"/><rect x="492.99" y="1952.6" width="11.8" height="26.4" fill="#e1812c"/><rect x="530.42" y="1961.6" width="11.8" height="28.4" fill="#e1812c"/><rect x="567.85" y="1944.6" width="11.8" height="30.4" fill="#e1812c"/><rect x="605.28" y="1969.6" width="11.8" height="29.4" fill="#e1812c"/><rect x="642.71" y="1938.6" width="11.8" height="44.4" fill="#e1812c"/><rect x="680.14" y="1949.6" width="11.8" height="24.4" fill="#e1812c"/><rect x="717.57" y="1943.6" width="11.8" height="19.4" fill="#e1812c"/><rect x="755" y="1945.6" width="11.8" height="25.4" fill="#e1812c"/><rect x="792.43" y="1941.6" width="11.8" height="20.4" fill="#e1812c"/><rect x="829.86" y="1956.6" width="11.8" height="30.4" fill="#e1812c"/><rect x="867.29" y="1952.6" width="11.8" height="28.4" fill="#e1812c"/><rect x="904.72" y="1948.6" width="11.8" height="33.4" fill="#e1812c"/><rect x="942.15" y="1949.6" width="11.8" height="29.4" fill="#e1812c"/><rect x="979.58" y="1944.6" width="11.8" height="26.4" fill="#e1812c"/><rect x="1017.01" y="1950.6" width="11.8" height="31.4" fill="#e1812c"/><rect x="1054.44" y="1976.6" width="11.8" height="32.4" fill="#e1812c"/><rect x="1091.87" y="1982.6" width="11.8" height="32.4" fill="#e1812c"/></g>
<line x1="367.8" y1="1821.5" x2="1116.5" y2="1821.5" stroke="#b0b0b0" stroke-width="1.11" stroke-dasharray="4.1 1.78" opacity="0.55"/>
<line x1="367.8" y1="1856.5" x2="1116.5" y2="1856.5" stroke="#b0b0b0" stroke-width="1.11" stroke-dasharray="4.1 1.78" opacity="0.55"/>
<line x1="367.8" y1="1891.5" x2="1116.5" y2="1891.5" stroke="#b0b0b0" stroke-width="1.11" stroke-dasharray="4.1 1.78" opacity="0.55"/>
<line x1="367.8" y1="1926.5" x2="1116.5" y2="1926.5" stroke="#b0b0b0" stroke-width="1.11" stroke-dasharray="4.1 1.78" opacity="0.55"/>
<line x1="367.8" y1="1961.5" x2="1116.5" y2="1961.5" stroke="#b0b0b0" stroke-width="1.11" stroke-dasharray="4.1 1.78" opacity="0.55"/>
<line x1="367.8" y1="1996.5" x2="1116.5" y2="1996.5" stroke="#b0b0b0" stroke-width="1.11" stroke-dasharray="4.1 1.78" opacity="0.55"/>
<line x1="367.8" y1="2031.5" x2="1116.5" y2="2031.5" stroke="#b0b0b0" stroke-width="1.11" stroke-dasharray="4.1 1.78" opacity="0.55"/>
<path d="M380.7 1835H392.5M386.6 1813V1825.6M386.6 1851V1878M383.7 1813H389.5M383.7 1878H389.5M418.13 1835H429.93M424.03 1807V1822.6M424.03 1851V1871M421.13 1807H426.93M421.13 1871H426.93M455.56 1837.6H467.36M461.46 1817V1826.6M461.46 1846V1871M458.56 1817H464.36M458.56 1871H464.36M492.99 1838.6H504.79M498.89 1815V1829.6M498.89 1851V1875M495.99 1815H501.79M495.99 1875H501.79M530.42 1842H542.22M536.32 1815V1829.6M536.32 1855V1877M533.42 1815H539.22M533.42 1877H539.22M567.85 1843H579.65M573.75 1785.5V1824.6M573.75 1871V1911M570.85 1785.5H576.65M570.85 1911H576.65M605.28 1845H617.08M611.18 1821V1836.6M611.18 1854V1870M608.28 1821H614.08M608.28 1870H614.08M642.71 1845H654.51M648.61 1823V1832.6M648.61 1859V1881M645.71 1823H651.51M645.71 1881H651.51M680.14 1847H691.94M686.04 1817V1834.6M686.04 1863V1917M683.14 1817H688.94M683.14 1917H688.94M717.57 1848.6H729.37M723.47 1827V1838.6M723.47 1862V1903M720.57 1827H726.37M720.57 1903H726.37M755 1849.6H766.8M760.9 1811V1830.6M760.9 1875V1911M758 1811H763.8M758 1911H763.8M792.43 1850H804.23M798.33 1818V1832.6M798.33 1877V1906M795.43 1818H801.23M795.43 1906H801.23M829.86 1853H841.66M835.76 1823V1838.6M835.76 1875V1914M832.86 1823H838.66M832.86 1914H838.66M867.29 1854.6H879.09M873.19 1826V1841.6M873.19 1874V1919M870.29 1826H876.09M870.29 1919H876.09M904.72 1854.6H916.52M910.62 1835V1845.6M910.62 1867V1894M907.72 1835H913.52M907.72 1894H913.52M942.15 1860.6H953.95M948.05 1823V1844.6M948.05 1885V1922M945.15 1823H950.95M945.15 1922H950.95M979.58 1863H991.38M985.48 1785.5V1824.6M985.48 1890V1931.2M982.58 1785.5H988.38M982.58 1931.2H988.38M1017.01 1865.6H1028.81M1022.91 1817V1844.6M1022.91 1889V1926M1020.01 1817H1025.81M1020.01 1926H1025.81M1054.44 1887H1066.24M1060.34 1851V1872.6M1060.34 1901V1917M1057.44 1851H1063.24M1057.44 1917H1063.24M1091.87 1897.6H1103.67M1097.77 1858V1882.6M1097.77 1909V1919M1094.87 1858H1100.67M1094.87 1919H1100.67M380.7 1974H392.5M386.6 1927V1956.6M386.6 1987V2011M383.7 1927H389.5M383.7 2011H389.5M418.13 1965H429.93M424.03 1854V1948.6M424.03 1986V2010M421.13 1854H426.93M421.13 2010H426.93M455.56 1960.6H467.36M461.46 1926V1944.6M461.46 1971V1991M458.56 1926H464.36M458.56 1991H464.36M492.99 1966.6H504.79M498.89 1914V1952.6M498.89 1979V1998M495.99 1914H501.79M495.99 1998H501.79M530.42 1977H542.22M536.32 1869V1961.6M536.32 1990V2007M533.42 1869H539.22M533.42 2007H539.22M567.85 1957H579.65M573.75 1927V1944.6M573.75 1975V2002M570.85 1927H576.65M570.85 2002H576.65M605.28 1983H617.08M611.18 1918V1969.6M611.18 1999V2021M608.28 1918H614.08M608.28 2021H614.08M642.71 1971H654.51M648.61 1839V1938.6M648.61 1983V1999M645.71 1839H651.51M645.71 1999H651.51M680.14 1961.6H691.94M686.04 1930V1949.6M686.04 1974V1994M683.14 1930H688.94M683.14 1994H688.94M717.57 1957H729.37M723.47 1930V1943.6M723.47 1963V1983M720.57 1930H726.37M720.57 1983H726.37M755 1958H766.8M760.9 1930V1945.6M760.9 1971V1994M758 1930H763.8M758 1994H763.8M792.43 1953H804.23M798.33 1931V1941.6M798.33 1962V1977M795.43 1931H801.23M795.43 1977H801.23M829.86 1971H841.66M835.76 1935V1956.6M835.76 1987V2005M832.86 1935H838.66M832.86 2005H838.66M867.29 1965.6H879.09M873.19 1927V1952.6M873.19 1981V2006M870.29 1927H876.09M870.29 2006H876.09M904.72 1966.6H916.52M910.62 1922V1948.6M910.62 1982V1999M907.72 1922H913.52M907.72 1999H913.52M942.15 1964.6H953.95M948.05 1930V1949.6M948.05 1979V2006M945.15 1930H950.95M945.15 2006H950.95M979.58 1956.6H991.38M985.48 1932.8V1944.6M985.48 1971V1995M982.58 1932.8H988.38M982.58 1995H988.38M1017.01 1965.6H1028.81M1022.91 1933V1950.6M1022.91 1982V2006M1020.01 1933H1025.81M1020.01 2006H1025.81M1054.44 1997H1066.24M1060.34 1949V1976.6M1060.34 2009V2033M1057.44 1949H1063.24M1057.44 2033H1063.24M1091.87 2000.6H1103.67M1097.77 1947V1982.6M1097.77 2015V2031M1094.87 1947H1100.67M1094.87 2031H1100.67" fill="none" stroke="#3f3f3f" stroke-width="1.95" stroke-linecap="square"/>
</g>
<line x1="367.8" y1="1805.5" x2="1117.06" y2="1805.5" stroke="#000" stroke-width="1.11"/>
<line x1="367.8" y1="2037.5" x2="1117.06" y2="2037.5" stroke="#000" stroke-width="1.11"/>
<line x1="1116.5" y1="1805.5" x2="1116.5" y2="2037.5" stroke="#000" stroke-width="1.11"/>
<line x1="362.94" y1="1821.5" x2="367.8" y2="1821.5" stroke="#000" stroke-width="1.11"/>
<line x1="362.94" y1="1856.5" x2="367.8" y2="1856.5" stroke="#000" stroke-width="1.11"/>
<line x1="362.94" y1="1891.5" x2="367.8" y2="1891.5" stroke="#000" stroke-width="1.11"/>
<line x1="362.94" y1="1926.5" x2="367.8" y2="1926.5" stroke="#000" stroke-width="1.11"/>
<line x1="362.94" y1="1961.5" x2="367.8" y2="1961.5" stroke="#000" stroke-width="1.11"/>
<line x1="362.94" y1="1996.5" x2="367.8" y2="1996.5" stroke="#000" stroke-width="1.11"/>
<line x1="362.94" y1="2031.5" x2="367.8" y2="2031.5" stroke="#000" stroke-width="1.11"/>
<line x1="386.5" y1="2037.5" x2="386.5" y2="2051.9" stroke="#000" stroke-width="1.11"/>
<text x="386.6" y="2068.2" font-size="12.1" text-anchor="middle" xml:space="preserve">'static'</text>
<line x1="424.5" y1="2037.5" x2="424.5" y2="2042.36" stroke="#000" stroke-width="1.11"/>
<text x="424.03" y="2054" font-size="12.1" text-anchor="middle" xml:space="preserve">' static'</text>
<line x1="461.5" y1="2037.5" x2="461.5" y2="2051.9" stroke="#000" stroke-width="1.11"/>
<text x="461.46" y="2068.2" font-size="12.1" text-anchor="middle" xml:space="preserve">'&lt;?'</text>
<line x1="498.5" y1="2037.5" x2="498.5" y2="2042.36" stroke="#000" stroke-width="1.11"/>
<text x="498.89" y="2054" font-size="12.1" text-anchor="middle" xml:space="preserve">'private'</text>
<line x1="536.5" y1="2037.5" x2="536.5" y2="2051.9" stroke="#000" stroke-width="1.11"/>
<text x="536.32" y="2068.2" font-size="12.1" text-anchor="middle" xml:space="preserve">'public'</text>
<line x1="573.5" y1="2037.5" x2="573.5" y2="2042.36" stroke="#000" stroke-width="1.11"/>
<text x="573.75" y="2054" font-size="12.1" text-anchor="middle" xml:space="preserve">'().'</text>
<line x1="611.5" y1="2037.5" x2="611.5" y2="2051.9" stroke="#000" stroke-width="1.11"/>
<text x="611.18" y="2068.2" font-size="12.1" text-anchor="middle" xml:space="preserve">'protected'</text>
<line x1="648.5" y1="2037.5" x2="648.5" y2="2042.36" stroke="#000" stroke-width="1.11"/>
<text x="648.61" y="2054" font-size="12.1" text-anchor="middle" xml:space="preserve">'throws'</text>
<line x1="686.5" y1="2037.5" x2="686.5" y2="2051.9" stroke="#000" stroke-width="1.11"/>
<text x="686.04" y="2068.2" font-size="12.1" text-anchor="middle" xml:space="preserve">'link'</text>
<line x1="723.5" y1="2037.5" x2="723.5" y2="2042.36" stroke="#000" stroke-width="1.11"/>
<text x="723.47" y="2054" font-size="12.1" text-anchor="middle" xml:space="preserve">' catch'</text>
<line x1="760.5" y1="2037.5" x2="760.5" y2="2051.9" stroke="#000" stroke-width="1.11"/>
<text x="760.9" y="2068.2" font-size="12.1" text-anchor="middle" xml:space="preserve">'()'</text>
<line x1="798.5" y1="2037.5" x2="798.5" y2="2042.36" stroke="#000" stroke-width="1.11"/>
<text x="798.33" y="2054" font-size="12.1" text-anchor="middle" xml:space="preserve">'put'</text>
<line x1="835.5" y1="2037.5" x2="835.5" y2="2051.9" stroke="#000" stroke-width="1.11"/>
<text x="835.76" y="2068.2" font-size="12.1" text-anchor="middle" xml:space="preserve">'!='</text>
<line x1="873.5" y1="2037.5" x2="873.5" y2="2042.36" stroke="#000" stroke-width="1.11"/>
<text x="873.19" y="2054" font-size="12.1" text-anchor="middle" xml:space="preserve">' @'</text>
<line x1="910.5" y1="2037.5" x2="910.5" y2="2051.9" stroke="#000" stroke-width="1.11"/>
<text x="910.62" y="2068.2" font-size="12.1" text-anchor="middle" xml:space="preserve">'throw'</text>
<line x1="948.5" y1="2037.5" x2="948.5" y2="2042.36" stroke="#000" stroke-width="1.11"/>
<text x="948.05" y="2054" font-size="12.1" text-anchor="middle" xml:space="preserve">'▯'</text>
<line x1="985.5" y1="2037.5" x2="985.5" y2="2051.9" stroke="#000" stroke-width="1.11"/>
<text x="985.48" y="2068.2" font-size="12.1" text-anchor="middle" xml:space="preserve">')'</text>
<line x1="1022.5" y1="2037.5" x2="1022.5" y2="2042.36" stroke="#000" stroke-width="1.11"/>
<text x="1022.91" y="2054" font-size="12.1" text-anchor="middle" xml:space="preserve">' new'</text>
<line x1="1060.5" y1="2037.5" x2="1060.5" y2="2051.9" stroke="#000" stroke-width="1.11"/>
<text x="1060.34" y="2068.2" font-size="12.1" text-anchor="middle" xml:space="preserve">' extends'</text>
<line x1="1097.5" y1="2037.5" x2="1097.5" y2="2042.36" stroke="#000" stroke-width="1.11"/>
<text x="1097.77" y="2054" font-size="12.1" text-anchor="middle" xml:space="preserve">'Bundle'</text>
<g clip-path="url(#cl6)">
<g stroke="#3d3d3d" stroke-width="2.08"><rect x="1294.55" y="1918.6" width="26.4" height="38.8" fill="#845b53"/></g>
<path d="M1141.75 1960.6V1963M1141.75 1965.6V1969M1135.1 1960.6H1148.4M1135.1 1969H1148.4M1174.95 1960.6V1963M1174.95 1965.6V1977M1168.3 1960.6H1181.6M1168.3 1977H1181.6M1208.15 1958V1962.4M1208.15 1966V1973M1201.5 1958H1214.8M1201.5 1973H1214.8M1241.35 1833V1961M1241.35 1966.4V1985M1234.7 1833H1248M1234.7 1985H1248M1274.55 1958V1963M1274.55 1965.6V1974M1267.9 1958H1281.2M1267.9 1974H1281.2M1294.55 1938.6H1320.95M1307.75 1840V1918.6M1307.75 1957.4V1996M1301.1 1840H1314.4M1301.1 1996H1314.4M1340.95 1958V1963M1340.95 1965.6V1973M1334.3 1958H1347.6M1334.3 1973H1347.6M1374.15 1961V1963M1374.15 1965.6V1969M1367.5 1961H1380.8M1367.5 1969H1380.8M1407.35 1820V1960.6M1407.35 1966.4V1997M1400.7 1820H1414M1400.7 1997H1414" fill="none" stroke="#3d3d3d" stroke-width="2.08" stroke-linecap="square"/>
<rect x="1127.51" y="1963" width="28.48" height="2.6" fill="#3d3d3d"/><rect x="1160.71" y="1963" width="28.48" height="2.6" fill="#3d3d3d"/><rect x="1193.91" y="1962.4" width="28.48" height="3.6" fill="#3d3d3d"/><rect x="1227.11" y="1961" width="28.48" height="5.4" fill="#3d3d3d"/><rect x="1260.31" y="1963" width="28.48" height="2.6" fill="#3d3d3d"/><rect x="1326.71" y="1963" width="28.48" height="2.6" fill="#3d3d3d"/><rect x="1359.91" y="1963" width="28.48" height="2.6" fill="#3d3d3d"/><rect x="1393.11" y="1960.6" width="28.48" height="5.8" fill="#3d3d3d"/><rect x="1395.79" y="1961.95" width="23.12" height="0.9" fill="#a9aa35"/>
<path d="M1141.75 1954.7l1.15 1.7l-1.15 1.7l-1.15 -1.7zM1141.75 1956.7l1.15 1.7l-1.15 1.7l-1.15 -1.7zM1141.75 1969.3l1.15 1.7l-1.15 1.7l-1.15 -1.7zM1141.75 1971.3l1.15 1.7l-1.15 1.7l-1.15 -1.7zM1141.75 1973.3l1.15 1.7l-1.15 1.7l-1.15 -1.7zM1141.75 1982.7l1.15 1.7l-1.15 1.7l-1.15 -1.7zM1141.75 1986.7l1.15 1.7l-1.15 1.7l-1.15 -1.7zM1141.75 1996.7l1.15 1.7l-1.15 1.7l-1.15 -1.7zM1174.95 1952.7l1.15 1.7l-1.15 1.7l-1.15 -1.7zM1174.95 1957.7l1.15 1.7l-1.15 1.7l-1.15 -1.7zM1174.95 1978.3l1.15 1.7l-1.15 1.7l-1.15 -1.7zM1174.95 1980.3l1.15 1.7l-1.15 1.7l-1.15 -1.7zM1174.95 1982.7l1.15 1.7l-1.15 1.7l-1.15 -1.7zM1174.95 1993.7l1.15 1.7l-1.15 1.7l-1.15 -1.7zM1174.95 1996.7l1.15 1.7l-1.15 1.7l-1.15 -1.7zM1174.95 2008.7l1.15 1.7l-1.15 1.7l-1.15 -1.7zM1174.95 2014.7l1.15 1.7l-1.15 1.7l-1.15 -1.7zM1208.15 1911.7l1.15 1.7l-1.15 1.7l-1.15 -1.7zM1208.15 1947.7l1.15 1.7l-1.15 1.7l-1.15 -1.7zM1208.15 1954.7l1.15 1.7l-1.15 1.7l-1.15 -1.7zM1208.15 1973.7l1.15 1.7l-1.15 1.7l-1.15 -1.7zM1208.15 1976.3l1.15 1.7l-1.15 1.7l-1.15 -1.7zM1208.15 1980.7l1.15 1.7l-1.15 1.7l-1.15 -1.7zM1208.15 1999.7l1.15 1.7l-1.15 1.7l-1.15 -1.7zM1208.15 2018.7l1.15 1.7l-1.15 1.7l-1.15 -1.7zM1241.35 1985.7l1.15 1.7l-1.15 1.7l-1.15 -1.7zM1241.35 1988.7l1.15 1.7l-1.15 1.7l-1.15 -1.7zM1241.35 2029.7l1.15 1.7l-1.15 1.7l-1.15 -1.7zM1274.55 1822.7l1.15 1.7l-1.15 1.7l-1.15 -1.7zM1274.55 1920.7l1.15 1.7l-1.15 1.7l-1.15 -1.7zM1274.55 1974.3l1.15 1.7l-1.15 1.7l-1.15 -1.7zM1274.55 1977.7l1.15 1.7l-1.15 1.7l-1.15 -1.7zM1274.55 1985.7l1.15 1.7l-1.15 1.7l-1.15 -1.7zM1307.75 1812.7l1.15 1.7l-1.15 1.7l-1.15 -1.7zM1307.75 1821.7l1.15 1.7l-1.15 1.7l-1.15 -1.7zM1307.75 1828.7l1.15 1.7l-1.15 1.7l-1.15 -1.7zM1307.75 1830.7l1.15 1.7l-1.15 1.7l-1.15 -1.7zM1307.75 1996.7l1.15 1.7l-1.15 1.7l-1.15 -1.7zM1307.75 1999.3l1.15 1.7l-1.15 1.7l-1.15 -1.7zM1307.75 2003.7l1.15 1.7l-1.15 1.7l-1.15 -1.7zM1307.75 2008.7l1.15 1.7l-1.15 1.7l-1.15 -1.7zM1307.75 2009.7l1.15 1.7l-1.15 1.7l-1.15 -1.7zM1307.75 2015.7l1.15 1.7l-1.15 1.7l-1.15 -1.7zM1340.95 1941.7l1.15 1.7l-1.15 1.7l-1.15 -1.7zM1340.95 1952.7l1.15 1.7l-1.15 1.7l-1.15 -1.7zM1340.95 1954.7l1.15 1.7l-1.15 1.7l-1.15 -1.7zM1340.95 1973.7l1.15 1.7l-1.15 1.7l-1.15 -1.7zM1340.95 1988.7l1.15 1.7l-1.15 1.7l-1.15 -1.7zM1340.95 2005.7l1.15 1.7l-1.15 1.7l-1.15 -1.7zM1374.15 1939.7l1.15 1.7l-1.15 1.7l-1.15 -1.7zM1374.15 1951.7l1.15 1.7l-1.15 1.7l-1.15 -1.7zM1374.15 1955.7l1.15 1.7l-1.15 1.7l-1.15 -1.7zM1374.15 1957.3l1.15 1.7l-1.15 1.7l-1.15 -1.7zM1374.15 1969.3l1.15 1.7l-1.15 1.7l-1.15 -1.7zM1374.15 1971.3l1.15 1.7l-1.15 1.7l-1.15 -1.7zM1374.15 1973.3l1.15 1.7l-1.15 1.7l-1.15 -1.7zM1374.15 1989.7l1.15 1.7l-1.15 1.7l-1.15 -1.7zM1407.35 1808.7l1.15 1.7l-1.15 1.7l-1.15 -1.7zM1407.35 1815.7l1.15 1.7l-1.15 1.7l-1.15 -1.7zM1407.35 1997.7l1.15 1.7l-1.15 1.7l-1.15 -1.7zM1407.35 2004.7l1.15 1.7l-1.15 1.7l-1.15 -1.7zM1407.35 2011.7l1.15 1.7l-1.15 1.7l-1.15 -1.7zM1407.35 2014.7l1.15 1.7l-1.15 1.7l-1.15 -1.7z" fill="#3d3d3d" stroke="#3d3d3d" stroke-width="0.5"/>
</g>
<rect x="1125.5" y="1805.5" width="299" height="232" fill="none" stroke="#000" stroke-width="1.11"/>
<line x1="1424.5" y1="1814.5" x2="1429.36" y2="1814.5" stroke="#000" stroke-width="1.11"/>
<text x="1434.26" y="1820" font-size="13.89" text-anchor="start">2.0</text>
<line x1="1424.5" y1="1852.5" x2="1429.36" y2="1852.5" stroke="#000" stroke-width="1.11"/>
<text x="1434.26" y="1858" font-size="13.89" text-anchor="start">1.5</text>
<line x1="1424.5" y1="1889.5" x2="1429.36" y2="1889.5" stroke="#000" stroke-width="1.11"/>
<text x="1434.26" y="1895" font-size="13.89" text-anchor="start">1.0</text>
<line x1="1424.5" y1="1927.5" x2="1429.36" y2="1927.5" stroke="#000" stroke-width="1.11"/>
<text x="1434.26" y="1933" font-size="13.89" text-anchor="start">0.5</text>
<line x1="1424.5" y1="1964.5" x2="1429.36" y2="1964.5" stroke="#000" stroke-width="1.11"/>
<text x="1434.26" y="1970" font-size="13.89" text-anchor="start">0.0</text>
<line x1="1424.5" y1="2002.5" x2="1429.36" y2="2002.5" stroke="#000" stroke-width="1.11"/>
<text x="1434.26" y="2008" font-size="13.89" text-anchor="start">-0.5</text>
<line x1="1141.5" y1="2037.5" x2="1141.5" y2="2051.9" stroke="#000" stroke-width="1.11"/>
<text x="1141.75" y="2068.2" font-size="12.1" text-anchor="middle">C</text>
<line x1="1174.5" y1="2037.5" x2="1174.5" y2="2042.36" stroke="#000" stroke-width="1.11"/>
<text x="1174.95" y="2054" font-size="12.1" text-anchor="middle">C++</text>
<line x1="1208.5" y1="2037.5" x2="1208.5" y2="2051.9" stroke="#000" stroke-width="1.11"/>
<text x="1208.15" y="2068.2" font-size="12.1" text-anchor="middle">Go</text>
<line x1="1241.5" y1="2037.5" x2="1241.5" y2="2042.36" stroke="#000" stroke-width="1.11"/>
<text x="1241.35" y="2054" font-size="12.1" text-anchor="middle">HTML</text>
<line x1="1274.5" y1="2037.5" x2="1274.5" y2="2051.9" stroke="#000" stroke-width="1.11"/>
<text x="1274.55" y="2068.2" font-size="12.1" text-anchor="middle">JS</text>
<line x1="1307.5" y1="2037.5" x2="1307.5" y2="2042.36" stroke="#000" stroke-width="1.11"/>
<text x="1307.75" y="2054" font-size="12.1" text-anchor="middle">Java</text>
<line x1="1340.5" y1="2037.5" x2="1340.5" y2="2051.9" stroke="#000" stroke-width="1.11"/>
<text x="1340.95" y="2068.2" font-size="12.1" text-anchor="middle">PHP</text>
<line x1="1374.5" y1="2037.5" x2="1374.5" y2="2042.36" stroke="#000" stroke-width="1.11"/>
<text x="1374.15" y="2054" font-size="12.1" text-anchor="middle">Python</text>
<line x1="1407.5" y1="2037.5" x2="1407.5" y2="2051.9" stroke="#000" stroke-width="1.11"/>
<text x="1407.35" y="2068.2" font-size="12.1" text-anchor="middle">XML</text>
<text x="1475.7" y="1921.8" font-size="13.89" text-anchor="middle" transform="rotate(-90 1475.7 1921.8)">sequence loss increase (%)</text>
</g>
</svg>
</body></html>
